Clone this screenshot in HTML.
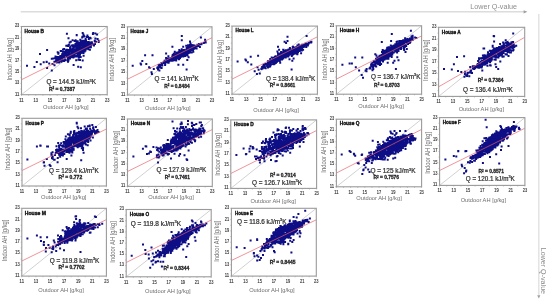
<!DOCTYPE html>
<html><head><meta charset="utf-8"><title>Indoor vs outdoor AH</title>
<style>
html,body{margin:0;padding:0;background:#fff;}
svg{display:block;font-family:"Liberation Sans", Arial, sans-serif;filter:blur(0.3px);}
</style></head><body>
<svg width="550" height="308" viewBox="0 0 550 308">
<rect width="550" height="308" fill="#fff"/>
<text x="0" y="0" font-size="6.3" fill="#6e6e6e" text-anchor="middle" transform="translate(11.87,59.30) rotate(-90)" textLength="42.6" lengthAdjust="spacingAndGlyphs">Indoor AH [g/kg]</text>
<text x="65.80" y="109.00" font-size="5.8" fill="#6e6e6e" text-anchor="middle" textLength="45.50" lengthAdjust="spacingAndGlyphs">Outdoor AH [g/kg]</text>
<text x="19.30" y="95.60" font-size="4.8" fill="#383838" text-anchor="end" textLength="4.40" lengthAdjust="spacingAndGlyphs" stroke="#383838" stroke-width="0.15">11</text>
<text x="21.50" y="101.60" font-size="4.8" fill="#383838" text-anchor="middle" textLength="4.40" lengthAdjust="spacingAndGlyphs" stroke="#383838" stroke-width="0.15">11</text>
<text x="19.30" y="84.23" font-size="4.8" fill="#383838" text-anchor="end" textLength="4.40" lengthAdjust="spacingAndGlyphs" stroke="#383838" stroke-width="0.15">13</text>
<text x="35.78" y="101.60" font-size="4.8" fill="#383838" text-anchor="middle" textLength="4.40" lengthAdjust="spacingAndGlyphs" stroke="#383838" stroke-width="0.15">13</text>
<text x="19.30" y="72.87" font-size="4.8" fill="#383838" text-anchor="end" textLength="4.40" lengthAdjust="spacingAndGlyphs" stroke="#383838" stroke-width="0.15">15</text>
<text x="50.07" y="101.60" font-size="4.8" fill="#383838" text-anchor="middle" textLength="4.40" lengthAdjust="spacingAndGlyphs" stroke="#383838" stroke-width="0.15">15</text>
<text x="19.30" y="61.50" font-size="4.8" fill="#383838" text-anchor="end" textLength="4.40" lengthAdjust="spacingAndGlyphs" stroke="#383838" stroke-width="0.15">17</text>
<text x="64.35" y="101.60" font-size="4.8" fill="#383838" text-anchor="middle" textLength="4.40" lengthAdjust="spacingAndGlyphs" stroke="#383838" stroke-width="0.15">17</text>
<text x="19.30" y="50.13" font-size="4.8" fill="#383838" text-anchor="end" textLength="4.40" lengthAdjust="spacingAndGlyphs" stroke="#383838" stroke-width="0.15">19</text>
<text x="78.63" y="101.60" font-size="4.8" fill="#383838" text-anchor="middle" textLength="4.40" lengthAdjust="spacingAndGlyphs" stroke="#383838" stroke-width="0.15">19</text>
<text x="19.30" y="38.77" font-size="4.8" fill="#383838" text-anchor="end" textLength="4.40" lengthAdjust="spacingAndGlyphs" stroke="#383838" stroke-width="0.15">21</text>
<text x="92.92" y="101.60" font-size="4.8" fill="#383838" text-anchor="middle" textLength="4.40" lengthAdjust="spacingAndGlyphs" stroke="#383838" stroke-width="0.15">21</text>
<text x="19.30" y="27.40" font-size="4.8" fill="#383838" text-anchor="end" textLength="4.40" lengthAdjust="spacingAndGlyphs" stroke="#383838" stroke-width="0.15">23</text>
<text x="107.20" y="101.60" font-size="4.8" fill="#383838" text-anchor="middle" textLength="4.40" lengthAdjust="spacingAndGlyphs" stroke="#383838" stroke-width="0.15">23</text>
<line x1="21.50" y1="94.70" x2="107.20" y2="26.50" stroke="#bdbdbd" stroke-width="0.7"/>
<path fill="#0d0d86" d="M62.3 55.0h2v2h-2zM57.1 58.0h2v2h-2zM84.6 38.0h2v2h-2zM80.8 41.4h2v2h-2zM75.5 47.0h2v2h-2zM64.4 54.5h2v2h-2zM66.7 55.5h2v2h-2zM71.9 45.0h2v2h-2zM75.0 40.4h2v2h-2zM66.6 50.8h2v2h-2zM78.8 52.5h2v2h-2zM77.6 51.2h2v2h-2zM82.4 50.2h2v2h-2zM88.1 41.2h2v2h-2zM68.2 49.7h2v2h-2zM67.8 51.5h2v2h-2zM76.8 48.2h2v2h-2zM84.5 49.4h2v2h-2zM77.3 49.5h2v2h-2zM81.1 46.5h2v2h-2zM83.8 41.7h2v2h-2zM86.0 47.7h2v2h-2zM91.4 42.7h2v2h-2zM61.1 53.4h2v2h-2zM76.5 50.1h2v2h-2zM65.5 54.4h2v2h-2zM75.5 40.3h2v2h-2zM83.3 46.8h2v2h-2zM86.9 44.8h2v2h-2zM72.4 44.7h2v2h-2zM72.0 49.8h2v2h-2zM71.8 47.4h2v2h-2zM82.0 44.6h2v2h-2zM78.9 50.9h2v2h-2zM62.4 53.5h2v2h-2zM83.4 48.2h2v2h-2zM80.7 41.7h2v2h-2zM83.9 41.9h2v2h-2zM57.5 56.5h2v2h-2zM72.1 55.1h2v2h-2zM64.8 49.9h2v2h-2zM91.2 42.7h2v2h-2zM69.0 57.5h2v2h-2zM62.1 50.8h2v2h-2zM78.8 42.9h2v2h-2zM82.8 41.1h2v2h-2zM67.9 54.1h2v2h-2zM71.3 51.0h2v2h-2zM77.0 47.2h2v2h-2zM75.0 50.5h2v2h-2zM81.3 49.2h2v2h-2zM60.3 60.8h2v2h-2zM57.3 58.6h2v2h-2zM89.6 43.8h2v2h-2zM83.4 45.7h2v2h-2zM67.9 53.6h2v2h-2zM66.0 55.4h2v2h-2zM62.2 59.7h2v2h-2zM72.0 54.0h2v2h-2zM57.9 60.0h2v2h-2zM76.7 47.7h2v2h-2zM63.3 60.0h2v2h-2zM82.1 50.1h2v2h-2zM74.0 45.6h2v2h-2zM72.1 53.1h2v2h-2zM62.4 56.2h2v2h-2zM55.3 58.6h2v2h-2zM81.0 49.8h2v2h-2zM85.1 47.2h2v2h-2zM84.1 49.3h2v2h-2zM75.3 47.3h2v2h-2zM89.4 43.4h2v2h-2zM59.7 50.0h2v2h-2zM82.6 54.8h2v2h-2zM69.0 49.7h2v2h-2zM73.0 51.5h2v2h-2zM63.9 51.2h2v2h-2zM74.4 51.1h2v2h-2zM90.0 41.6h2v2h-2zM62.3 56.6h2v2h-2zM75.0 51.6h2v2h-2zM75.1 48.5h2v2h-2zM87.0 46.5h2v2h-2zM68.9 54.3h2v2h-2zM67.0 54.1h2v2h-2zM66.1 53.7h2v2h-2zM51.5 63.1h2v2h-2zM71.5 49.7h2v2h-2zM60.5 58.0h2v2h-2zM85.4 41.8h2v2h-2zM71.4 51.2h2v2h-2zM97.7 41.1h2v2h-2zM79.1 47.1h2v2h-2zM79.9 48.7h2v2h-2zM68.7 49.1h2v2h-2zM81.8 47.8h2v2h-2zM83.3 39.8h2v2h-2zM66.8 51.2h2v2h-2zM56.8 61.1h2v2h-2zM80.5 51.3h2v2h-2zM76.7 40.3h2v2h-2zM73.3 54.1h2v2h-2zM74.9 51.4h2v2h-2zM82.2 48.4h2v2h-2zM83.0 46.0h2v2h-2zM92.2 43.4h2v2h-2zM61.3 57.0h2v2h-2zM74.4 43.9h2v2h-2zM76.0 54.8h2v2h-2zM89.8 45.0h2v2h-2zM79.7 56.0h2v2h-2zM78.0 46.8h2v2h-2zM55.8 61.4h2v2h-2zM71.5 55.8h2v2h-2zM85.8 47.7h2v2h-2zM83.0 46.9h2v2h-2zM75.5 50.8h2v2h-2zM74.8 55.2h2v2h-2zM87.1 44.8h2v2h-2zM81.5 35.8h2v2h-2zM81.6 50.9h2v2h-2zM69.0 46.7h2v2h-2zM82.5 42.8h2v2h-2zM73.2 53.9h2v2h-2zM64.9 51.7h2v2h-2zM79.5 46.1h2v2h-2zM85.6 47.0h2v2h-2zM70.4 50.5h2v2h-2zM71.2 49.1h2v2h-2zM72.8 49.0h2v2h-2zM85.0 44.9h2v2h-2zM77.4 51.6h2v2h-2zM75.5 44.3h2v2h-2zM89.4 44.0h2v2h-2zM71.4 48.4h2v2h-2zM77.5 58.7h2v2h-2zM57.7 60.0h2v2h-2zM85.0 39.4h2v2h-2zM83.2 49.7h2v2h-2zM69.3 55.7h2v2h-2zM56.0 60.1h2v2h-2zM87.3 47.5h2v2h-2zM54.7 60.4h2v2h-2zM63.8 50.9h2v2h-2zM74.2 43.6h2v2h-2zM68.5 49.2h2v2h-2zM73.3 50.0h2v2h-2zM75.4 47.4h2v2h-2zM94.0 43.1h2v2h-2zM83.7 50.6h2v2h-2zM67.1 45.1h2v2h-2zM77.6 45.9h2v2h-2zM75.6 43.4h2v2h-2zM75.4 44.2h2v2h-2zM77.7 56.3h2v2h-2zM77.0 55.2h2v2h-2zM80.5 51.1h2v2h-2zM67.1 56.4h2v2h-2zM54.1 57.3h2v2h-2zM61.9 59.4h2v2h-2zM69.6 53.3h2v2h-2zM58.1 56.1h2v2h-2zM60.0 56.2h2v2h-2zM66.1 48.7h2v2h-2zM55.1 59.4h2v2h-2zM71.6 54.3h2v2h-2zM60.2 56.4h2v2h-2zM85.9 43.3h2v2h-2zM61.5 52.7h2v2h-2zM75.9 47.5h2v2h-2zM87.2 44.2h2v2h-2zM86.8 45.5h2v2h-2zM59.9 57.5h2v2h-2zM79.0 53.0h2v2h-2zM79.6 43.1h2v2h-2zM83.6 40.1h2v2h-2zM79.1 43.4h2v2h-2zM76.4 52.4h2v2h-2zM87.4 44.5h2v2h-2zM84.5 44.2h2v2h-2zM73.6 45.4h2v2h-2zM57.2 59.1h2v2h-2zM75.2 46.6h2v2h-2zM79.5 40.8h2v2h-2zM80.9 50.2h2v2h-2zM74.3 44.0h2v2h-2zM58.7 57.8h2v2h-2zM75.9 45.3h2v2h-2zM68.1 49.5h2v2h-2zM88.5 46.1h2v2h-2zM79.2 48.4h2v2h-2zM84.1 42.4h2v2h-2zM76.6 47.3h2v2h-2zM77.4 49.0h2v2h-2zM73.9 50.5h2v2h-2zM62.8 53.0h2v2h-2zM75.3 51.9h2v2h-2zM85.4 41.2h2v2h-2zM83.1 43.5h2v2h-2zM73.9 55.4h2v2h-2zM59.3 54.9h2v2h-2zM73.8 53.6h2v2h-2zM80.9 44.1h2v2h-2zM83.1 41.0h2v2h-2zM71.2 55.1h2v2h-2zM74.7 42.9h2v2h-2zM60.2 59.5h2v2h-2zM68.0 55.1h2v2h-2zM78.8 50.4h2v2h-2zM75.5 48.8h2v2h-2zM64.1 52.5h2v2h-2zM58.7 59.8h2v2h-2zM72.4 45.5h2v2h-2zM70.7 51.6h2v2h-2zM73.8 48.8h2v2h-2zM64.1 53.2h2v2h-2zM78.1 56.6h2v2h-2zM57.7 59.8h2v2h-2zM71.8 54.2h2v2h-2zM82.3 43.4h2v2h-2zM66.7 49.0h2v2h-2zM69.3 56.8h2v2h-2zM62.8 54.4h2v2h-2zM78.2 51.8h2v2h-2zM75.2 44.8h2v2h-2zM76.4 49.5h2v2h-2zM88.1 43.0h2v2h-2zM76.9 52.0h2v2h-2zM83.9 45.2h2v2h-2zM76.9 50.1h2v2h-2zM75.3 45.6h2v2h-2zM53.4 60.8h2v2h-2zM81.7 47.9h2v2h-2zM78.8 43.1h2v2h-2zM62.7 59.9h2v2h-2zM68.0 56.2h2v2h-2zM60.6 57.7h2v2h-2zM65.0 52.7h2v2h-2zM70.3 56.1h2v2h-2zM75.5 44.5h2v2h-2zM89.3 41.9h2v2h-2zM58.1 61.4h2v2h-2zM58.7 57.4h2v2h-2zM72.0 53.8h2v2h-2zM73.1 52.7h2v2h-2zM70.4 56.0h2v2h-2zM76.7 53.8h2v2h-2zM71.7 49.4h2v2h-2zM75.3 55.4h2v2h-2zM71.6 47.8h2v2h-2zM66.3 59.2h2v2h-2zM79.6 44.1h2v2h-2zM78.1 46.4h2v2h-2zM86.8 47.6h2v2h-2zM72.4 49.6h2v2h-2zM70.3 49.5h2v2h-2zM63.1 56.1h2v2h-2zM65.6 52.3h2v2h-2zM71.7 52.2h2v2h-2zM76.0 50.3h2v2h-2zM56.5 56.1h2v2h-2zM63.5 50.8h2v2h-2zM79.8 48.1h2v2h-2zM69.4 48.7h2v2h-2zM68.3 50.1h2v2h-2zM88.5 44.9h2v2h-2zM78.2 52.5h2v2h-2zM66.3 55.0h2v2h-2zM66.9 55.0h2v2h-2zM70.2 52.7h2v2h-2zM68.9 50.5h2v2h-2zM83.7 46.8h2v2h-2zM84.2 43.3h2v2h-2zM72.4 48.7h2v2h-2zM67.0 54.3h2v2h-2zM90.1 43.4h2v2h-2zM69.2 55.2h2v2h-2zM82.4 43.4h2v2h-2zM81.0 43.6h2v2h-2zM93.0 44.4h2v2h-2zM79.4 44.0h2v2h-2zM76.9 41.8h2v2h-2zM73.6 44.7h2v2h-2zM75.6 48.9h2v2h-2zM93.7 39.8h2v2h-2zM65.3 48.7h2v2h-2zM79.6 47.9h2v2h-2zM67.0 58.3h2v2h-2zM71.2 47.7h2v2h-2zM67.6 57.2h2v2h-2zM78.8 54.3h2v2h-2zM53.5 64.3h2v2h-2zM65.1 52.9h2v2h-2zM76.3 51.5h2v2h-2zM73.5 53.2h2v2h-2zM72.6 46.5h2v2h-2zM66.8 56.6h2v2h-2zM83.2 42.5h2v2h-2zM65.9 49.0h2v2h-2zM78.2 45.8h2v2h-2zM81.1 40.5h2v2h-2zM87.5 42.6h2v2h-2zM86.5 44.9h2v2h-2zM66.6 54.0h2v2h-2zM78.0 45.1h2v2h-2zM89.9 46.3h2v2h-2zM66.8 53.5h2v2h-2zM64.1 51.6h2v2h-2zM70.0 54.6h2v2h-2zM73.7 53.4h2v2h-2zM79.2 41.9h2v2h-2zM76.8 50.4h2v2h-2zM79.0 42.5h2v2h-2zM80.6 44.1h2v2h-2zM89.6 45.7h2v2h-2zM63.5 54.3h2v2h-2zM81.7 47.8h2v2h-2zM73.5 54.7h2v2h-2zM65.2 51.2h2v2h-2zM54.5 55.6h2v2h-2zM75.6 46.7h2v2h-2zM79.3 38.8h2v2h-2zM86.0 45.9h2v2h-2zM75.9 42.0h2v2h-2zM77.0 46.3h2v2h-2zM84.6 44.2h2v2h-2zM80.0 49.6h2v2h-2zM66.2 53.3h2v2h-2zM90.8 41.2h2v2h-2zM87.0 41.3h2v2h-2zM67.0 60.8h2v2h-2zM90.1 41.7h2v2h-2zM68.4 51.1h2v2h-2zM67.3 50.8h2v2h-2zM72.7 53.3h2v2h-2zM74.8 44.5h2v2h-2zM82.0 47.4h2v2h-2zM70.5 44.4h2v2h-2zM57.1 57.9h2v2h-2zM68.3 56.3h2v2h-2zM61.6 58.9h2v2h-2zM55.5 59.2h2v2h-2zM81.4 39.7h2v2h-2zM88.9 48.7h2v2h-2zM56.3 60.9h2v2h-2zM66.7 50.4h2v2h-2zM81.3 51.7h2v2h-2zM85.8 41.7h2v2h-2zM72.0 44.3h2v2h-2zM79.7 52.0h2v2h-2zM87.2 41.0h2v2h-2zM76.9 54.9h2v2h-2zM69.8 53.5h2v2h-2zM55.5 56.9h2v2h-2zM64.8 51.6h2v2h-2zM64.7 50.3h2v2h-2zM73.4 51.7h2v2h-2zM64.1 59.0h2v2h-2zM90.9 41.4h2v2h-2zM78.8 42.1h2v2h-2zM67.5 59.5h2v2h-2zM79.8 51.7h2v2h-2zM72.9 55.7h2v2h-2zM84.7 43.1h2v2h-2zM74.2 44.2h2v2h-2zM63.8 56.7h2v2h-2zM63.1 48.1h2v2h-2zM71.7 49.0h2v2h-2zM63.9 52.3h2v2h-2zM77.8 48.0h2v2h-2zM84.0 46.0h2v2h-2zM82.5 52.0h2v2h-2zM77.9 47.1h2v2h-2zM61.0 55.3h2v2h-2zM63.0 50.7h2v2h-2zM73.0 45.8h2v2h-2zM91.3 43.2h2v2h-2zM62.9 56.3h2v2h-2zM87.6 48.3h2v2h-2zM88.1 45.9h2v2h-2zM56.1 57.4h2v2h-2zM83.6 48.5h2v2h-2zM94.0 40.5h2v2h-2zM76.7 44.1h2v2h-2zM66.7 44.6h2v2h-2zM72.8 47.7h2v2h-2zM76.6 44.7h2v2h-2zM67.1 50.9h2v2h-2zM79.9 45.1h2v2h-2zM69.4 45.8h2v2h-2zM59.4 57.3h2v2h-2zM74.8 49.9h2v2h-2zM78.3 50.7h2v2h-2zM72.3 51.7h2v2h-2zM90.2 41.8h2v2h-2zM80.0 51.1h2v2h-2zM77.5 54.1h2v2h-2zM67.0 56.1h2v2h-2zM67.9 51.4h2v2h-2zM72.3 56.6h2v2h-2zM78.0 43.2h2v2h-2zM82.8 50.6h2v2h-2zM75.6 48.3h2v2h-2zM73.7 40.0h2v2h-2zM68.7 41.4h2v2h-2zM62.0 48.6h2v2h-2zM85.8 35.9h2v2h-2zM83.4 35.4h2v2h-2zM56.7 51.3h2v2h-2zM89.6 37.3h2v2h-2zM74.6 39.3h2v2h-2zM87.0 36.1h2v2h-2zM89.0 36.7h2v2h-2zM81.2 36.6h2v2h-2zM86.4 34.6h2v2h-2zM91.9 32.9h2v2h-2zM69.8 40.7h2v2h-2zM52.4 57.6h2v2h-2zM71.6 39.3h2v2h-2zM82.4 33.5h2v2h-2zM57.3 52.8h2v2h-2zM46.1 48.9h2v2h-2zM57.5 52.0h2v2h-2zM60.1 49.9h2v2h-2zM50.8 57.7h2v2h-2zM45.6 60.8h2v2h-2zM48.2 62.4h2v2h-2zM46.1 67.0h2v2h-2zM50.8 69.6h2v2h-2zM72.6 64.0h2v2h-2zM77.2 65.8h2v2h-2zM79.8 66.2h2v2h-2zM75.2 59.3h2v2h-2zM65.3 44.7h2v2h-2zM67.9 43.7h2v2h-2zM81.7 32.0h2v2h-2zM82.8 34.7h2v2h-2zM75.7 34.2h2v2h-2zM92.2 32.0h2v2h-2zM94.4 32.5h2v2h-2zM96.1 33.6h2v2h-2zM94.4 37.5h2v2h-2zM96.6 38.0h2v2h-2zM97.7 39.7h2v2h-2zM95.0 40.8h2v2h-2zM87.8 38.0h2v2h-2zM79.0 59.0h2v2h-2zM81.7 59.6h2v2h-2zM39.0 53.1h2v2h-2zM35.8 60.9h2v2h-2zM26.0 64.7h2v2h-2zM33.4 66.1h2v2h-2zM39.7 63.3h2v2h-2zM42.7 61.2h2v2h-2zM45.7 61.0h2v2h-2zM65.9 32.8h2v2h-2zM75.7 33.9h2v2h-2zM67.5 37.2h2v2h-2z"/>
<line x1="21.50" y1="79.70" x2="107.20" y2="37.00" stroke="#e8606a" stroke-width="0.8" stroke-opacity="0.85"/>
<rect x="21.50" y="26.50" width="85.70" height="68.20" fill="none" stroke="#9a9a9a" stroke-width="1.1"/>
<path d="M21.50 94.70v1.2M20.30 94.70h1.2M28.64 94.70v1.2M20.30 89.02h1.2M35.78 94.70v1.2M20.30 83.33h1.2M42.92 94.70v1.2M20.30 77.65h1.2M50.07 94.70v1.2M20.30 71.97h1.2M57.21 94.70v1.2M20.30 66.28h1.2M64.35 94.70v1.2M20.30 60.60h1.2M71.49 94.70v1.2M20.30 54.92h1.2M78.63 94.70v1.2M20.30 49.23h1.2M85.78 94.70v1.2M20.30 43.55h1.2M92.92 94.70v1.2M20.30 37.87h1.2M100.06 94.70v1.2M20.30 32.18h1.2M107.20 94.70v1.2M20.30 26.50h1.2" stroke="#999" stroke-width="0.5" fill="none"/>
<text x="24.60" y="32.70" font-size="5.1" fill="#111" font-weight="bold" textLength="19.40" lengthAdjust="spacingAndGlyphs" stroke="#111" stroke-width="0.35">House B</text>
<text x="46.40" y="84.00" font-size="6.3" fill="#303030" stroke="#303030" stroke-width="0.22" textLength="49.60" lengthAdjust="spacingAndGlyphs">Q = 144.5 kJ/m<tspan font-size="3.91" dy="-2.4">3</tspan><tspan dy="2.4">K</tspan></text>
<text x="48.90" y="90.60" font-size="5.3" fill="#1e1e1e" stroke="#1e1e1e" stroke-width="0.28" font-weight="bold" textLength="26.10" lengthAdjust="spacingAndGlyphs">R<tspan font-size="3.18" dy="-1.8">2</tspan><tspan dy="1.8"> = 0.7387</tspan></text>
<text x="0" y="0" font-size="6.3" fill="#6e6e6e" text-anchor="middle" transform="translate(114.27,59.60) rotate(-90)" textLength="43.5" lengthAdjust="spacingAndGlyphs">Indoor AH [g/kg]</text>
<text x="167.80" y="110.00" font-size="5.8" fill="#6e6e6e" text-anchor="middle" textLength="45.50" lengthAdjust="spacingAndGlyphs">Outdoor AH [g/kg]</text>
<text x="125.30" y="95.90" font-size="4.8" fill="#383838" text-anchor="end" textLength="4.40" lengthAdjust="spacingAndGlyphs" stroke="#383838" stroke-width="0.15">11</text>
<text x="127.50" y="101.90" font-size="4.8" fill="#383838" text-anchor="middle" textLength="4.40" lengthAdjust="spacingAndGlyphs" stroke="#383838" stroke-width="0.15">11</text>
<text x="125.30" y="84.53" font-size="4.8" fill="#383838" text-anchor="end" textLength="4.40" lengthAdjust="spacingAndGlyphs" stroke="#383838" stroke-width="0.15">13</text>
<text x="141.58" y="101.90" font-size="4.8" fill="#383838" text-anchor="middle" textLength="4.40" lengthAdjust="spacingAndGlyphs" stroke="#383838" stroke-width="0.15">13</text>
<text x="125.30" y="73.17" font-size="4.8" fill="#383838" text-anchor="end" textLength="4.40" lengthAdjust="spacingAndGlyphs" stroke="#383838" stroke-width="0.15">15</text>
<text x="155.67" y="101.90" font-size="4.8" fill="#383838" text-anchor="middle" textLength="4.40" lengthAdjust="spacingAndGlyphs" stroke="#383838" stroke-width="0.15">15</text>
<text x="125.30" y="61.80" font-size="4.8" fill="#383838" text-anchor="end" textLength="4.40" lengthAdjust="spacingAndGlyphs" stroke="#383838" stroke-width="0.15">17</text>
<text x="169.75" y="101.90" font-size="4.8" fill="#383838" text-anchor="middle" textLength="4.40" lengthAdjust="spacingAndGlyphs" stroke="#383838" stroke-width="0.15">17</text>
<text x="125.30" y="50.43" font-size="4.8" fill="#383838" text-anchor="end" textLength="4.40" lengthAdjust="spacingAndGlyphs" stroke="#383838" stroke-width="0.15">19</text>
<text x="183.83" y="101.90" font-size="4.8" fill="#383838" text-anchor="middle" textLength="4.40" lengthAdjust="spacingAndGlyphs" stroke="#383838" stroke-width="0.15">19</text>
<text x="125.30" y="39.07" font-size="4.8" fill="#383838" text-anchor="end" textLength="4.40" lengthAdjust="spacingAndGlyphs" stroke="#383838" stroke-width="0.15">21</text>
<text x="197.92" y="101.90" font-size="4.8" fill="#383838" text-anchor="middle" textLength="4.40" lengthAdjust="spacingAndGlyphs" stroke="#383838" stroke-width="0.15">21</text>
<text x="125.30" y="27.70" font-size="4.8" fill="#383838" text-anchor="end" textLength="4.40" lengthAdjust="spacingAndGlyphs" stroke="#383838" stroke-width="0.15">23</text>
<text x="212.00" y="101.90" font-size="4.8" fill="#383838" text-anchor="middle" textLength="4.40" lengthAdjust="spacingAndGlyphs" stroke="#383838" stroke-width="0.15">23</text>
<line x1="127.50" y1="95.00" x2="212.00" y2="26.80" stroke="#bdbdbd" stroke-width="0.7"/>
<path fill="#0d0d86" d="M183.5 51.5h2v2h-2zM179.9 55.5h2v2h-2zM192.3 50.8h2v2h-2zM182.4 51.6h2v2h-2zM179.0 57.1h2v2h-2zM179.9 51.8h2v2h-2zM188.6 51.3h2v2h-2zM189.9 44.4h2v2h-2zM160.9 63.1h2v2h-2zM157.3 66.4h2v2h-2zM166.6 61.2h2v2h-2zM168.6 59.0h2v2h-2zM182.8 55.0h2v2h-2zM159.4 63.9h2v2h-2zM182.9 50.4h2v2h-2zM204.7 41.6h2v2h-2zM183.9 50.4h2v2h-2zM189.4 51.5h2v2h-2zM177.3 56.1h2v2h-2zM177.5 52.8h2v2h-2zM182.6 53.2h2v2h-2zM191.5 45.3h2v2h-2zM186.5 54.5h2v2h-2zM177.1 55.3h2v2h-2zM181.9 54.0h2v2h-2zM182.8 54.0h2v2h-2zM185.9 49.9h2v2h-2zM150.5 71.2h2v2h-2zM174.0 53.2h2v2h-2zM186.8 46.1h2v2h-2zM190.7 51.5h2v2h-2zM173.4 56.2h2v2h-2zM188.4 45.5h2v2h-2zM160.9 62.8h2v2h-2zM168.2 60.3h2v2h-2zM182.5 53.1h2v2h-2zM182.8 49.1h2v2h-2zM174.0 56.3h2v2h-2zM185.8 49.1h2v2h-2zM182.2 51.2h2v2h-2zM180.3 51.2h2v2h-2zM174.4 57.6h2v2h-2zM197.5 44.9h2v2h-2zM180.8 54.9h2v2h-2zM182.7 54.2h2v2h-2zM171.9 54.1h2v2h-2zM172.7 55.6h2v2h-2zM180.1 52.8h2v2h-2zM157.7 63.9h2v2h-2zM165.1 57.0h2v2h-2zM183.1 53.8h2v2h-2zM175.8 57.5h2v2h-2zM181.5 53.7h2v2h-2zM167.7 59.5h2v2h-2zM189.2 48.1h2v2h-2zM192.7 45.1h2v2h-2zM172.2 56.3h2v2h-2zM190.9 48.0h2v2h-2zM177.4 53.0h2v2h-2zM176.8 53.5h2v2h-2zM186.8 45.2h2v2h-2zM161.3 63.8h2v2h-2zM184.0 50.9h2v2h-2zM181.3 51.6h2v2h-2zM167.8 57.5h2v2h-2zM171.7 59.4h2v2h-2zM173.8 50.7h2v2h-2zM159.2 66.4h2v2h-2zM172.8 52.7h2v2h-2zM156.3 67.1h2v2h-2zM174.7 55.2h2v2h-2zM187.5 51.0h2v2h-2zM166.5 59.0h2v2h-2zM202.8 42.1h2v2h-2zM185.8 50.4h2v2h-2zM174.8 55.8h2v2h-2zM177.6 55.1h2v2h-2zM178.7 56.4h2v2h-2zM160.6 62.7h2v2h-2zM185.2 44.8h2v2h-2zM175.8 54.3h2v2h-2zM166.9 60.4h2v2h-2zM189.5 42.6h2v2h-2zM191.8 45.1h2v2h-2zM174.3 55.2h2v2h-2zM161.0 64.5h2v2h-2zM171.5 56.3h2v2h-2zM170.9 59.7h2v2h-2zM181.5 55.1h2v2h-2zM157.0 68.5h2v2h-2zM187.5 49.5h2v2h-2zM179.6 54.4h2v2h-2zM179.8 52.4h2v2h-2zM173.0 54.7h2v2h-2zM177.2 53.2h2v2h-2zM195.6 47.4h2v2h-2zM189.8 44.8h2v2h-2zM193.5 44.6h2v2h-2zM167.6 61.6h2v2h-2zM186.2 52.0h2v2h-2zM182.6 49.4h2v2h-2zM182.4 53.1h2v2h-2zM165.9 57.9h2v2h-2zM181.3 53.4h2v2h-2zM179.1 56.1h2v2h-2zM178.5 54.8h2v2h-2zM189.5 50.8h2v2h-2zM176.5 57.2h2v2h-2zM189.0 44.0h2v2h-2zM164.2 63.0h2v2h-2zM186.1 51.2h2v2h-2zM178.3 57.5h2v2h-2zM169.3 58.6h2v2h-2zM191.8 44.8h2v2h-2zM191.3 49.0h2v2h-2zM171.8 57.1h2v2h-2zM186.4 47.2h2v2h-2zM192.7 47.5h2v2h-2zM168.4 59.9h2v2h-2zM175.2 59.4h2v2h-2zM186.4 47.2h2v2h-2zM175.1 59.0h2v2h-2zM180.1 55.7h2v2h-2zM182.2 45.8h2v2h-2zM187.6 47.4h2v2h-2zM185.6 48.9h2v2h-2zM184.2 54.9h2v2h-2zM160.5 62.1h2v2h-2zM169.6 57.2h2v2h-2zM191.8 44.8h2v2h-2zM187.7 47.0h2v2h-2zM180.7 48.3h2v2h-2zM193.3 47.7h2v2h-2zM169.3 59.3h2v2h-2zM192.9 46.4h2v2h-2zM189.4 46.2h2v2h-2zM190.9 44.5h2v2h-2zM184.5 51.7h2v2h-2zM178.4 51.0h2v2h-2zM187.9 48.5h2v2h-2zM198.5 43.4h2v2h-2zM181.8 52.7h2v2h-2zM186.0 53.6h2v2h-2zM190.7 48.6h2v2h-2zM183.2 52.9h2v2h-2zM204.4 40.4h2v2h-2zM165.2 61.0h2v2h-2zM191.6 45.8h2v2h-2zM182.1 52.0h2v2h-2zM193.1 45.6h2v2h-2zM184.5 51.9h2v2h-2zM185.7 47.1h2v2h-2zM186.6 46.7h2v2h-2zM183.1 49.8h2v2h-2zM181.8 54.3h2v2h-2zM164.7 59.5h2v2h-2zM176.8 56.7h2v2h-2zM191.8 47.4h2v2h-2zM179.9 55.8h2v2h-2zM164.1 63.9h2v2h-2zM204.1 38.7h2v2h-2zM162.8 61.1h2v2h-2zM166.1 57.4h2v2h-2zM167.1 60.7h2v2h-2zM177.6 53.0h2v2h-2zM184.8 51.8h2v2h-2zM180.8 52.1h2v2h-2zM187.8 51.0h2v2h-2zM190.6 43.9h2v2h-2zM173.3 57.6h2v2h-2zM175.3 51.9h2v2h-2zM172.8 54.6h2v2h-2zM181.6 54.7h2v2h-2zM191.1 45.3h2v2h-2zM184.2 49.4h2v2h-2zM184.6 49.7h2v2h-2zM185.1 51.7h2v2h-2zM158.4 65.8h2v2h-2zM174.4 57.8h2v2h-2zM168.7 58.9h2v2h-2zM167.1 61.4h2v2h-2zM184.7 49.3h2v2h-2zM168.0 60.0h2v2h-2zM178.9 56.0h2v2h-2zM192.5 46.0h2v2h-2zM189.5 45.6h2v2h-2zM165.0 60.3h2v2h-2zM185.0 54.0h2v2h-2zM184.0 51.0h2v2h-2zM178.0 58.3h2v2h-2zM172.0 57.9h2v2h-2zM187.1 44.3h2v2h-2zM187.6 52.0h2v2h-2zM173.4 57.7h2v2h-2zM189.5 50.6h2v2h-2zM159.1 64.4h2v2h-2zM178.3 50.7h2v2h-2zM169.4 59.5h2v2h-2zM175.1 54.5h2v2h-2zM178.1 54.3h2v2h-2zM181.5 51.9h2v2h-2zM175.3 54.8h2v2h-2zM178.3 49.0h2v2h-2zM192.0 48.7h2v2h-2zM182.4 50.3h2v2h-2zM171.3 58.5h2v2h-2zM179.7 54.7h2v2h-2zM174.0 56.3h2v2h-2zM165.6 58.4h2v2h-2zM193.7 44.9h2v2h-2zM181.5 52.9h2v2h-2zM177.7 51.2h2v2h-2zM179.8 51.0h2v2h-2zM179.8 53.6h2v2h-2zM192.5 47.3h2v2h-2zM183.2 53.0h2v2h-2zM167.9 58.1h2v2h-2zM176.0 57.5h2v2h-2zM189.2 48.9h2v2h-2zM198.9 46.1h2v2h-2zM170.4 59.0h2v2h-2zM175.2 58.6h2v2h-2zM190.3 46.7h2v2h-2zM187.9 50.6h2v2h-2zM167.6 61.8h2v2h-2zM193.2 45.7h2v2h-2zM171.5 54.4h2v2h-2zM170.7 58.4h2v2h-2zM169.0 57.7h2v2h-2zM180.5 51.4h2v2h-2zM178.5 50.2h2v2h-2zM169.9 57.9h2v2h-2zM167.5 59.0h2v2h-2zM173.6 58.5h2v2h-2zM200.5 43.0h2v2h-2zM160.6 67.0h2v2h-2zM171.4 55.9h2v2h-2zM158.4 69.4h2v2h-2zM181.8 54.0h2v2h-2zM172.6 55.2h2v2h-2zM165.8 57.4h2v2h-2zM164.1 61.0h2v2h-2zM175.8 57.0h2v2h-2zM179.9 49.9h2v2h-2zM175.4 52.8h2v2h-2zM186.3 52.7h2v2h-2zM171.7 56.4h2v2h-2zM183.9 49.2h2v2h-2zM177.0 55.3h2v2h-2zM191.9 46.7h2v2h-2zM182.1 54.1h2v2h-2zM196.4 43.7h2v2h-2zM177.8 54.1h2v2h-2zM191.9 48.3h2v2h-2zM179.7 52.5h2v2h-2zM181.2 50.0h2v2h-2zM180.1 52.2h2v2h-2zM176.1 54.6h2v2h-2zM176.7 56.6h2v2h-2zM183.1 48.9h2v2h-2zM182.4 54.1h2v2h-2zM174.0 54.7h2v2h-2zM186.7 50.6h2v2h-2zM163.6 59.7h2v2h-2zM167.4 55.3h2v2h-2zM174.9 56.3h2v2h-2zM167.8 57.7h2v2h-2zM175.1 54.0h2v2h-2zM194.2 47.1h2v2h-2zM156.7 66.2h2v2h-2zM169.9 59.1h2v2h-2zM190.5 49.1h2v2h-2zM179.7 50.3h2v2h-2zM180.7 50.0h2v2h-2zM183.6 51.1h2v2h-2zM189.8 48.3h2v2h-2zM192.2 44.2h2v2h-2zM181.2 50.3h2v2h-2zM185.1 51.4h2v2h-2zM173.9 59.0h2v2h-2zM152.8 68.0h2v2h-2zM177.8 54.6h2v2h-2zM171.2 59.4h2v2h-2zM174.2 55.8h2v2h-2zM182.2 55.0h2v2h-2zM163.0 62.1h2v2h-2zM174.1 55.6h2v2h-2zM158.3 64.7h2v2h-2zM177.7 54.8h2v2h-2zM176.3 51.6h2v2h-2zM198.0 43.0h2v2h-2zM172.7 52.9h2v2h-2zM194.4 45.4h2v2h-2zM177.7 52.6h2v2h-2zM194.1 46.3h2v2h-2zM172.5 59.6h2v2h-2zM195.7 45.2h2v2h-2zM186.5 53.1h2v2h-2zM181.5 51.4h2v2h-2zM193.6 44.9h2v2h-2zM175.1 55.2h2v2h-2zM172.7 57.1h2v2h-2zM186.7 52.1h2v2h-2zM192.3 45.8h2v2h-2zM164.8 61.0h2v2h-2zM179.0 53.6h2v2h-2zM192.6 47.3h2v2h-2zM200.3 42.8h2v2h-2zM165.6 57.9h2v2h-2zM172.7 58.9h2v2h-2zM181.7 53.8h2v2h-2zM178.7 56.0h2v2h-2zM191.2 47.9h2v2h-2zM182.3 55.4h2v2h-2zM181.2 51.2h2v2h-2zM189.6 44.8h2v2h-2zM164.7 59.5h2v2h-2zM160.6 64.0h2v2h-2zM200.3 43.2h2v2h-2zM171.1 56.4h2v2h-2zM144.1 54.3h2v2h-2zM151.5 54.3h2v2h-2zM141.3 60.0h2v2h-2zM145.3 62.9h2v2h-2zM165.1 52.6h2v2h-2zM171.4 45.8h2v2h-2zM148.1 66.3h2v2h-2zM150.9 73.1h2v2h-2zM140.1 63.4h2v2h-2zM180.8 35.1h2v2h-2zM180.8 39.2h2v2h-2zM199.9 36.5h2v2h-2zM189.0 40.6h2v2h-2zM185.6 68.6h2v2h-2zM182.2 63.8h2v2h-2zM177.4 63.8h2v2h-2zM186.3 59.0h2v2h-2zM187.6 56.3h2v2h-2zM131.7 64.8h2v2h-2zM139.6 62.5h2v2h-2zM148.7 67.0h2v2h-2z"/>
<line x1="127.50" y1="79.20" x2="212.00" y2="37.70" stroke="#e8606a" stroke-width="0.8" stroke-opacity="0.85"/>
<rect x="127.50" y="26.80" width="84.50" height="68.20" fill="none" stroke="#9a9a9a" stroke-width="1.1"/>
<path d="M127.50 95.00v1.2M126.30 95.00h1.2M134.54 95.00v1.2M126.30 89.32h1.2M141.58 95.00v1.2M126.30 83.63h1.2M148.62 95.00v1.2M126.30 77.95h1.2M155.67 95.00v1.2M126.30 72.27h1.2M162.71 95.00v1.2M126.30 66.58h1.2M169.75 95.00v1.2M126.30 60.90h1.2M176.79 95.00v1.2M126.30 55.22h1.2M183.83 95.00v1.2M126.30 49.53h1.2M190.88 95.00v1.2M126.30 43.85h1.2M197.92 95.00v1.2M126.30 38.17h1.2M204.96 95.00v1.2M126.30 32.48h1.2M212.00 95.00v1.2M126.30 26.80h1.2" stroke="#999" stroke-width="0.5" fill="none"/>
<text x="130.40" y="33.00" font-size="5.1" fill="#111" font-weight="bold" textLength="17.80" lengthAdjust="spacingAndGlyphs" stroke="#111" stroke-width="0.35">House J</text>
<text x="154.60" y="80.80" font-size="6.3" fill="#303030" stroke="#303030" stroke-width="0.22" textLength="44.20" lengthAdjust="spacingAndGlyphs">Q = 141 kJ/m<tspan font-size="3.91" dy="-2.4">3</tspan><tspan dy="2.4">K</tspan></text>
<text x="164.20" y="87.60" font-size="5.3" fill="#1e1e1e" stroke="#1e1e1e" stroke-width="0.28" font-weight="bold" textLength="25.40" lengthAdjust="spacingAndGlyphs">R<tspan font-size="3.18" dy="-1.8">2</tspan><tspan dy="1.8"> = 0.8484</tspan></text>
<text x="0" y="0" font-size="6.3" fill="#6e6e6e" text-anchor="middle" transform="translate(222.37,61.10) rotate(-90)" textLength="41.8" lengthAdjust="spacingAndGlyphs">Indoor AH [g/kg]</text>
<text x="276.10" y="111.80" font-size="5.8" fill="#6e6e6e" text-anchor="middle" textLength="45.50" lengthAdjust="spacingAndGlyphs">Outdoor AH [g/kg]</text>
<text x="229.80" y="95.10" font-size="4.8" fill="#383838" text-anchor="end" textLength="4.40" lengthAdjust="spacingAndGlyphs" stroke="#383838" stroke-width="0.15">11</text>
<text x="232.00" y="101.10" font-size="4.8" fill="#383838" text-anchor="middle" textLength="4.40" lengthAdjust="spacingAndGlyphs" stroke="#383838" stroke-width="0.15">11</text>
<text x="229.80" y="83.75" font-size="4.8" fill="#383838" text-anchor="end" textLength="4.40" lengthAdjust="spacingAndGlyphs" stroke="#383838" stroke-width="0.15">13</text>
<text x="246.23" y="101.10" font-size="4.8" fill="#383838" text-anchor="middle" textLength="4.40" lengthAdjust="spacingAndGlyphs" stroke="#383838" stroke-width="0.15">13</text>
<text x="229.80" y="72.40" font-size="4.8" fill="#383838" text-anchor="end" textLength="4.40" lengthAdjust="spacingAndGlyphs" stroke="#383838" stroke-width="0.15">15</text>
<text x="260.47" y="101.10" font-size="4.8" fill="#383838" text-anchor="middle" textLength="4.40" lengthAdjust="spacingAndGlyphs" stroke="#383838" stroke-width="0.15">15</text>
<text x="229.80" y="61.05" font-size="4.8" fill="#383838" text-anchor="end" textLength="4.40" lengthAdjust="spacingAndGlyphs" stroke="#383838" stroke-width="0.15">17</text>
<text x="274.70" y="101.10" font-size="4.8" fill="#383838" text-anchor="middle" textLength="4.40" lengthAdjust="spacingAndGlyphs" stroke="#383838" stroke-width="0.15">17</text>
<text x="229.80" y="49.70" font-size="4.8" fill="#383838" text-anchor="end" textLength="4.40" lengthAdjust="spacingAndGlyphs" stroke="#383838" stroke-width="0.15">19</text>
<text x="288.93" y="101.10" font-size="4.8" fill="#383838" text-anchor="middle" textLength="4.40" lengthAdjust="spacingAndGlyphs" stroke="#383838" stroke-width="0.15">19</text>
<text x="229.80" y="38.35" font-size="4.8" fill="#383838" text-anchor="end" textLength="4.40" lengthAdjust="spacingAndGlyphs" stroke="#383838" stroke-width="0.15">21</text>
<text x="303.17" y="101.10" font-size="4.8" fill="#383838" text-anchor="middle" textLength="4.40" lengthAdjust="spacingAndGlyphs" stroke="#383838" stroke-width="0.15">21</text>
<text x="229.80" y="27.00" font-size="4.8" fill="#383838" text-anchor="end" textLength="4.40" lengthAdjust="spacingAndGlyphs" stroke="#383838" stroke-width="0.15">23</text>
<text x="317.40" y="101.10" font-size="4.8" fill="#383838" text-anchor="middle" textLength="4.40" lengthAdjust="spacingAndGlyphs" stroke="#383838" stroke-width="0.15">23</text>
<line x1="232.00" y1="94.20" x2="317.40" y2="26.10" stroke="#bdbdbd" stroke-width="0.7"/>
<path fill="#0d0d86" d="M288.0 53.3h2v2h-2zM268.9 59.7h2v2h-2zM287.0 54.7h2v2h-2zM298.5 50.0h2v2h-2zM300.0 46.5h2v2h-2zM291.4 53.2h2v2h-2zM304.4 42.7h2v2h-2zM305.1 42.7h2v2h-2zM303.7 44.1h2v2h-2zM298.5 47.8h2v2h-2zM295.3 49.2h2v2h-2zM307.9 41.8h2v2h-2zM301.6 44.4h2v2h-2zM274.6 55.2h2v2h-2zM266.1 65.1h2v2h-2zM272.1 57.1h2v2h-2zM264.9 63.6h2v2h-2zM292.7 51.0h2v2h-2zM296.5 51.3h2v2h-2zM273.6 58.0h2v2h-2zM273.6 58.3h2v2h-2zM294.7 51.6h2v2h-2zM276.5 58.3h2v2h-2zM278.3 54.0h2v2h-2zM279.9 54.1h2v2h-2zM309.7 41.2h2v2h-2zM309.4 41.6h2v2h-2zM283.9 51.5h2v2h-2zM304.6 42.8h2v2h-2zM277.3 55.5h2v2h-2zM278.2 53.1h2v2h-2zM292.0 49.7h2v2h-2zM291.1 50.3h2v2h-2zM279.3 52.5h2v2h-2zM274.3 57.9h2v2h-2zM293.6 52.1h2v2h-2zM298.4 45.8h2v2h-2zM271.0 61.1h2v2h-2zM286.6 50.5h2v2h-2zM297.1 48.4h2v2h-2zM298.0 47.9h2v2h-2zM260.3 67.8h2v2h-2zM300.8 44.4h2v2h-2zM275.3 60.5h2v2h-2zM292.1 47.0h2v2h-2zM297.7 48.2h2v2h-2zM266.8 62.2h2v2h-2zM289.9 51.2h2v2h-2zM269.2 61.6h2v2h-2zM295.8 48.5h2v2h-2zM276.4 57.6h2v2h-2zM272.8 61.8h2v2h-2zM270.3 60.6h2v2h-2zM277.5 54.3h2v2h-2zM291.7 51.1h2v2h-2zM294.9 49.4h2v2h-2zM292.6 51.0h2v2h-2zM297.3 49.1h2v2h-2zM273.6 62.8h2v2h-2zM286.7 50.6h2v2h-2zM262.3 66.1h2v2h-2zM280.8 58.6h2v2h-2zM280.6 58.0h2v2h-2zM300.2 49.3h2v2h-2zM289.3 52.6h2v2h-2zM266.9 60.2h2v2h-2zM271.7 59.2h2v2h-2zM293.8 50.8h2v2h-2zM284.1 53.3h2v2h-2zM300.6 45.1h2v2h-2zM262.4 64.2h2v2h-2zM280.3 52.7h2v2h-2zM272.1 57.3h2v2h-2zM282.0 53.5h2v2h-2zM276.9 56.9h2v2h-2zM278.8 54.7h2v2h-2zM295.9 48.9h2v2h-2zM279.9 52.3h2v2h-2zM295.4 51.7h2v2h-2zM274.4 62.0h2v2h-2zM285.6 52.3h2v2h-2zM262.1 66.1h2v2h-2zM286.6 51.0h2v2h-2zM260.6 67.9h2v2h-2zM274.7 55.2h2v2h-2zM288.7 49.6h2v2h-2zM266.9 62.0h2v2h-2zM299.1 47.9h2v2h-2zM297.0 51.1h2v2h-2zM300.0 46.6h2v2h-2zM284.9 49.2h2v2h-2zM279.7 58.6h2v2h-2zM274.2 61.9h2v2h-2zM302.6 45.6h2v2h-2zM300.5 48.3h2v2h-2zM274.9 58.7h2v2h-2zM295.9 49.6h2v2h-2zM295.1 46.2h2v2h-2zM294.9 52.4h2v2h-2zM294.0 48.7h2v2h-2zM282.5 48.8h2v2h-2zM280.1 51.0h2v2h-2zM301.8 44.6h2v2h-2zM299.3 47.0h2v2h-2zM290.8 55.1h2v2h-2zM281.6 57.6h2v2h-2zM285.2 51.6h2v2h-2zM271.9 59.7h2v2h-2zM276.3 60.0h2v2h-2zM295.6 47.1h2v2h-2zM296.5 52.4h2v2h-2zM274.0 58.3h2v2h-2zM289.0 50.9h2v2h-2zM293.9 47.5h2v2h-2zM276.3 59.7h2v2h-2zM298.9 45.5h2v2h-2zM304.7 43.5h2v2h-2zM285.3 50.3h2v2h-2zM278.5 54.1h2v2h-2zM276.9 55.8h2v2h-2zM298.3 47.6h2v2h-2zM303.3 44.2h2v2h-2zM277.5 59.3h2v2h-2zM294.1 47.9h2v2h-2zM273.8 59.4h2v2h-2zM271.3 59.7h2v2h-2zM286.1 52.3h2v2h-2zM279.9 54.9h2v2h-2zM273.6 58.4h2v2h-2zM299.3 47.1h2v2h-2zM282.0 51.3h2v2h-2zM279.0 56.5h2v2h-2zM280.3 56.2h2v2h-2zM290.0 52.7h2v2h-2zM276.7 55.4h2v2h-2zM284.3 54.4h2v2h-2zM269.2 62.5h2v2h-2zM272.5 60.1h2v2h-2zM273.6 56.1h2v2h-2zM280.4 56.7h2v2h-2zM281.7 53.6h2v2h-2zM296.5 49.7h2v2h-2zM288.3 49.1h2v2h-2zM281.4 54.9h2v2h-2zM300.0 48.4h2v2h-2zM285.8 53.5h2v2h-2zM272.1 63.0h2v2h-2zM280.3 58.0h2v2h-2zM280.2 56.7h2v2h-2zM288.9 49.8h2v2h-2zM279.4 58.1h2v2h-2zM284.1 52.7h2v2h-2zM307.5 42.8h2v2h-2zM297.0 48.5h2v2h-2zM274.0 57.0h2v2h-2zM263.9 66.1h2v2h-2zM297.3 48.2h2v2h-2zM281.8 54.3h2v2h-2zM280.4 56.1h2v2h-2zM296.6 51.1h2v2h-2zM300.7 44.8h2v2h-2zM279.4 53.8h2v2h-2zM301.2 43.7h2v2h-2zM275.7 56.8h2v2h-2zM284.0 52.6h2v2h-2zM298.7 47.9h2v2h-2zM277.0 52.5h2v2h-2zM301.6 45.6h2v2h-2zM287.7 51.5h2v2h-2zM288.7 52.7h2v2h-2zM286.2 52.2h2v2h-2zM266.2 63.6h2v2h-2zM274.2 59.9h2v2h-2zM284.4 50.0h2v2h-2zM294.7 50.3h2v2h-2zM282.8 50.0h2v2h-2zM277.4 55.7h2v2h-2zM301.3 45.8h2v2h-2zM302.1 46.1h2v2h-2zM290.6 49.3h2v2h-2zM299.9 46.2h2v2h-2zM283.4 52.6h2v2h-2zM303.0 45.7h2v2h-2zM299.6 46.3h2v2h-2zM294.2 46.4h2v2h-2zM273.3 58.6h2v2h-2zM291.6 48.7h2v2h-2zM277.0 56.4h2v2h-2zM282.2 57.5h2v2h-2zM280.9 52.7h2v2h-2zM276.1 57.3h2v2h-2zM272.6 62.0h2v2h-2zM281.8 55.9h2v2h-2zM297.8 48.6h2v2h-2zM290.5 51.4h2v2h-2zM285.5 52.3h2v2h-2zM280.3 54.0h2v2h-2zM264.7 67.2h2v2h-2zM297.7 43.5h2v2h-2zM286.3 55.4h2v2h-2zM306.9 44.6h2v2h-2zM305.1 43.6h2v2h-2zM279.9 57.0h2v2h-2zM279.0 58.3h2v2h-2zM301.8 43.8h2v2h-2zM293.6 49.6h2v2h-2zM299.0 46.1h2v2h-2zM287.6 52.9h2v2h-2zM280.5 53.0h2v2h-2zM278.4 57.2h2v2h-2zM270.1 63.6h2v2h-2zM261.8 67.3h2v2h-2zM291.9 49.8h2v2h-2zM303.6 44.1h2v2h-2zM304.7 43.0h2v2h-2zM283.2 54.6h2v2h-2zM295.3 50.0h2v2h-2zM275.0 61.5h2v2h-2zM265.5 63.5h2v2h-2zM273.9 60.8h2v2h-2zM274.6 57.9h2v2h-2zM278.8 60.0h2v2h-2zM275.9 58.0h2v2h-2zM298.9 48.2h2v2h-2zM283.7 51.5h2v2h-2zM293.3 50.7h2v2h-2zM310.2 41.5h2v2h-2zM292.1 45.8h2v2h-2zM279.4 57.2h2v2h-2zM283.3 52.3h2v2h-2zM273.6 59.4h2v2h-2zM280.2 52.0h2v2h-2zM286.0 49.3h2v2h-2zM275.9 56.5h2v2h-2zM290.2 49.7h2v2h-2zM297.0 47.3h2v2h-2zM301.3 45.9h2v2h-2zM296.4 44.5h2v2h-2zM281.0 52.8h2v2h-2zM295.6 48.5h2v2h-2zM282.2 48.7h2v2h-2zM306.1 43.8h2v2h-2zM292.1 48.8h2v2h-2zM269.9 62.3h2v2h-2zM269.4 62.1h2v2h-2zM305.7 44.0h2v2h-2zM284.0 51.8h2v2h-2zM268.5 62.0h2v2h-2zM310.4 40.7h2v2h-2zM271.8 60.9h2v2h-2zM280.1 58.1h2v2h-2zM283.1 52.4h2v2h-2zM284.7 56.4h2v2h-2zM269.2 60.5h2v2h-2zM287.5 53.0h2v2h-2zM279.2 61.7h2v2h-2zM277.5 55.3h2v2h-2zM273.8 59.7h2v2h-2zM291.2 50.9h2v2h-2zM287.8 52.6h2v2h-2zM270.0 60.0h2v2h-2zM276.2 55.5h2v2h-2zM303.2 45.8h2v2h-2zM293.0 48.3h2v2h-2zM278.1 52.8h2v2h-2zM279.8 54.3h2v2h-2zM296.3 48.5h2v2h-2zM278.8 55.0h2v2h-2zM283.1 54.7h2v2h-2zM295.7 48.3h2v2h-2zM283.2 52.1h2v2h-2zM291.6 50.2h2v2h-2zM285.2 52.6h2v2h-2zM290.3 52.4h2v2h-2zM274.9 61.8h2v2h-2zM270.9 60.6h2v2h-2zM275.0 60.3h2v2h-2zM263.9 66.8h2v2h-2zM280.9 57.2h2v2h-2zM282.7 56.2h2v2h-2zM273.9 55.9h2v2h-2zM281.7 51.3h2v2h-2zM272.3 62.9h2v2h-2zM285.9 53.2h2v2h-2zM294.7 51.1h2v2h-2zM287.9 53.1h2v2h-2zM289.9 50.7h2v2h-2zM273.6 60.8h2v2h-2zM287.2 51.1h2v2h-2zM277.8 59.7h2v2h-2zM263.9 63.3h2v2h-2zM267.7 63.4h2v2h-2zM289.2 53.5h2v2h-2zM293.1 52.5h2v2h-2zM269.1 65.6h2v2h-2zM287.5 48.4h2v2h-2zM287.3 55.6h2v2h-2zM268.3 64.8h2v2h-2zM285.6 50.0h2v2h-2zM266.0 63.3h2v2h-2zM305.3 45.9h2v2h-2zM277.1 54.0h2v2h-2zM276.0 58.9h2v2h-2zM287.8 54.2h2v2h-2zM277.9 55.1h2v2h-2zM305.3 43.7h2v2h-2zM276.5 58.7h2v2h-2zM270.4 59.3h2v2h-2zM269.3 62.6h2v2h-2zM292.3 52.2h2v2h-2zM266.6 62.3h2v2h-2zM268.5 62.8h2v2h-2zM273.8 61.2h2v2h-2zM288.7 53.0h2v2h-2zM292.5 50.4h2v2h-2zM290.2 50.1h2v2h-2zM285.8 50.4h2v2h-2zM292.3 52.3h2v2h-2zM291.9 46.9h2v2h-2zM268.1 65.8h2v2h-2zM293.0 48.5h2v2h-2zM276.7 56.9h2v2h-2zM278.8 54.3h2v2h-2zM290.8 48.9h2v2h-2zM298.0 46.1h2v2h-2zM271.8 60.9h2v2h-2zM292.4 50.6h2v2h-2zM282.1 57.1h2v2h-2zM292.6 48.4h2v2h-2zM272.8 60.7h2v2h-2zM289.4 47.9h2v2h-2zM297.6 46.3h2v2h-2zM267.0 66.4h2v2h-2zM277.1 54.0h2v2h-2zM284.3 53.7h2v2h-2zM278.6 57.1h2v2h-2zM301.0 46.9h2v2h-2zM272.5 62.4h2v2h-2zM292.4 53.0h2v2h-2zM299.3 44.7h2v2h-2zM298.8 49.8h2v2h-2zM277.4 59.2h2v2h-2zM274.5 56.5h2v2h-2zM273.9 57.5h2v2h-2zM301.8 44.7h2v2h-2zM291.5 54.0h2v2h-2zM279.0 57.6h2v2h-2zM284.3 56.0h2v2h-2zM274.0 60.4h2v2h-2zM297.3 47.2h2v2h-2zM290.6 50.4h2v2h-2zM281.0 58.6h2v2h-2zM284.8 52.6h2v2h-2zM296.0 51.7h2v2h-2zM272.8 63.3h2v2h-2zM285.2 51.4h2v2h-2zM287.4 50.5h2v2h-2zM284.3 52.3h2v2h-2zM261.7 65.7h2v2h-2zM302.1 48.8h2v2h-2zM279.9 54.0h2v2h-2zM302.0 44.8h2v2h-2zM268.7 62.7h2v2h-2zM269.4 64.4h2v2h-2zM281.5 52.5h2v2h-2zM293.1 48.6h2v2h-2zM278.8 56.2h2v2h-2zM275.0 55.9h2v2h-2zM261.1 66.0h2v2h-2zM289.9 50.5h2v2h-2zM288.9 47.1h2v2h-2zM294.7 49.6h2v2h-2zM271.8 59.0h2v2h-2zM273.7 59.1h2v2h-2zM276.0 60.7h2v2h-2zM288.1 52.0h2v2h-2zM263.6 64.2h2v2h-2zM292.2 47.9h2v2h-2zM270.7 60.1h2v2h-2zM280.1 54.3h2v2h-2zM278.2 58.8h2v2h-2zM282.1 53.8h2v2h-2zM296.3 53.3h2v2h-2zM305.5 42.4h2v2h-2zM261.9 65.9h2v2h-2zM263.1 63.7h2v2h-2zM274.5 55.5h2v2h-2zM293.0 51.0h2v2h-2zM272.2 61.9h2v2h-2zM280.7 57.3h2v2h-2zM301.9 44.9h2v2h-2zM280.4 57.9h2v2h-2zM305.6 44.1h2v2h-2zM294.5 51.6h2v2h-2zM292.6 52.7h2v2h-2zM278.0 58.7h2v2h-2zM304.1 43.5h2v2h-2zM294.0 47.2h2v2h-2zM275.4 57.7h2v2h-2zM279.2 56.5h2v2h-2zM264.8 63.0h2v2h-2zM269.3 58.0h2v2h-2zM291.8 46.0h2v2h-2zM289.0 53.4h2v2h-2zM296.0 47.0h2v2h-2zM262.9 64.6h2v2h-2zM299.9 45.2h2v2h-2zM292.1 49.4h2v2h-2zM299.2 45.5h2v2h-2zM298.8 45.0h2v2h-2zM286.4 50.2h2v2h-2zM299.8 48.2h2v2h-2zM249.7 55.8h2v2h-2zM257.1 54.7h2v2h-2zM245.1 59.5h2v2h-2zM246.8 61.2h2v2h-2zM250.3 63.4h2v2h-2zM256.5 66.3h2v2h-2zM257.6 68.8h2v2h-2zM253.7 70.3h2v2h-2zM255.9 72.9h2v2h-2zM258.8 72.5h2v2h-2zM277.0 45.8h2v2h-2zM278.1 48.7h2v2h-2zM276.4 50.4h2v2h-2zM270.7 56.6h2v2h-2zM286.5 35.8h2v2h-2zM286.5 39.9h2v2h-2zM285.1 42.0h2v2h-2zM305.6 35.1h2v2h-2zM300.8 49.5h2v2h-2zM300.1 52.2h2v2h-2zM291.3 59.7h2v2h-2zM288.5 58.3h2v2h-2zM290.6 68.6h2v2h-2zM292.6 57.6h2v2h-2zM236.6 60.4h2v2h-2zM244.4 58.6h2v2h-2zM283.6 40.7h2v2h-2z"/>
<line x1="232.00" y1="79.10" x2="317.40" y2="36.80" stroke="#e8606a" stroke-width="0.8" stroke-opacity="0.85"/>
<rect x="232.00" y="26.10" width="85.40" height="68.10" fill="none" stroke="#9a9a9a" stroke-width="1.1"/>
<path d="M232.00 94.20v1.2M230.80 94.20h1.2M239.12 94.20v1.2M230.80 88.53h1.2M246.23 94.20v1.2M230.80 82.85h1.2M253.35 94.20v1.2M230.80 77.18h1.2M260.47 94.20v1.2M230.80 71.50h1.2M267.58 94.20v1.2M230.80 65.83h1.2M274.70 94.20v1.2M230.80 60.15h1.2M281.82 94.20v1.2M230.80 54.48h1.2M288.93 94.20v1.2M230.80 48.80h1.2M296.05 94.20v1.2M230.80 43.13h1.2M303.17 94.20v1.2M230.80 37.45h1.2M310.28 94.20v1.2M230.80 31.78h1.2M317.40 94.20v1.2M230.80 26.10h1.2" stroke="#999" stroke-width="0.5" fill="none"/>
<text x="235.40" y="32.30" font-size="5.1" fill="#111" font-weight="bold" textLength="18.30" lengthAdjust="spacingAndGlyphs" stroke="#111" stroke-width="0.35">House L</text>
<text x="266.00" y="80.80" font-size="6.3" fill="#303030" stroke="#303030" stroke-width="0.22" textLength="49.10" lengthAdjust="spacingAndGlyphs">Q = 138.4 kJ/m<tspan font-size="3.91" dy="-2.4">3</tspan><tspan dy="2.4">K</tspan></text>
<text x="269.80" y="87.20" font-size="5.3" fill="#1e1e1e" stroke="#1e1e1e" stroke-width="0.28" font-weight="bold" textLength="25.50" lengthAdjust="spacingAndGlyphs">R<tspan font-size="3.18" dy="-1.8">2</tspan><tspan dy="1.8"> = 0.8661</tspan></text>
<text x="0" y="0" font-size="6.3" fill="#6e6e6e" text-anchor="middle" transform="translate(327.17,59.30) rotate(-90)" textLength="41.5" lengthAdjust="spacingAndGlyphs">Indoor AH [g/kg]</text>
<text x="381.00" y="108.00" font-size="5.8" fill="#6e6e6e" text-anchor="middle" textLength="45.50" lengthAdjust="spacingAndGlyphs">Outdoor AH [g/kg]</text>
<text x="334.20" y="95.10" font-size="4.8" fill="#383838" text-anchor="end" textLength="4.40" lengthAdjust="spacingAndGlyphs" stroke="#383838" stroke-width="0.15">11</text>
<text x="336.40" y="101.10" font-size="4.8" fill="#383838" text-anchor="middle" textLength="4.40" lengthAdjust="spacingAndGlyphs" stroke="#383838" stroke-width="0.15">11</text>
<text x="334.20" y="83.70" font-size="4.8" fill="#383838" text-anchor="end" textLength="4.40" lengthAdjust="spacingAndGlyphs" stroke="#383838" stroke-width="0.15">13</text>
<text x="350.60" y="101.10" font-size="4.8" fill="#383838" text-anchor="middle" textLength="4.40" lengthAdjust="spacingAndGlyphs" stroke="#383838" stroke-width="0.15">13</text>
<text x="334.20" y="72.30" font-size="4.8" fill="#383838" text-anchor="end" textLength="4.40" lengthAdjust="spacingAndGlyphs" stroke="#383838" stroke-width="0.15">15</text>
<text x="364.80" y="101.10" font-size="4.8" fill="#383838" text-anchor="middle" textLength="4.40" lengthAdjust="spacingAndGlyphs" stroke="#383838" stroke-width="0.15">15</text>
<text x="334.20" y="60.90" font-size="4.8" fill="#383838" text-anchor="end" textLength="4.40" lengthAdjust="spacingAndGlyphs" stroke="#383838" stroke-width="0.15">17</text>
<text x="379.00" y="101.10" font-size="4.8" fill="#383838" text-anchor="middle" textLength="4.40" lengthAdjust="spacingAndGlyphs" stroke="#383838" stroke-width="0.15">17</text>
<text x="334.20" y="49.50" font-size="4.8" fill="#383838" text-anchor="end" textLength="4.40" lengthAdjust="spacingAndGlyphs" stroke="#383838" stroke-width="0.15">19</text>
<text x="393.20" y="101.10" font-size="4.8" fill="#383838" text-anchor="middle" textLength="4.40" lengthAdjust="spacingAndGlyphs" stroke="#383838" stroke-width="0.15">19</text>
<text x="334.20" y="38.10" font-size="4.8" fill="#383838" text-anchor="end" textLength="4.40" lengthAdjust="spacingAndGlyphs" stroke="#383838" stroke-width="0.15">21</text>
<text x="407.40" y="101.10" font-size="4.8" fill="#383838" text-anchor="middle" textLength="4.40" lengthAdjust="spacingAndGlyphs" stroke="#383838" stroke-width="0.15">21</text>
<text x="334.20" y="26.70" font-size="4.8" fill="#383838" text-anchor="end" textLength="4.40" lengthAdjust="spacingAndGlyphs" stroke="#383838" stroke-width="0.15">23</text>
<text x="421.60" y="101.10" font-size="4.8" fill="#383838" text-anchor="middle" textLength="4.40" lengthAdjust="spacingAndGlyphs" stroke="#383838" stroke-width="0.15">23</text>
<line x1="336.40" y1="94.20" x2="421.60" y2="25.80" stroke="#bdbdbd" stroke-width="0.7"/>
<path fill="#0d0d86" d="M411.2 38.7h2v2h-2zM381.2 57.3h2v2h-2zM410.0 38.7h2v2h-2zM400.7 40.3h2v2h-2zM380.6 56.1h2v2h-2zM389.1 49.7h2v2h-2zM407.8 40.1h2v2h-2zM388.5 50.8h2v2h-2zM386.1 51.3h2v2h-2zM399.6 40.9h2v2h-2zM389.5 50.2h2v2h-2zM387.0 51.7h2v2h-2zM382.7 53.7h2v2h-2zM403.2 45.1h2v2h-2zM393.9 45.5h2v2h-2zM371.0 64.5h2v2h-2zM414.1 36.6h2v2h-2zM399.0 44.0h2v2h-2zM408.4 38.2h2v2h-2zM383.1 57.6h2v2h-2zM375.0 57.8h2v2h-2zM389.7 47.1h2v2h-2zM381.7 53.3h2v2h-2zM392.5 46.5h2v2h-2zM396.4 40.6h2v2h-2zM397.6 43.2h2v2h-2zM387.9 50.0h2v2h-2zM380.6 54.5h2v2h-2zM395.7 43.0h2v2h-2zM398.9 42.9h2v2h-2zM383.8 50.4h2v2h-2zM400.6 44.3h2v2h-2zM377.4 61.6h2v2h-2zM399.4 46.6h2v2h-2zM391.5 46.1h2v2h-2zM401.6 44.6h2v2h-2zM385.2 53.0h2v2h-2zM404.1 37.3h2v2h-2zM392.1 47.1h2v2h-2zM405.0 40.2h2v2h-2zM385.8 48.5h2v2h-2zM398.5 39.9h2v2h-2zM400.1 40.1h2v2h-2zM375.5 62.4h2v2h-2zM380.6 58.1h2v2h-2zM387.7 55.7h2v2h-2zM388.6 54.6h2v2h-2zM387.7 51.6h2v2h-2zM386.6 48.3h2v2h-2zM365.6 68.1h2v2h-2zM381.7 49.0h2v2h-2zM396.1 43.1h2v2h-2zM391.5 50.2h2v2h-2zM395.4 44.0h2v2h-2zM389.1 49.5h2v2h-2zM408.4 41.9h2v2h-2zM391.4 46.3h2v2h-2zM386.3 53.9h2v2h-2zM389.0 49.3h2v2h-2zM392.6 44.8h2v2h-2zM400.0 48.0h2v2h-2zM383.5 56.1h2v2h-2zM375.2 65.4h2v2h-2zM375.5 58.7h2v2h-2zM374.3 63.4h2v2h-2zM386.2 47.1h2v2h-2zM382.3 54.4h2v2h-2zM385.1 57.0h2v2h-2zM378.7 57.4h2v2h-2zM393.8 47.3h2v2h-2zM375.7 62.5h2v2h-2zM388.7 47.2h2v2h-2zM385.5 52.3h2v2h-2zM401.9 43.7h2v2h-2zM376.4 56.6h2v2h-2zM378.4 55.4h2v2h-2zM404.6 40.1h2v2h-2zM405.4 39.5h2v2h-2zM415.3 36.9h2v2h-2zM388.3 50.3h2v2h-2zM387.7 54.1h2v2h-2zM380.3 58.3h2v2h-2zM398.4 44.5h2v2h-2zM396.9 45.3h2v2h-2zM374.3 61.1h2v2h-2zM377.2 62.1h2v2h-2zM394.2 47.0h2v2h-2zM373.1 61.4h2v2h-2zM400.5 46.8h2v2h-2zM395.2 46.6h2v2h-2zM376.3 59.5h2v2h-2zM387.2 46.4h2v2h-2zM391.1 48.7h2v2h-2zM368.5 67.5h2v2h-2zM382.6 51.4h2v2h-2zM378.7 57.2h2v2h-2zM397.0 44.3h2v2h-2zM398.2 42.0h2v2h-2zM383.2 54.4h2v2h-2zM408.9 37.5h2v2h-2zM376.7 57.5h2v2h-2zM380.0 55.1h2v2h-2zM378.0 59.7h2v2h-2zM369.5 67.6h2v2h-2zM374.1 63.8h2v2h-2zM376.6 57.1h2v2h-2zM405.8 40.1h2v2h-2zM408.7 42.1h2v2h-2zM395.5 46.0h2v2h-2zM411.5 36.3h2v2h-2zM375.2 61.6h2v2h-2zM397.0 44.5h2v2h-2zM398.6 45.2h2v2h-2zM402.0 40.5h2v2h-2zM371.5 69.3h2v2h-2zM406.5 40.1h2v2h-2zM391.6 52.1h2v2h-2zM391.0 51.9h2v2h-2zM385.6 51.4h2v2h-2zM393.1 45.0h2v2h-2zM408.7 39.4h2v2h-2zM390.8 45.2h2v2h-2zM399.2 42.5h2v2h-2zM388.7 51.3h2v2h-2zM388.9 47.9h2v2h-2zM405.7 38.9h2v2h-2zM389.5 52.6h2v2h-2zM382.6 52.3h2v2h-2zM394.2 50.6h2v2h-2zM379.1 61.5h2v2h-2zM377.4 61.7h2v2h-2zM406.3 39.9h2v2h-2zM403.0 41.4h2v2h-2zM388.2 50.2h2v2h-2zM411.6 38.8h2v2h-2zM388.7 53.7h2v2h-2zM385.2 51.7h2v2h-2zM369.2 66.6h2v2h-2zM385.6 53.6h2v2h-2zM395.7 46.1h2v2h-2zM407.2 41.1h2v2h-2zM400.8 41.8h2v2h-2zM383.1 53.9h2v2h-2zM392.8 51.4h2v2h-2zM372.7 64.4h2v2h-2zM404.0 39.9h2v2h-2zM390.9 50.2h2v2h-2zM406.1 39.3h2v2h-2zM401.1 44.5h2v2h-2zM382.3 58.9h2v2h-2zM381.6 54.4h2v2h-2zM387.7 54.8h2v2h-2zM408.5 41.0h2v2h-2zM399.7 42.1h2v2h-2zM387.4 57.7h2v2h-2zM389.3 52.1h2v2h-2zM380.8 54.4h2v2h-2zM411.7 36.8h2v2h-2zM410.0 37.6h2v2h-2zM401.9 43.4h2v2h-2zM403.5 40.7h2v2h-2zM386.3 46.8h2v2h-2zM401.2 42.6h2v2h-2zM386.0 55.0h2v2h-2zM387.8 50.8h2v2h-2zM382.0 55.0h2v2h-2zM377.7 63.3h2v2h-2zM408.9 39.4h2v2h-2zM387.7 49.0h2v2h-2zM386.6 47.5h2v2h-2zM390.9 47.3h2v2h-2zM385.2 51.5h2v2h-2zM370.3 64.9h2v2h-2zM375.6 62.4h2v2h-2zM401.1 41.2h2v2h-2zM398.2 47.8h2v2h-2zM388.7 47.6h2v2h-2zM398.0 45.7h2v2h-2zM383.9 53.9h2v2h-2zM386.7 53.6h2v2h-2zM400.2 40.0h2v2h-2zM380.7 59.3h2v2h-2zM404.2 41.1h2v2h-2zM378.3 62.1h2v2h-2zM392.9 46.3h2v2h-2zM388.8 48.1h2v2h-2zM380.2 59.1h2v2h-2zM395.3 46.4h2v2h-2zM397.2 48.0h2v2h-2zM385.8 50.4h2v2h-2zM409.3 40.9h2v2h-2zM375.5 58.2h2v2h-2zM397.5 44.8h2v2h-2zM401.3 41.8h2v2h-2zM376.4 57.2h2v2h-2zM393.2 44.5h2v2h-2zM386.3 50.8h2v2h-2zM402.9 47.8h2v2h-2zM403.3 44.2h2v2h-2zM379.5 56.1h2v2h-2zM384.3 55.7h2v2h-2zM411.2 38.0h2v2h-2zM384.5 51.5h2v2h-2zM381.0 54.2h2v2h-2zM409.1 40.3h2v2h-2zM376.9 62.4h2v2h-2zM375.4 61.8h2v2h-2zM380.0 56.0h2v2h-2zM390.2 53.2h2v2h-2zM395.3 49.0h2v2h-2zM384.8 50.4h2v2h-2zM394.8 48.7h2v2h-2zM391.3 51.4h2v2h-2zM377.1 59.4h2v2h-2zM383.2 58.3h2v2h-2zM389.4 49.5h2v2h-2zM392.3 48.2h2v2h-2zM382.0 60.4h2v2h-2zM382.0 51.5h2v2h-2zM385.4 50.8h2v2h-2zM403.0 46.6h2v2h-2zM404.6 44.0h2v2h-2zM388.9 50.5h2v2h-2zM389.1 46.9h2v2h-2zM390.0 49.1h2v2h-2zM387.7 49.7h2v2h-2zM393.9 48.4h2v2h-2zM378.2 56.2h2v2h-2zM405.0 39.4h2v2h-2zM404.7 40.3h2v2h-2zM388.7 48.3h2v2h-2zM385.0 54.1h2v2h-2zM397.9 43.4h2v2h-2zM388.3 47.4h2v2h-2zM406.3 41.1h2v2h-2zM377.4 56.7h2v2h-2zM388.2 49.4h2v2h-2zM381.8 52.4h2v2h-2zM397.9 45.0h2v2h-2zM378.6 54.8h2v2h-2zM399.0 45.0h2v2h-2zM397.5 50.1h2v2h-2zM389.3 53.7h2v2h-2zM408.8 39.5h2v2h-2zM390.3 46.4h2v2h-2zM406.3 38.0h2v2h-2zM379.1 55.0h2v2h-2zM386.4 56.7h2v2h-2zM379.0 64.0h2v2h-2zM410.5 35.5h2v2h-2zM375.4 62.6h2v2h-2zM402.4 44.3h2v2h-2zM390.1 47.7h2v2h-2zM377.9 56.5h2v2h-2zM403.4 41.2h2v2h-2zM379.6 59.4h2v2h-2zM394.2 48.4h2v2h-2zM385.9 48.9h2v2h-2zM377.8 61.7h2v2h-2zM377.0 61.8h2v2h-2zM410.9 37.9h2v2h-2zM374.2 60.5h2v2h-2zM395.7 44.7h2v2h-2zM385.5 53.9h2v2h-2zM381.4 56.7h2v2h-2zM399.6 45.1h2v2h-2zM394.6 49.1h2v2h-2zM378.6 56.9h2v2h-2zM380.8 54.8h2v2h-2zM391.9 47.4h2v2h-2zM403.8 46.0h2v2h-2zM411.5 38.9h2v2h-2zM389.5 52.4h2v2h-2zM395.9 47.9h2v2h-2zM377.3 56.5h2v2h-2zM404.4 39.1h2v2h-2zM395.5 47.6h2v2h-2zM411.6 34.8h2v2h-2zM388.3 51.9h2v2h-2zM405.6 40.5h2v2h-2zM405.9 42.2h2v2h-2zM390.9 45.9h2v2h-2zM397.5 43.0h2v2h-2zM392.2 48.7h2v2h-2zM378.3 58.7h2v2h-2zM407.0 43.0h2v2h-2zM379.3 56.9h2v2h-2zM396.1 51.4h2v2h-2zM383.5 58.6h2v2h-2zM386.4 47.9h2v2h-2zM395.5 49.3h2v2h-2zM400.4 45.9h2v2h-2zM386.2 48.5h2v2h-2zM407.4 40.1h2v2h-2zM387.5 53.7h2v2h-2zM381.0 51.1h2v2h-2zM382.7 56.9h2v2h-2zM404.3 39.6h2v2h-2zM371.8 61.8h2v2h-2zM386.4 52.7h2v2h-2zM405.2 40.8h2v2h-2zM385.6 50.9h2v2h-2zM394.6 45.7h2v2h-2zM400.3 46.3h2v2h-2zM386.8 50.7h2v2h-2zM381.4 58.4h2v2h-2zM380.5 54.0h2v2h-2zM390.2 50.1h2v2h-2zM391.5 48.8h2v2h-2zM372.9 60.2h2v2h-2zM407.3 41.6h2v2h-2zM388.0 46.2h2v2h-2zM391.3 53.5h2v2h-2zM388.1 47.9h2v2h-2zM377.2 62.9h2v2h-2zM374.4 65.0h2v2h-2zM376.1 60.6h2v2h-2zM403.8 40.3h2v2h-2zM379.1 60.8h2v2h-2zM401.8 43.8h2v2h-2zM396.0 46.1h2v2h-2zM394.0 45.1h2v2h-2zM370.6 62.6h2v2h-2zM396.5 44.4h2v2h-2zM388.4 48.3h2v2h-2zM397.7 42.7h2v2h-2zM389.3 51.5h2v2h-2zM390.4 54.8h2v2h-2zM402.2 39.2h2v2h-2zM384.2 50.3h2v2h-2zM380.1 63.0h2v2h-2zM378.2 63.1h2v2h-2zM401.8 42.6h2v2h-2zM382.1 55.3h2v2h-2zM384.2 49.7h2v2h-2zM391.6 45.7h2v2h-2zM378.2 60.1h2v2h-2zM394.4 50.0h2v2h-2zM382.9 53.7h2v2h-2zM373.8 60.6h2v2h-2zM377.8 56.7h2v2h-2zM398.0 47.0h2v2h-2zM389.8 44.6h2v2h-2zM393.1 46.4h2v2h-2zM383.9 54.1h2v2h-2zM387.8 51.4h2v2h-2zM383.2 53.1h2v2h-2zM376.0 58.3h2v2h-2zM381.3 58.3h2v2h-2zM390.8 52.7h2v2h-2zM399.5 43.0h2v2h-2zM372.4 64.1h2v2h-2zM383.8 50.4h2v2h-2zM389.5 52.2h2v2h-2zM378.0 58.7h2v2h-2zM405.9 41.9h2v2h-2zM399.2 45.5h2v2h-2zM395.3 43.5h2v2h-2zM404.5 40.7h2v2h-2zM395.6 49.8h2v2h-2zM389.4 51.9h2v2h-2zM390.7 55.9h2v2h-2zM408.0 39.0h2v2h-2zM395.4 43.5h2v2h-2zM402.5 44.0h2v2h-2zM380.5 55.4h2v2h-2zM394.4 46.1h2v2h-2zM392.7 47.1h2v2h-2zM383.4 57.6h2v2h-2zM400.1 44.6h2v2h-2zM400.0 47.7h2v2h-2zM390.9 51.7h2v2h-2zM403.3 40.3h2v2h-2zM388.9 49.9h2v2h-2zM381.0 59.1h2v2h-2zM372.3 67.9h2v2h-2zM374.4 65.2h2v2h-2zM382.7 52.6h2v2h-2zM370.1 63.8h2v2h-2zM365.5 70.3h2v2h-2zM404.6 39.6h2v2h-2zM386.5 50.7h2v2h-2zM385.8 51.3h2v2h-2zM395.6 41.1h2v2h-2zM408.8 41.2h2v2h-2zM401.8 44.5h2v2h-2zM397.6 45.2h2v2h-2zM403.2 42.6h2v2h-2zM401.3 42.4h2v2h-2zM398.4 44.0h2v2h-2zM400.4 44.7h2v2h-2zM407.4 38.7h2v2h-2zM393.6 45.1h2v2h-2zM374.9 60.6h2v2h-2zM388.5 55.1h2v2h-2zM383.6 57.0h2v2h-2zM383.0 55.6h2v2h-2zM406.7 40.7h2v2h-2zM396.6 47.1h2v2h-2zM385.1 49.4h2v2h-2zM387.4 54.0h2v2h-2zM382.0 57.1h2v2h-2zM385.7 56.3h2v2h-2zM405.2 45.0h2v2h-2zM389.6 54.0h2v2h-2zM396.8 48.4h2v2h-2zM389.4 52.8h2v2h-2zM404.0 40.8h2v2h-2zM381.8 52.2h2v2h-2zM385.9 55.5h2v2h-2zM401.8 45.1h2v2h-2zM385.4 57.7h2v2h-2zM395.5 47.0h2v2h-2zM382.5 49.7h2v2h-2zM402.5 39.4h2v2h-2zM384.5 50.1h2v2h-2zM396.7 46.3h2v2h-2zM372.0 66.5h2v2h-2zM403.7 43.6h2v2h-2zM374.8 61.8h2v2h-2zM392.1 45.4h2v2h-2zM387.5 56.1h2v2h-2zM390.1 53.0h2v2h-2zM394.3 43.2h2v2h-2zM385.7 52.9h2v2h-2zM381.5 55.7h2v2h-2zM400.9 41.1h2v2h-2zM381.0 55.4h2v2h-2zM371.4 64.1h2v2h-2zM371.6 65.7h2v2h-2zM391.7 48.6h2v2h-2zM396.1 44.8h2v2h-2zM375.4 54.4h2v2h-2zM394.3 50.5h2v2h-2zM380.8 40.9h2v2h-2zM354.2 56.5h2v2h-2zM361.3 56.5h2v2h-2zM350.9 62.4h2v2h-2zM354.8 66.3h2v2h-2zM358.1 69.5h2v2h-2zM360.7 74.1h2v2h-2zM362.0 76.7h2v2h-2zM374.3 53.3h2v2h-2zM364.6 69.5h2v2h-2zM409.9 29.7h2v2h-2zM390.8 33.1h2v2h-2zM390.1 40.0h2v2h-2zM405.8 48.1h2v2h-2zM404.5 50.9h2v2h-2zM396.3 56.3h2v2h-2zM393.5 59.7h2v2h-2zM392.2 61.8h2v2h-2zM386.7 61.8h2v2h-2zM394.9 67.9h2v2h-2zM341.4 63.8h2v2h-2zM348.6 62.6h2v2h-2zM403.2 49.0h2v2h-2zM397.5 59.2h2v2h-2z"/>
<line x1="336.40" y1="79.10" x2="421.60" y2="35.90" stroke="#e8606a" stroke-width="0.8" stroke-opacity="0.85"/>
<rect x="336.40" y="25.80" width="85.20" height="68.40" fill="none" stroke="#9a9a9a" stroke-width="1.1"/>
<path d="M336.40 94.20v1.2M335.20 94.20h1.2M343.50 94.20v1.2M335.20 88.50h1.2M350.60 94.20v1.2M335.20 82.80h1.2M357.70 94.20v1.2M335.20 77.10h1.2M364.80 94.20v1.2M335.20 71.40h1.2M371.90 94.20v1.2M335.20 65.70h1.2M379.00 94.20v1.2M335.20 60.00h1.2M386.10 94.20v1.2M335.20 54.30h1.2M393.20 94.20v1.2M335.20 48.60h1.2M400.30 94.20v1.2M335.20 42.90h1.2M407.40 94.20v1.2M335.20 37.20h1.2M414.50 94.20v1.2M335.20 31.50h1.2M421.60 94.20v1.2M335.20 25.80h1.2" stroke="#999" stroke-width="0.5" fill="none"/>
<text x="339.70" y="32.00" font-size="5.1" fill="#111" font-weight="bold" textLength="19.70" lengthAdjust="spacingAndGlyphs" stroke="#111" stroke-width="0.35">House H</text>
<text x="370.90" y="78.70" font-size="6.3" fill="#303030" stroke="#303030" stroke-width="0.22" textLength="49.60" lengthAdjust="spacingAndGlyphs">Q = 136.7 kJ/m<tspan font-size="3.91" dy="-2.4">3</tspan><tspan dy="2.4">K</tspan></text>
<text x="374.10" y="86.50" font-size="5.3" fill="#1e1e1e" stroke="#1e1e1e" stroke-width="0.28" font-weight="bold" textLength="25.70" lengthAdjust="spacingAndGlyphs">R<tspan font-size="3.18" dy="-1.8">2</tspan><tspan dy="1.8"> = 0.8703</tspan></text>
<text x="0" y="0" font-size="6.3" fill="#6e6e6e" text-anchor="middle" transform="translate(428.17,60.30) rotate(-90)" textLength="41.5" lengthAdjust="spacingAndGlyphs">Indoor AH [g/kg]</text>
<text x="481.40" y="110.50" font-size="5.8" fill="#6e6e6e" text-anchor="middle" textLength="45.50" lengthAdjust="spacingAndGlyphs">Outdoor AH [g/kg]</text>
<text x="436.40" y="97.30" font-size="4.8" fill="#383838" text-anchor="end" textLength="4.40" lengthAdjust="spacingAndGlyphs" stroke="#383838" stroke-width="0.15">11</text>
<text x="438.60" y="103.30" font-size="4.8" fill="#383838" text-anchor="middle" textLength="4.40" lengthAdjust="spacingAndGlyphs" stroke="#383838" stroke-width="0.15">11</text>
<text x="436.40" y="85.78" font-size="4.8" fill="#383838" text-anchor="end" textLength="4.40" lengthAdjust="spacingAndGlyphs" stroke="#383838" stroke-width="0.15">13</text>
<text x="452.95" y="103.30" font-size="4.8" fill="#383838" text-anchor="middle" textLength="4.40" lengthAdjust="spacingAndGlyphs" stroke="#383838" stroke-width="0.15">13</text>
<text x="436.40" y="74.27" font-size="4.8" fill="#383838" text-anchor="end" textLength="4.40" lengthAdjust="spacingAndGlyphs" stroke="#383838" stroke-width="0.15">15</text>
<text x="467.30" y="103.30" font-size="4.8" fill="#383838" text-anchor="middle" textLength="4.40" lengthAdjust="spacingAndGlyphs" stroke="#383838" stroke-width="0.15">15</text>
<text x="436.40" y="62.75" font-size="4.8" fill="#383838" text-anchor="end" textLength="4.40" lengthAdjust="spacingAndGlyphs" stroke="#383838" stroke-width="0.15">17</text>
<text x="481.65" y="103.30" font-size="4.8" fill="#383838" text-anchor="middle" textLength="4.40" lengthAdjust="spacingAndGlyphs" stroke="#383838" stroke-width="0.15">17</text>
<text x="436.40" y="51.23" font-size="4.8" fill="#383838" text-anchor="end" textLength="4.40" lengthAdjust="spacingAndGlyphs" stroke="#383838" stroke-width="0.15">19</text>
<text x="496.00" y="103.30" font-size="4.8" fill="#383838" text-anchor="middle" textLength="4.40" lengthAdjust="spacingAndGlyphs" stroke="#383838" stroke-width="0.15">19</text>
<text x="436.40" y="39.72" font-size="4.8" fill="#383838" text-anchor="end" textLength="4.40" lengthAdjust="spacingAndGlyphs" stroke="#383838" stroke-width="0.15">21</text>
<text x="510.35" y="103.30" font-size="4.8" fill="#383838" text-anchor="middle" textLength="4.40" lengthAdjust="spacingAndGlyphs" stroke="#383838" stroke-width="0.15">21</text>
<text x="436.40" y="28.20" font-size="4.8" fill="#383838" text-anchor="end" textLength="4.40" lengthAdjust="spacingAndGlyphs" stroke="#383838" stroke-width="0.15">23</text>
<text x="524.70" y="103.30" font-size="4.8" fill="#383838" text-anchor="middle" textLength="4.40" lengthAdjust="spacingAndGlyphs" stroke="#383838" stroke-width="0.15">23</text>
<line x1="438.60" y1="96.40" x2="524.70" y2="27.30" stroke="#bdbdbd" stroke-width="0.7"/>
<path fill="#0d0d86" d="M494.2 48.8h2v2h-2zM503.2 50.2h2v2h-2zM487.8 55.3h2v2h-2zM506.9 47.8h2v2h-2zM504.3 48.9h2v2h-2zM507.4 49.2h2v2h-2zM504.5 48.4h2v2h-2zM479.8 66.3h2v2h-2zM486.0 57.0h2v2h-2zM502.4 49.0h2v2h-2zM507.2 46.8h2v2h-2zM513.0 45.9h2v2h-2zM495.9 49.1h2v2h-2zM482.0 62.4h2v2h-2zM512.0 49.6h2v2h-2zM487.1 56.8h2v2h-2zM503.1 44.2h2v2h-2zM501.5 55.8h2v2h-2zM490.8 55.1h2v2h-2zM507.3 48.8h2v2h-2zM484.1 59.7h2v2h-2zM468.3 75.3h2v2h-2zM507.2 43.8h2v2h-2zM486.7 56.0h2v2h-2zM472.5 67.4h2v2h-2zM501.1 53.4h2v2h-2zM474.1 67.2h2v2h-2zM489.6 58.4h2v2h-2zM498.7 47.9h2v2h-2zM504.1 48.3h2v2h-2zM509.7 46.6h2v2h-2zM483.9 54.6h2v2h-2zM505.8 42.0h2v2h-2zM506.0 49.4h2v2h-2zM500.6 49.1h2v2h-2zM500.6 48.8h2v2h-2zM504.7 48.1h2v2h-2zM484.4 63.4h2v2h-2zM506.0 45.1h2v2h-2zM512.1 41.0h2v2h-2zM494.7 49.8h2v2h-2zM512.6 45.0h2v2h-2zM493.1 47.4h2v2h-2zM489.5 57.5h2v2h-2zM484.2 59.3h2v2h-2zM483.1 59.6h2v2h-2zM500.5 50.1h2v2h-2zM483.6 60.3h2v2h-2zM480.6 59.6h2v2h-2zM493.1 53.0h2v2h-2zM502.7 43.0h2v2h-2zM506.7 46.0h2v2h-2zM475.4 66.0h2v2h-2zM488.3 54.5h2v2h-2zM493.8 52.4h2v2h-2zM507.4 42.1h2v2h-2zM508.4 44.3h2v2h-2zM503.8 44.6h2v2h-2zM479.6 65.8h2v2h-2zM509.7 49.3h2v2h-2zM482.8 63.8h2v2h-2zM489.3 53.0h2v2h-2zM496.0 48.9h2v2h-2zM507.5 45.8h2v2h-2zM515.2 44.8h2v2h-2zM488.9 54.7h2v2h-2zM500.3 48.4h2v2h-2zM466.1 75.0h2v2h-2zM471.0 71.9h2v2h-2zM486.2 62.3h2v2h-2zM494.8 50.2h2v2h-2zM502.5 51.3h2v2h-2zM490.9 58.6h2v2h-2zM478.8 65.2h2v2h-2zM510.3 42.2h2v2h-2zM491.9 50.3h2v2h-2zM508.3 49.2h2v2h-2zM484.5 62.4h2v2h-2zM500.7 48.8h2v2h-2zM493.6 54.0h2v2h-2zM508.4 47.0h2v2h-2zM486.5 64.8h2v2h-2zM493.4 50.8h2v2h-2zM501.0 52.8h2v2h-2zM487.5 57.7h2v2h-2zM489.6 55.2h2v2h-2zM492.4 53.8h2v2h-2zM500.8 47.8h2v2h-2zM505.9 53.2h2v2h-2zM501.0 49.6h2v2h-2zM501.5 48.9h2v2h-2zM498.3 52.0h2v2h-2zM507.8 50.7h2v2h-2zM498.1 50.3h2v2h-2zM478.1 58.6h2v2h-2zM498.0 50.3h2v2h-2zM507.5 43.5h2v2h-2zM477.8 62.7h2v2h-2zM477.1 60.1h2v2h-2zM490.3 56.7h2v2h-2zM493.6 53.0h2v2h-2zM502.5 52.0h2v2h-2zM476.6 66.6h2v2h-2zM466.4 72.4h2v2h-2zM485.7 59.1h2v2h-2zM466.9 71.7h2v2h-2zM505.4 46.9h2v2h-2zM500.2 54.4h2v2h-2zM490.3 55.3h2v2h-2zM499.3 50.0h2v2h-2zM483.4 55.5h2v2h-2zM471.9 67.6h2v2h-2zM503.1 46.9h2v2h-2zM510.2 45.4h2v2h-2zM508.7 43.6h2v2h-2zM508.7 45.4h2v2h-2zM466.2 74.1h2v2h-2zM511.5 47.1h2v2h-2zM491.4 54.9h2v2h-2zM509.5 44.3h2v2h-2zM495.7 49.5h2v2h-2zM498.5 49.1h2v2h-2zM510.6 44.2h2v2h-2zM505.6 47.2h2v2h-2zM502.2 44.8h2v2h-2zM496.5 51.5h2v2h-2zM493.7 55.6h2v2h-2zM490.5 51.0h2v2h-2zM507.0 47.9h2v2h-2zM476.0 64.5h2v2h-2zM486.8 60.4h2v2h-2zM480.7 62.9h2v2h-2zM489.2 57.0h2v2h-2zM482.4 61.2h2v2h-2zM502.5 45.2h2v2h-2zM493.4 54.7h2v2h-2zM506.1 48.1h2v2h-2zM500.4 52.5h2v2h-2zM511.7 46.1h2v2h-2zM487.6 60.0h2v2h-2zM494.6 51.0h2v2h-2zM489.8 54.2h2v2h-2zM469.2 66.1h2v2h-2zM506.5 48.9h2v2h-2zM482.9 62.2h2v2h-2zM477.9 66.2h2v2h-2zM504.5 41.8h2v2h-2zM510.8 49.5h2v2h-2zM503.0 46.7h2v2h-2zM478.3 65.0h2v2h-2zM502.4 47.4h2v2h-2zM506.2 46.8h2v2h-2zM500.1 47.7h2v2h-2zM505.0 44.5h2v2h-2zM500.4 45.2h2v2h-2zM510.3 42.4h2v2h-2zM506.8 45.9h2v2h-2zM482.5 55.6h2v2h-2zM469.6 70.0h2v2h-2zM498.1 46.0h2v2h-2zM494.6 47.4h2v2h-2zM504.6 53.2h2v2h-2zM482.7 56.7h2v2h-2zM490.4 54.3h2v2h-2zM473.1 68.1h2v2h-2zM493.4 58.6h2v2h-2zM486.5 59.2h2v2h-2zM492.9 53.9h2v2h-2zM508.4 46.3h2v2h-2zM488.1 60.4h2v2h-2zM498.4 46.4h2v2h-2zM478.3 64.0h2v2h-2zM495.1 56.4h2v2h-2zM483.6 61.8h2v2h-2zM507.9 48.1h2v2h-2zM489.1 61.3h2v2h-2zM487.6 58.9h2v2h-2zM483.1 59.2h2v2h-2zM497.5 48.8h2v2h-2zM511.6 47.1h2v2h-2zM491.1 52.2h2v2h-2zM487.3 53.1h2v2h-2zM489.7 53.5h2v2h-2zM489.3 53.9h2v2h-2zM511.8 45.3h2v2h-2zM479.6 61.2h2v2h-2zM483.5 58.8h2v2h-2zM493.4 49.3h2v2h-2zM490.3 56.0h2v2h-2zM480.6 66.6h2v2h-2zM501.6 45.3h2v2h-2zM476.7 63.0h2v2h-2zM488.1 55.3h2v2h-2zM509.2 46.1h2v2h-2zM470.4 71.8h2v2h-2zM485.3 56.8h2v2h-2zM505.1 48.6h2v2h-2zM510.3 44.6h2v2h-2zM485.2 61.3h2v2h-2zM507.2 47.1h2v2h-2zM484.0 58.3h2v2h-2zM501.0 51.7h2v2h-2zM474.1 65.6h2v2h-2zM479.0 64.2h2v2h-2zM497.8 53.4h2v2h-2zM508.2 45.2h2v2h-2zM486.5 53.8h2v2h-2zM494.1 53.5h2v2h-2zM500.1 51.4h2v2h-2zM484.8 56.2h2v2h-2zM493.7 53.2h2v2h-2zM487.4 57.4h2v2h-2zM489.4 54.6h2v2h-2zM492.9 54.1h2v2h-2zM499.7 54.6h2v2h-2zM502.7 55.4h2v2h-2zM487.6 56.2h2v2h-2zM506.6 51.0h2v2h-2zM505.1 49.7h2v2h-2zM492.5 53.9h2v2h-2zM463.9 72.9h2v2h-2zM490.8 57.1h2v2h-2zM487.1 57.7h2v2h-2zM512.8 43.4h2v2h-2zM502.6 50.2h2v2h-2zM490.2 59.7h2v2h-2zM505.4 48.0h2v2h-2zM480.4 62.0h2v2h-2zM499.4 54.1h2v2h-2zM489.3 54.3h2v2h-2zM500.0 49.3h2v2h-2zM507.2 45.0h2v2h-2zM494.7 58.7h2v2h-2zM486.8 56.7h2v2h-2zM484.3 57.3h2v2h-2zM507.9 45.4h2v2h-2zM464.1 70.8h2v2h-2zM504.2 49.3h2v2h-2zM512.5 48.7h2v2h-2zM491.2 54.9h2v2h-2zM511.7 45.6h2v2h-2zM505.4 49.7h2v2h-2zM494.2 53.6h2v2h-2zM489.7 55.6h2v2h-2zM506.5 41.0h2v2h-2zM511.9 43.6h2v2h-2zM483.3 61.7h2v2h-2zM496.0 47.0h2v2h-2zM494.1 52.3h2v2h-2zM475.1 65.6h2v2h-2zM489.8 51.8h2v2h-2zM494.3 51.1h2v2h-2zM487.9 55.1h2v2h-2zM481.3 63.5h2v2h-2zM495.5 55.2h2v2h-2zM507.2 48.8h2v2h-2zM497.2 49.2h2v2h-2zM484.0 60.1h2v2h-2zM492.5 55.5h2v2h-2zM485.7 58.9h2v2h-2zM477.8 64.5h2v2h-2zM493.2 51.1h2v2h-2zM507.0 44.2h2v2h-2zM480.4 62.6h2v2h-2zM513.7 45.4h2v2h-2zM506.2 43.0h2v2h-2zM512.2 46.4h2v2h-2zM483.1 61.6h2v2h-2zM492.9 51.3h2v2h-2zM478.2 61.9h2v2h-2zM510.5 46.1h2v2h-2zM503.6 47.3h2v2h-2zM492.7 51.4h2v2h-2zM473.5 65.2h2v2h-2zM485.5 59.7h2v2h-2zM487.9 58.7h2v2h-2zM494.7 56.1h2v2h-2zM497.4 56.6h2v2h-2zM506.4 44.0h2v2h-2zM494.5 54.7h2v2h-2zM503.1 45.0h2v2h-2zM508.7 48.1h2v2h-2zM508.7 48.2h2v2h-2zM482.1 59.8h2v2h-2zM496.9 47.3h2v2h-2zM490.0 50.9h2v2h-2zM478.7 64.1h2v2h-2zM509.9 51.4h2v2h-2zM470.1 69.5h2v2h-2zM500.7 45.5h2v2h-2zM479.5 60.9h2v2h-2zM511.3 45.4h2v2h-2zM478.0 66.7h2v2h-2zM485.3 57.2h2v2h-2zM508.0 47.5h2v2h-2zM507.5 50.5h2v2h-2zM481.2 59.4h2v2h-2zM483.0 57.3h2v2h-2zM481.0 65.2h2v2h-2zM503.4 49.2h2v2h-2zM498.4 51.8h2v2h-2zM497.0 50.0h2v2h-2zM502.8 46.5h2v2h-2zM496.9 56.2h2v2h-2zM500.1 46.5h2v2h-2zM503.3 48.6h2v2h-2zM499.3 47.4h2v2h-2zM488.4 59.5h2v2h-2zM501.5 48.4h2v2h-2zM492.7 49.3h2v2h-2zM493.1 48.8h2v2h-2zM505.5 53.5h2v2h-2zM472.4 67.4h2v2h-2zM478.0 62.9h2v2h-2zM510.2 45.4h2v2h-2zM500.7 46.7h2v2h-2zM492.3 48.7h2v2h-2zM501.9 50.1h2v2h-2zM489.4 56.8h2v2h-2zM484.8 57.2h2v2h-2zM489.9 57.5h2v2h-2zM507.9 45.2h2v2h-2zM507.0 46.2h2v2h-2zM499.1 49.8h2v2h-2zM492.9 54.1h2v2h-2zM472.0 65.2h2v2h-2zM496.5 53.4h2v2h-2zM490.6 53.7h2v2h-2zM489.8 51.8h2v2h-2zM485.8 55.2h2v2h-2zM468.8 71.6h2v2h-2zM508.4 42.7h2v2h-2zM499.3 48.9h2v2h-2zM497.9 54.9h2v2h-2zM502.9 49.5h2v2h-2zM504.2 48.6h2v2h-2zM479.0 64.8h2v2h-2zM502.9 49.5h2v2h-2zM481.5 56.9h2v2h-2zM482.4 62.3h2v2h-2zM495.6 51.6h2v2h-2zM497.6 52.0h2v2h-2zM490.7 49.8h2v2h-2zM481.2 59.5h2v2h-2zM498.2 54.5h2v2h-2zM488.4 58.2h2v2h-2zM500.5 46.0h2v2h-2zM505.0 49.9h2v2h-2zM510.5 41.3h2v2h-2zM490.0 59.3h2v2h-2zM509.9 46.1h2v2h-2zM493.2 55.8h2v2h-2zM478.7 66.1h2v2h-2zM493.0 53.3h2v2h-2zM505.6 45.7h2v2h-2zM499.8 52.8h2v2h-2zM487.9 54.2h2v2h-2zM501.7 50.3h2v2h-2zM489.8 54.6h2v2h-2zM487.0 51.3h2v2h-2zM483.4 54.3h2v2h-2zM502.1 41.5h2v2h-2zM481.9 54.4h2v2h-2zM491.7 45.8h2v2h-2zM488.8 49.7h2v2h-2zM479.7 57.3h2v2h-2zM471.7 65.4h2v2h-2zM499.1 42.9h2v2h-2zM456.0 55.9h2v2h-2zM463.1 55.2h2v2h-2zM483.2 47.4h2v2h-2zM481.3 69.5h2v2h-2zM489.1 64.3h2v2h-2zM478.0 57.2h2v2h-2zM491.7 44.8h2v2h-2zM512.2 32.5h2v2h-2zM493.1 35.2h2v2h-2zM493.1 40.6h2v2h-2zM504.7 39.3h2v2h-2zM508.8 51.6h2v2h-2zM507.5 55.0h2v2h-2zM489.7 64.5h2v2h-2zM495.2 65.9h2v2h-2zM499.3 60.4h2v2h-2zM494.5 63.2h2v2h-2zM443.0 67.9h2v2h-2zM452.9 63.3h2v2h-2zM450.8 68.6h2v2h-2zM457.0 69.9h2v2h-2zM460.3 71.1h2v2h-2zM463.4 75.7h2v2h-2zM465.2 74.4h2v2h-2zM492.7 35.1h2v2h-2zM482.5 47.6h2v2h-2zM497.2 68.0h2v2h-2z"/>
<line x1="438.60" y1="86.80" x2="524.70" y2="37.30" stroke="#e8606a" stroke-width="0.8" stroke-opacity="0.85"/>
<rect x="438.60" y="27.30" width="86.10" height="69.10" fill="none" stroke="#9a9a9a" stroke-width="1.1"/>
<path d="M438.60 96.40v1.2M437.40 96.40h1.2M445.78 96.40v1.2M437.40 90.64h1.2M452.95 96.40v1.2M437.40 84.88h1.2M460.12 96.40v1.2M437.40 79.12h1.2M467.30 96.40v1.2M437.40 73.37h1.2M474.48 96.40v1.2M437.40 67.61h1.2M481.65 96.40v1.2M437.40 61.85h1.2M488.83 96.40v1.2M437.40 56.09h1.2M496.00 96.40v1.2M437.40 50.33h1.2M503.18 96.40v1.2M437.40 44.58h1.2M510.35 96.40v1.2M437.40 38.82h1.2M517.53 96.40v1.2M437.40 33.06h1.2M524.70 96.40v1.2M437.40 27.30h1.2" stroke="#999" stroke-width="0.5" fill="none"/>
<text x="441.80" y="33.50" font-size="5.1" fill="#111" font-weight="bold" textLength="19.00" lengthAdjust="spacingAndGlyphs" stroke="#111" stroke-width="0.35">House A</text>
<text x="462.90" y="91.90" font-size="6.3" fill="#303030" stroke="#303030" stroke-width="0.22" textLength="50.00" lengthAdjust="spacingAndGlyphs">Q = 136.4 kJ/m<tspan font-size="3.91" dy="-2.4">3</tspan><tspan dy="2.4">K</tspan></text>
<text x="477.70" y="82.10" font-size="5.3" fill="#1e1e1e" stroke="#1e1e1e" stroke-width="0.28" font-weight="bold" textLength="25.70" lengthAdjust="spacingAndGlyphs">R<tspan font-size="3.18" dy="-1.8">2</tspan><tspan dy="1.8"> = 0.7384</tspan></text>
<text x="0" y="0" font-size="6.3" fill="#6e6e6e" text-anchor="middle" transform="translate(10.37,148.80) rotate(-90)" textLength="42.6" lengthAdjust="spacingAndGlyphs">Indoor AH [g/kg]</text>
<text x="63.70" y="199.10" font-size="5.8" fill="#6e6e6e" text-anchor="middle" textLength="45.50" lengthAdjust="spacingAndGlyphs">Outdoor AH [g/kg]</text>
<text x="19.80" y="186.90" font-size="4.8" fill="#383838" text-anchor="end" textLength="4.40" lengthAdjust="spacingAndGlyphs" stroke="#383838" stroke-width="0.15">11</text>
<text x="22.00" y="192.90" font-size="4.8" fill="#383838" text-anchor="middle" textLength="4.40" lengthAdjust="spacingAndGlyphs" stroke="#383838" stroke-width="0.15">11</text>
<text x="19.80" y="175.62" font-size="4.8" fill="#383838" text-anchor="end" textLength="4.40" lengthAdjust="spacingAndGlyphs" stroke="#383838" stroke-width="0.15">13</text>
<text x="36.07" y="192.90" font-size="4.8" fill="#383838" text-anchor="middle" textLength="4.40" lengthAdjust="spacingAndGlyphs" stroke="#383838" stroke-width="0.15">13</text>
<text x="19.80" y="164.33" font-size="4.8" fill="#383838" text-anchor="end" textLength="4.40" lengthAdjust="spacingAndGlyphs" stroke="#383838" stroke-width="0.15">15</text>
<text x="50.13" y="192.90" font-size="4.8" fill="#383838" text-anchor="middle" textLength="4.40" lengthAdjust="spacingAndGlyphs" stroke="#383838" stroke-width="0.15">15</text>
<text x="19.80" y="153.05" font-size="4.8" fill="#383838" text-anchor="end" textLength="4.40" lengthAdjust="spacingAndGlyphs" stroke="#383838" stroke-width="0.15">17</text>
<text x="64.20" y="192.90" font-size="4.8" fill="#383838" text-anchor="middle" textLength="4.40" lengthAdjust="spacingAndGlyphs" stroke="#383838" stroke-width="0.15">17</text>
<text x="19.80" y="141.77" font-size="4.8" fill="#383838" text-anchor="end" textLength="4.40" lengthAdjust="spacingAndGlyphs" stroke="#383838" stroke-width="0.15">19</text>
<text x="78.27" y="192.90" font-size="4.8" fill="#383838" text-anchor="middle" textLength="4.40" lengthAdjust="spacingAndGlyphs" stroke="#383838" stroke-width="0.15">19</text>
<text x="19.80" y="130.48" font-size="4.8" fill="#383838" text-anchor="end" textLength="4.40" lengthAdjust="spacingAndGlyphs" stroke="#383838" stroke-width="0.15">21</text>
<text x="92.33" y="192.90" font-size="4.8" fill="#383838" text-anchor="middle" textLength="4.40" lengthAdjust="spacingAndGlyphs" stroke="#383838" stroke-width="0.15">21</text>
<text x="19.80" y="119.20" font-size="4.8" fill="#383838" text-anchor="end" textLength="4.40" lengthAdjust="spacingAndGlyphs" stroke="#383838" stroke-width="0.15">23</text>
<text x="106.40" y="192.90" font-size="4.8" fill="#383838" text-anchor="middle" textLength="4.40" lengthAdjust="spacingAndGlyphs" stroke="#383838" stroke-width="0.15">23</text>
<line x1="22.00" y1="186.00" x2="106.40" y2="118.30" stroke="#bdbdbd" stroke-width="0.7"/>
<path fill="#0d0d86" d="M87.3 134.3h2v2h-2zM80.6 131.9h2v2h-2zM80.8 147.2h2v2h-2zM95.7 130.1h2v2h-2zM64.8 146.3h2v2h-2zM72.1 140.8h2v2h-2zM86.9 131.5h2v2h-2zM80.9 139.0h2v2h-2zM83.7 139.0h2v2h-2zM58.1 146.6h2v2h-2zM58.1 153.8h2v2h-2zM86.5 129.7h2v2h-2zM53.2 158.8h2v2h-2zM71.0 140.7h2v2h-2zM67.9 140.6h2v2h-2zM66.6 142.9h2v2h-2zM77.6 140.0h2v2h-2zM77.9 136.2h2v2h-2zM68.3 137.4h2v2h-2zM63.8 141.1h2v2h-2zM82.1 131.1h2v2h-2zM71.5 137.7h2v2h-2zM84.8 127.8h2v2h-2zM64.4 138.3h2v2h-2zM58.2 151.9h2v2h-2zM68.6 138.8h2v2h-2zM77.4 145.4h2v2h-2zM69.8 141.3h2v2h-2zM76.7 143.0h2v2h-2zM90.8 132.7h2v2h-2zM85.9 128.1h2v2h-2zM75.4 141.0h2v2h-2zM76.1 136.9h2v2h-2zM72.8 136.3h2v2h-2zM65.4 149.1h2v2h-2zM89.5 139.4h2v2h-2zM62.1 150.7h2v2h-2zM76.3 139.8h2v2h-2zM81.6 143.3h2v2h-2zM68.4 147.5h2v2h-2zM76.5 139.2h2v2h-2zM56.7 150.4h2v2h-2zM66.7 147.2h2v2h-2zM78.4 140.7h2v2h-2zM76.7 146.3h2v2h-2zM63.2 145.7h2v2h-2zM82.1 131.2h2v2h-2zM84.4 131.9h2v2h-2zM71.2 138.1h2v2h-2zM80.6 130.6h2v2h-2zM71.0 145.4h2v2h-2zM82.8 130.6h2v2h-2zM78.0 130.9h2v2h-2zM82.6 142.4h2v2h-2zM55.1 149.0h2v2h-2zM55.4 149.9h2v2h-2zM63.3 142.5h2v2h-2zM72.0 136.1h2v2h-2zM75.1 134.7h2v2h-2zM68.5 137.2h2v2h-2zM57.2 148.8h2v2h-2zM81.4 138.1h2v2h-2zM67.0 150.5h2v2h-2zM79.6 133.3h2v2h-2zM80.2 133.1h2v2h-2zM73.9 137.6h2v2h-2zM80.3 130.0h2v2h-2zM73.4 138.8h2v2h-2zM58.0 144.5h2v2h-2zM81.0 131.5h2v2h-2zM59.6 152.2h2v2h-2zM80.1 137.7h2v2h-2zM59.2 155.7h2v2h-2zM71.3 151.6h2v2h-2zM75.1 142.4h2v2h-2zM62.7 150.0h2v2h-2zM78.0 136.7h2v2h-2zM84.3 142.0h2v2h-2zM71.2 149.4h2v2h-2zM64.8 140.9h2v2h-2zM85.1 128.2h2v2h-2zM68.0 139.4h2v2h-2zM67.4 151.1h2v2h-2zM87.5 132.3h2v2h-2zM94.7 130.2h2v2h-2zM75.6 145.3h2v2h-2zM72.7 148.7h2v2h-2zM79.9 139.3h2v2h-2zM61.6 152.4h2v2h-2zM90.6 133.6h2v2h-2zM91.0 131.8h2v2h-2zM84.4 138.5h2v2h-2zM84.5 133.9h2v2h-2zM85.7 131.8h2v2h-2zM80.7 143.1h2v2h-2zM84.8 136.5h2v2h-2zM76.0 143.9h2v2h-2zM89.1 127.8h2v2h-2zM73.7 141.9h2v2h-2zM97.5 131.1h2v2h-2zM77.7 140.8h2v2h-2zM84.1 132.3h2v2h-2zM80.2 135.8h2v2h-2zM61.5 153.8h2v2h-2zM71.7 137.6h2v2h-2zM68.4 144.1h2v2h-2zM50.4 153.8h2v2h-2zM81.8 135.1h2v2h-2zM88.5 132.0h2v2h-2zM86.2 134.4h2v2h-2zM79.8 136.6h2v2h-2zM76.4 141.1h2v2h-2zM66.3 142.2h2v2h-2zM82.5 135.7h2v2h-2zM84.4 135.7h2v2h-2zM75.2 139.8h2v2h-2zM79.5 138.5h2v2h-2zM58.9 148.6h2v2h-2zM87.9 133.0h2v2h-2zM68.1 150.1h2v2h-2zM68.6 141.0h2v2h-2zM69.4 145.0h2v2h-2zM75.1 132.2h2v2h-2zM60.1 150.5h2v2h-2zM76.4 143.3h2v2h-2zM76.0 134.8h2v2h-2zM81.8 136.6h2v2h-2zM73.1 142.4h2v2h-2zM68.6 145.0h2v2h-2zM67.4 143.2h2v2h-2zM73.2 141.3h2v2h-2zM81.8 135.4h2v2h-2zM86.5 138.5h2v2h-2zM89.4 133.1h2v2h-2zM68.9 136.3h2v2h-2zM83.6 132.4h2v2h-2zM89.2 135.8h2v2h-2zM68.6 144.8h2v2h-2zM80.5 135.6h2v2h-2zM76.1 138.3h2v2h-2zM82.2 134.2h2v2h-2zM78.9 137.9h2v2h-2zM70.4 149.2h2v2h-2zM69.5 141.0h2v2h-2zM62.1 144.5h2v2h-2zM60.7 151.0h2v2h-2zM62.4 149.7h2v2h-2zM72.7 141.6h2v2h-2zM80.7 140.8h2v2h-2zM72.5 137.9h2v2h-2zM90.3 129.4h2v2h-2zM66.1 143.4h2v2h-2zM67.1 150.7h2v2h-2zM75.1 135.1h2v2h-2zM72.7 141.9h2v2h-2zM67.8 138.1h2v2h-2zM69.1 140.1h2v2h-2zM65.2 147.1h2v2h-2zM64.5 148.6h2v2h-2zM78.9 138.2h2v2h-2zM82.5 132.4h2v2h-2zM53.6 158.8h2v2h-2zM87.2 141.0h2v2h-2zM76.3 139.2h2v2h-2zM77.3 138.7h2v2h-2zM67.2 140.9h2v2h-2zM68.5 142.3h2v2h-2zM72.3 133.9h2v2h-2zM67.5 137.2h2v2h-2zM74.3 139.9h2v2h-2zM86.0 135.5h2v2h-2zM80.9 130.2h2v2h-2zM75.0 135.0h2v2h-2zM67.7 144.7h2v2h-2zM73.9 136.2h2v2h-2zM79.4 133.8h2v2h-2zM79.7 140.5h2v2h-2zM64.8 142.9h2v2h-2zM67.1 147.9h2v2h-2zM86.2 134.7h2v2h-2zM72.9 141.7h2v2h-2zM79.4 137.0h2v2h-2zM67.0 138.8h2v2h-2zM75.5 137.8h2v2h-2zM91.4 129.7h2v2h-2zM77.3 144.3h2v2h-2zM76.4 143.6h2v2h-2zM65.7 147.9h2v2h-2zM80.5 141.4h2v2h-2zM75.0 138.3h2v2h-2zM82.3 133.8h2v2h-2zM65.5 144.2h2v2h-2zM56.8 157.1h2v2h-2zM89.9 130.7h2v2h-2zM86.8 136.6h2v2h-2zM88.6 137.1h2v2h-2zM83.4 137.2h2v2h-2zM83.4 129.6h2v2h-2zM69.3 144.1h2v2h-2zM62.8 148.5h2v2h-2zM79.1 133.1h2v2h-2zM92.6 130.8h2v2h-2zM82.6 138.7h2v2h-2zM69.9 148.5h2v2h-2zM76.3 132.2h2v2h-2zM68.7 134.0h2v2h-2zM73.0 133.3h2v2h-2zM64.3 143.9h2v2h-2zM68.2 142.5h2v2h-2zM81.0 132.7h2v2h-2zM87.2 131.8h2v2h-2zM71.5 137.6h2v2h-2zM80.4 144.9h2v2h-2zM68.3 144.9h2v2h-2zM95.4 132.0h2v2h-2zM72.7 134.1h2v2h-2zM76.2 132.6h2v2h-2zM51.0 156.9h2v2h-2zM70.2 136.4h2v2h-2zM94.3 130.2h2v2h-2zM67.0 148.8h2v2h-2zM76.4 139.9h2v2h-2zM70.5 145.0h2v2h-2zM61.9 154.5h2v2h-2zM79.8 137.2h2v2h-2zM89.3 130.4h2v2h-2zM88.8 135.8h2v2h-2zM56.0 148.6h2v2h-2zM54.0 154.1h2v2h-2zM64.8 135.4h2v2h-2zM73.5 144.9h2v2h-2zM83.8 131.8h2v2h-2zM70.1 139.7h2v2h-2zM75.1 141.6h2v2h-2zM64.6 145.3h2v2h-2zM77.2 135.8h2v2h-2zM83.3 140.8h2v2h-2zM92.9 128.8h2v2h-2zM73.7 132.5h2v2h-2zM73.9 140.4h2v2h-2zM67.1 147.3h2v2h-2zM75.7 136.9h2v2h-2zM72.5 145.3h2v2h-2zM79.1 142.1h2v2h-2zM85.7 136.4h2v2h-2zM85.3 140.2h2v2h-2zM69.8 130.7h2v2h-2zM72.1 136.4h2v2h-2zM58.5 151.1h2v2h-2zM69.5 149.5h2v2h-2zM80.4 140.9h2v2h-2zM76.4 138.5h2v2h-2zM78.4 137.5h2v2h-2zM74.5 137.6h2v2h-2zM65.8 146.3h2v2h-2zM81.1 140.0h2v2h-2zM90.5 131.1h2v2h-2zM79.8 141.0h2v2h-2zM94.1 131.8h2v2h-2zM68.3 139.1h2v2h-2zM74.2 139.4h2v2h-2zM71.3 136.3h2v2h-2zM81.0 143.2h2v2h-2zM75.9 140.9h2v2h-2zM85.9 133.7h2v2h-2zM90.7 132.2h2v2h-2zM88.1 130.7h2v2h-2zM69.8 146.2h2v2h-2zM78.9 141.8h2v2h-2zM70.9 139.9h2v2h-2zM78.2 130.7h2v2h-2zM64.7 144.3h2v2h-2zM76.5 132.1h2v2h-2zM68.9 136.6h2v2h-2zM61.3 148.5h2v2h-2zM84.5 133.5h2v2h-2zM68.0 148.8h2v2h-2zM80.4 138.7h2v2h-2zM74.0 144.1h2v2h-2zM65.1 139.6h2v2h-2zM67.1 147.6h2v2h-2zM66.1 148.4h2v2h-2zM82.6 133.4h2v2h-2zM83.9 132.6h2v2h-2zM94.5 131.2h2v2h-2zM81.7 141.7h2v2h-2zM75.4 143.1h2v2h-2zM58.7 150.4h2v2h-2zM74.4 143.7h2v2h-2zM51.7 155.8h2v2h-2zM65.1 144.5h2v2h-2zM91.9 130.1h2v2h-2zM80.1 139.7h2v2h-2zM59.8 153.9h2v2h-2zM72.2 137.7h2v2h-2zM81.8 137.7h2v2h-2zM81.4 145.2h2v2h-2zM67.2 147.8h2v2h-2zM76.5 131.8h2v2h-2zM70.3 141.8h2v2h-2zM78.3 142.4h2v2h-2zM85.6 131.6h2v2h-2zM81.0 139.1h2v2h-2zM72.9 130.8h2v2h-2zM76.6 141.4h2v2h-2zM86.5 137.0h2v2h-2zM71.2 146.4h2v2h-2zM51.6 151.3h2v2h-2zM84.6 136.6h2v2h-2zM70.4 146.3h2v2h-2zM75.5 139.1h2v2h-2zM66.3 142.8h2v2h-2zM79.2 138.2h2v2h-2zM78.6 145.2h2v2h-2zM87.0 139.8h2v2h-2zM78.5 140.1h2v2h-2zM69.1 138.2h2v2h-2zM72.6 135.9h2v2h-2zM87.1 129.8h2v2h-2zM68.0 146.5h2v2h-2zM86.9 135.0h2v2h-2zM66.6 147.4h2v2h-2zM79.9 141.7h2v2h-2zM84.4 138.3h2v2h-2zM81.8 138.5h2v2h-2zM76.9 144.8h2v2h-2zM64.4 149.3h2v2h-2zM84.8 143.5h2v2h-2zM66.2 141.5h2v2h-2zM71.5 149.2h2v2h-2zM75.1 134.3h2v2h-2zM60.1 147.7h2v2h-2zM72.5 142.4h2v2h-2zM73.1 132.3h2v2h-2zM71.1 148.4h2v2h-2zM84.7 138.1h2v2h-2zM82.1 146.9h2v2h-2zM70.4 150.6h2v2h-2zM77.3 142.6h2v2h-2zM87.6 136.5h2v2h-2zM69.2 137.6h2v2h-2zM51.7 157.8h2v2h-2zM67.5 144.3h2v2h-2zM59.7 148.2h2v2h-2zM86.2 135.2h2v2h-2zM78.2 134.5h2v2h-2zM84.8 132.9h2v2h-2zM77.1 144.3h2v2h-2zM82.1 136.9h2v2h-2zM87.7 136.4h2v2h-2zM80.7 137.6h2v2h-2zM81.5 137.9h2v2h-2zM72.6 147.6h2v2h-2zM86.0 130.1h2v2h-2zM65.3 145.5h2v2h-2zM88.4 134.3h2v2h-2zM73.3 136.2h2v2h-2zM78.8 134.6h2v2h-2zM85.5 135.9h2v2h-2zM94.0 132.4h2v2h-2zM72.8 142.0h2v2h-2zM61.9 145.7h2v2h-2zM72.1 134.4h2v2h-2zM91.0 131.1h2v2h-2zM69.8 142.7h2v2h-2zM83.6 139.4h2v2h-2zM90.1 132.0h2v2h-2zM76.2 138.4h2v2h-2zM65.3 150.6h2v2h-2zM84.6 130.7h2v2h-2zM60.8 149.8h2v2h-2zM84.0 136.5h2v2h-2zM74.9 139.7h2v2h-2zM84.2 136.0h2v2h-2zM60.0 150.9h2v2h-2zM58.9 148.5h2v2h-2zM90.6 133.5h2v2h-2zM66.4 150.6h2v2h-2zM87.8 135.0h2v2h-2zM76.5 136.5h2v2h-2zM82.1 137.4h2v2h-2zM69.4 145.6h2v2h-2zM72.3 141.0h2v2h-2zM72.1 137.2h2v2h-2zM80.2 142.1h2v2h-2zM71.4 138.7h2v2h-2zM71.9 148.0h2v2h-2zM83.3 137.8h2v2h-2zM73.0 144.5h2v2h-2zM94.7 130.4h2v2h-2zM54.7 152.0h2v2h-2zM86.1 138.2h2v2h-2zM89.6 135.4h2v2h-2zM67.8 148.1h2v2h-2zM65.9 140.3h2v2h-2zM79.4 135.2h2v2h-2zM80.2 131.8h2v2h-2zM58.1 152.8h2v2h-2zM66.6 145.8h2v2h-2zM78.6 144.0h2v2h-2zM70.5 138.3h2v2h-2zM91.9 136.5h2v2h-2zM60.2 142.2h2v2h-2zM65.0 146.6h2v2h-2zM96.5 129.0h2v2h-2zM88.2 137.6h2v2h-2zM63.0 150.5h2v2h-2zM63.1 141.9h2v2h-2zM64.7 141.8h2v2h-2zM64.6 145.1h2v2h-2zM71.9 140.2h2v2h-2zM74.7 142.2h2v2h-2zM88.9 131.4h2v2h-2zM56.4 152.1h2v2h-2zM66.4 151.1h2v2h-2zM85.8 127.5h2v2h-2zM68.3 148.8h2v2h-2zM87.6 132.9h2v2h-2zM68.5 145.5h2v2h-2zM79.8 132.2h2v2h-2zM59.3 150.2h2v2h-2zM66.1 145.6h2v2h-2zM76.3 135.0h2v2h-2zM68.6 143.0h2v2h-2zM77.7 132.4h2v2h-2zM60.9 144.8h2v2h-2zM62.6 141.1h2v2h-2zM80.9 139.5h2v2h-2zM78.9 144.3h2v2h-2zM80.6 134.7h2v2h-2zM69.6 149.9h2v2h-2zM65.7 148.6h2v2h-2zM66.9 133.2h2v2h-2zM76.1 136.6h2v2h-2zM80.8 138.5h2v2h-2zM63.3 152.9h2v2h-2zM64.6 144.7h2v2h-2zM78.1 141.6h2v2h-2zM59.0 150.6h2v2h-2zM88.6 132.4h2v2h-2zM70.2 142.9h2v2h-2zM87.8 135.6h2v2h-2zM79.1 136.6h2v2h-2zM81.9 133.2h2v2h-2zM87.0 137.0h2v2h-2zM68.0 138.7h2v2h-2zM88.3 136.2h2v2h-2zM68.5 151.8h2v2h-2zM67.1 142.7h2v2h-2zM67.4 141.3h2v2h-2zM83.2 134.6h2v2h-2zM65.3 151.0h2v2h-2zM51.1 154.5h2v2h-2zM68.1 133.6h2v2h-2zM92.3 126.3h2v2h-2zM69.6 132.0h2v2h-2zM91.3 124.1h2v2h-2zM55.5 145.2h2v2h-2zM80.0 127.3h2v2h-2zM77.3 127.2h2v2h-2zM73.4 129.9h2v2h-2zM76.5 125.7h2v2h-2zM86.9 125.3h2v2h-2zM92.1 126.9h2v2h-2zM88.7 125.3h2v2h-2zM88.7 124.6h2v2h-2zM83.7 125.4h2v2h-2zM39.6 144.8h2v2h-2zM47.0 145.4h2v2h-2zM57.2 142.0h2v2h-2zM50.4 152.2h2v2h-2zM45.8 157.9h2v2h-2zM43.0 161.3h2v2h-2zM43.5 164.7h2v2h-2zM48.7 164.1h2v2h-2zM56.6 161.3h2v2h-2zM65.7 157.9h2v2h-2zM58.9 144.2h2v2h-2zM75.8 122.5h2v2h-2zM94.9 125.9h2v2h-2zM82.0 149.1h2v2h-2zM82.6 151.8h2v2h-2zM86.7 144.3h2v2h-2zM70.4 154.5h2v2h-2zM26.4 158.5h2v2h-2zM35.9 145.5h2v2h-2zM39.3 144.4h2v2h-2zM46.1 145.5h2v2h-2zM42.7 161.5h2v2h-2zM49.5 164.9h2v2h-2zM75.7 121.7h2v2h-2zM80.2 159.2h2v2h-2z"/>
<line x1="22.00" y1="170.50" x2="106.40" y2="129.00" stroke="#e8606a" stroke-width="0.8" stroke-opacity="0.85"/>
<rect x="22.00" y="118.30" width="84.40" height="67.70" fill="none" stroke="#9a9a9a" stroke-width="1.1"/>
<path d="M22.00 186.00v1.2M20.80 186.00h1.2M29.03 186.00v1.2M20.80 180.36h1.2M36.07 186.00v1.2M20.80 174.72h1.2M43.10 186.00v1.2M20.80 169.07h1.2M50.13 186.00v1.2M20.80 163.43h1.2M57.17 186.00v1.2M20.80 157.79h1.2M64.20 186.00v1.2M20.80 152.15h1.2M71.23 186.00v1.2M20.80 146.51h1.2M78.27 186.00v1.2M20.80 140.87h1.2M85.30 186.00v1.2M20.80 135.22h1.2M92.33 186.00v1.2M20.80 129.58h1.2M99.37 186.00v1.2M20.80 123.94h1.2M106.40 186.00v1.2M20.80 118.30h1.2" stroke="#999" stroke-width="0.5" fill="none"/>
<text x="25.50" y="124.50" font-size="5.1" fill="#111" font-weight="bold" textLength="18.30" lengthAdjust="spacingAndGlyphs" stroke="#111" stroke-width="0.35">House P</text>
<text x="49.10" y="172.70" font-size="6.3" fill="#303030" stroke="#303030" stroke-width="0.22" textLength="49.60" lengthAdjust="spacingAndGlyphs">Q = 129.4 kJ/m<tspan font-size="3.91" dy="-2.4">3</tspan><tspan dy="2.4">K</tspan></text>
<text x="58.60" y="178.80" font-size="5.3" fill="#1e1e1e" stroke="#1e1e1e" stroke-width="0.28" font-weight="bold" textLength="23.60" lengthAdjust="spacingAndGlyphs">R<tspan font-size="3.18" dy="-1.8">2</tspan><tspan dy="1.8"> = 0.772</tspan></text>
<text x="0" y="0" font-size="6.3" fill="#6e6e6e" text-anchor="middle" transform="translate(117.97,152.20) rotate(-90)" textLength="42.6" lengthAdjust="spacingAndGlyphs">Indoor AH [g/kg]</text>
<text x="171.00" y="198.50" font-size="5.8" fill="#6e6e6e" text-anchor="middle" textLength="45.50" lengthAdjust="spacingAndGlyphs">Outdoor AH [g/kg]</text>
<text x="125.30" y="187.30" font-size="4.8" fill="#383838" text-anchor="end" textLength="4.40" lengthAdjust="spacingAndGlyphs" stroke="#383838" stroke-width="0.15">11</text>
<text x="127.50" y="193.30" font-size="4.8" fill="#383838" text-anchor="middle" textLength="4.40" lengthAdjust="spacingAndGlyphs" stroke="#383838" stroke-width="0.15">11</text>
<text x="125.30" y="176.07" font-size="4.8" fill="#383838" text-anchor="end" textLength="4.40" lengthAdjust="spacingAndGlyphs" stroke="#383838" stroke-width="0.15">13</text>
<text x="141.63" y="193.30" font-size="4.8" fill="#383838" text-anchor="middle" textLength="4.40" lengthAdjust="spacingAndGlyphs" stroke="#383838" stroke-width="0.15">13</text>
<text x="125.30" y="164.83" font-size="4.8" fill="#383838" text-anchor="end" textLength="4.40" lengthAdjust="spacingAndGlyphs" stroke="#383838" stroke-width="0.15">15</text>
<text x="155.77" y="193.30" font-size="4.8" fill="#383838" text-anchor="middle" textLength="4.40" lengthAdjust="spacingAndGlyphs" stroke="#383838" stroke-width="0.15">15</text>
<text x="125.30" y="153.60" font-size="4.8" fill="#383838" text-anchor="end" textLength="4.40" lengthAdjust="spacingAndGlyphs" stroke="#383838" stroke-width="0.15">17</text>
<text x="169.90" y="193.30" font-size="4.8" fill="#383838" text-anchor="middle" textLength="4.40" lengthAdjust="spacingAndGlyphs" stroke="#383838" stroke-width="0.15">17</text>
<text x="125.30" y="142.37" font-size="4.8" fill="#383838" text-anchor="end" textLength="4.40" lengthAdjust="spacingAndGlyphs" stroke="#383838" stroke-width="0.15">19</text>
<text x="184.03" y="193.30" font-size="4.8" fill="#383838" text-anchor="middle" textLength="4.40" lengthAdjust="spacingAndGlyphs" stroke="#383838" stroke-width="0.15">19</text>
<text x="125.30" y="131.13" font-size="4.8" fill="#383838" text-anchor="end" textLength="4.40" lengthAdjust="spacingAndGlyphs" stroke="#383838" stroke-width="0.15">21</text>
<text x="198.17" y="193.30" font-size="4.8" fill="#383838" text-anchor="middle" textLength="4.40" lengthAdjust="spacingAndGlyphs" stroke="#383838" stroke-width="0.15">21</text>
<text x="125.30" y="119.90" font-size="4.8" fill="#383838" text-anchor="end" textLength="4.40" lengthAdjust="spacingAndGlyphs" stroke="#383838" stroke-width="0.15">23</text>
<text x="212.30" y="193.30" font-size="4.8" fill="#383838" text-anchor="middle" textLength="4.40" lengthAdjust="spacingAndGlyphs" stroke="#383838" stroke-width="0.15">23</text>
<line x1="127.50" y1="186.40" x2="212.30" y2="119.00" stroke="#bdbdbd" stroke-width="0.7"/>
<path fill="#0d0d86" d="M190.9 136.8h2v2h-2zM182.0 140.9h2v2h-2zM187.6 136.5h2v2h-2zM186.5 141.1h2v2h-2zM187.6 131.6h2v2h-2zM162.2 151.1h2v2h-2zM189.2 131.7h2v2h-2zM175.6 147.4h2v2h-2zM167.0 143.0h2v2h-2zM187.0 139.4h2v2h-2zM169.9 140.3h2v2h-2zM196.6 135.0h2v2h-2zM182.7 137.4h2v2h-2zM169.7 143.4h2v2h-2zM187.7 139.5h2v2h-2zM187.3 130.1h2v2h-2zM167.6 145.7h2v2h-2zM170.7 151.0h2v2h-2zM183.6 137.8h2v2h-2zM191.0 137.7h2v2h-2zM192.7 136.3h2v2h-2zM175.8 144.7h2v2h-2zM176.8 133.1h2v2h-2zM182.2 136.4h2v2h-2zM184.6 145.6h2v2h-2zM175.5 135.6h2v2h-2zM194.5 130.3h2v2h-2zM180.9 133.5h2v2h-2zM200.1 135.7h2v2h-2zM181.5 141.9h2v2h-2zM192.7 138.5h2v2h-2zM194.7 135.8h2v2h-2zM173.5 152.7h2v2h-2zM156.9 149.4h2v2h-2zM178.4 133.1h2v2h-2zM158.3 150.7h2v2h-2zM179.2 144.2h2v2h-2zM194.0 140.2h2v2h-2zM172.8 138.8h2v2h-2zM164.3 152.3h2v2h-2zM188.4 135.8h2v2h-2zM180.3 137.1h2v2h-2zM200.2 130.9h2v2h-2zM171.0 138.9h2v2h-2zM198.2 128.6h2v2h-2zM188.4 127.9h2v2h-2zM181.0 137.9h2v2h-2zM160.8 153.4h2v2h-2zM163.8 144.8h2v2h-2zM160.5 152.5h2v2h-2zM177.7 145.5h2v2h-2zM176.6 144.7h2v2h-2zM188.4 132.4h2v2h-2zM164.9 144.8h2v2h-2zM187.7 138.2h2v2h-2zM171.2 146.2h2v2h-2zM193.5 129.3h2v2h-2zM180.9 136.6h2v2h-2zM182.1 135.6h2v2h-2zM193.4 134.9h2v2h-2zM174.5 138.7h2v2h-2zM195.4 134.9h2v2h-2zM187.5 137.2h2v2h-2zM198.4 132.5h2v2h-2zM176.2 140.0h2v2h-2zM189.5 135.1h2v2h-2zM183.5 128.3h2v2h-2zM178.2 132.9h2v2h-2zM198.7 133.2h2v2h-2zM183.6 140.7h2v2h-2zM184.4 139.3h2v2h-2zM173.5 136.6h2v2h-2zM193.0 133.2h2v2h-2zM163.6 145.7h2v2h-2zM194.5 132.1h2v2h-2zM178.6 137.2h2v2h-2zM192.8 137.7h2v2h-2zM165.2 148.7h2v2h-2zM179.6 143.0h2v2h-2zM166.1 148.4h2v2h-2zM175.9 142.7h2v2h-2zM197.2 132.4h2v2h-2zM170.3 149.5h2v2h-2zM165.7 147.0h2v2h-2zM176.8 148.4h2v2h-2zM181.0 143.6h2v2h-2zM199.5 129.5h2v2h-2zM188.4 133.8h2v2h-2zM202.8 132.3h2v2h-2zM183.4 128.6h2v2h-2zM175.7 130.7h2v2h-2zM181.1 140.5h2v2h-2zM175.5 149.5h2v2h-2zM180.1 135.3h2v2h-2zM187.4 138.5h2v2h-2zM178.3 138.6h2v2h-2zM177.1 140.8h2v2h-2zM189.2 138.0h2v2h-2zM177.4 134.2h2v2h-2zM155.9 154.3h2v2h-2zM169.2 142.9h2v2h-2zM185.9 138.0h2v2h-2zM178.8 130.6h2v2h-2zM193.5 132.2h2v2h-2zM179.1 138.4h2v2h-2zM185.6 131.5h2v2h-2zM190.5 133.0h2v2h-2zM178.9 130.3h2v2h-2zM175.1 146.4h2v2h-2zM172.3 141.8h2v2h-2zM195.6 133.1h2v2h-2zM184.0 138.6h2v2h-2zM179.4 143.8h2v2h-2zM188.3 129.2h2v2h-2zM180.3 141.7h2v2h-2zM184.4 135.4h2v2h-2zM184.5 131.5h2v2h-2zM175.0 147.4h2v2h-2zM183.6 141.5h2v2h-2zM190.3 131.5h2v2h-2zM164.4 149.7h2v2h-2zM182.3 139.4h2v2h-2zM183.5 137.4h2v2h-2zM193.5 130.1h2v2h-2zM179.0 141.3h2v2h-2zM178.5 145.4h2v2h-2zM184.3 138.5h2v2h-2zM162.6 148.1h2v2h-2zM180.4 145.3h2v2h-2zM177.9 132.9h2v2h-2zM166.6 143.8h2v2h-2zM179.1 141.5h2v2h-2zM171.5 145.8h2v2h-2zM174.2 140.9h2v2h-2zM194.2 128.5h2v2h-2zM198.8 130.7h2v2h-2zM182.0 129.9h2v2h-2zM185.4 135.6h2v2h-2zM178.2 135.8h2v2h-2zM167.6 146.1h2v2h-2zM163.2 151.8h2v2h-2zM179.1 138.1h2v2h-2zM183.7 136.2h2v2h-2zM176.1 140.5h2v2h-2zM167.7 144.2h2v2h-2zM181.4 138.9h2v2h-2zM177.9 146.1h2v2h-2zM190.9 141.7h2v2h-2zM169.3 143.8h2v2h-2zM191.6 128.6h2v2h-2zM176.5 145.5h2v2h-2zM195.3 132.2h2v2h-2zM179.9 131.9h2v2h-2zM176.6 146.9h2v2h-2zM198.3 129.8h2v2h-2zM185.9 139.3h2v2h-2zM191.4 138.1h2v2h-2zM189.5 141.0h2v2h-2zM163.1 147.2h2v2h-2zM187.9 131.9h2v2h-2zM179.7 138.4h2v2h-2zM196.0 129.9h2v2h-2zM180.8 142.1h2v2h-2zM196.6 132.8h2v2h-2zM198.8 128.4h2v2h-2zM190.8 132.0h2v2h-2zM155.9 156.2h2v2h-2zM195.8 133.6h2v2h-2zM202.2 127.5h2v2h-2zM172.4 146.7h2v2h-2zM184.8 135.4h2v2h-2zM185.1 130.0h2v2h-2zM162.3 152.8h2v2h-2zM182.2 127.6h2v2h-2zM192.6 128.8h2v2h-2zM180.4 146.0h2v2h-2zM175.5 144.7h2v2h-2zM194.2 130.9h2v2h-2zM190.1 129.1h2v2h-2zM203.6 129.8h2v2h-2zM197.8 136.3h2v2h-2zM176.8 144.4h2v2h-2zM174.5 148.6h2v2h-2zM171.4 145.2h2v2h-2zM164.9 146.6h2v2h-2zM174.7 137.1h2v2h-2zM174.3 149.4h2v2h-2zM172.2 137.8h2v2h-2zM193.7 133.9h2v2h-2zM163.7 151.7h2v2h-2zM170.8 140.4h2v2h-2zM169.0 144.4h2v2h-2zM200.1 132.2h2v2h-2zM178.1 141.0h2v2h-2zM181.6 134.4h2v2h-2zM186.4 132.8h2v2h-2zM188.9 139.7h2v2h-2zM185.3 136.4h2v2h-2zM194.1 128.9h2v2h-2zM174.8 142.1h2v2h-2zM189.0 132.7h2v2h-2zM175.6 149.4h2v2h-2zM185.2 130.2h2v2h-2zM201.9 130.1h2v2h-2zM166.6 146.6h2v2h-2zM184.7 143.2h2v2h-2zM162.9 146.7h2v2h-2zM176.3 136.5h2v2h-2zM178.0 147.2h2v2h-2zM182.6 135.6h2v2h-2zM180.7 140.7h2v2h-2zM162.7 149.6h2v2h-2zM167.8 152.9h2v2h-2zM181.5 140.9h2v2h-2zM179.7 145.4h2v2h-2zM195.7 133.9h2v2h-2zM176.7 147.5h2v2h-2zM174.0 149.0h2v2h-2zM196.3 135.1h2v2h-2zM179.4 147.4h2v2h-2zM179.5 138.0h2v2h-2zM187.8 136.3h2v2h-2zM197.8 132.4h2v2h-2zM177.1 133.5h2v2h-2zM174.1 137.4h2v2h-2zM173.7 141.9h2v2h-2zM167.3 148.7h2v2h-2zM159.8 146.4h2v2h-2zM199.6 131.5h2v2h-2zM172.5 145.1h2v2h-2zM170.3 139.8h2v2h-2zM178.6 138.0h2v2h-2zM179.7 132.2h2v2h-2zM171.5 145.7h2v2h-2zM167.0 153.4h2v2h-2zM191.9 137.9h2v2h-2zM181.7 136.7h2v2h-2zM183.7 137.6h2v2h-2zM187.3 133.3h2v2h-2zM184.2 137.8h2v2h-2zM167.8 149.8h2v2h-2zM179.1 144.3h2v2h-2zM181.1 140.9h2v2h-2zM179.4 135.4h2v2h-2zM186.4 129.8h2v2h-2zM174.9 141.5h2v2h-2zM172.2 146.7h2v2h-2zM169.9 141.7h2v2h-2zM189.7 136.6h2v2h-2zM184.8 132.8h2v2h-2zM165.0 147.9h2v2h-2zM184.3 137.3h2v2h-2zM160.6 150.5h2v2h-2zM186.8 129.9h2v2h-2zM182.4 140.7h2v2h-2zM192.1 135.4h2v2h-2zM194.2 139.3h2v2h-2zM160.8 150.9h2v2h-2zM167.9 144.2h2v2h-2zM179.8 133.8h2v2h-2zM171.0 146.4h2v2h-2zM169.8 146.0h2v2h-2zM163.2 148.9h2v2h-2zM164.1 147.0h2v2h-2zM172.3 149.5h2v2h-2zM172.3 146.4h2v2h-2zM179.7 140.5h2v2h-2zM194.9 129.2h2v2h-2zM183.2 133.0h2v2h-2zM199.5 127.8h2v2h-2zM164.5 150.7h2v2h-2zM180.3 135.7h2v2h-2zM184.6 137.3h2v2h-2zM181.6 145.1h2v2h-2zM162.6 154.2h2v2h-2zM203.1 130.3h2v2h-2zM177.4 135.8h2v2h-2zM177.8 137.4h2v2h-2zM168.9 146.0h2v2h-2zM185.6 137.9h2v2h-2zM181.0 134.5h2v2h-2zM180.1 131.5h2v2h-2zM172.2 140.3h2v2h-2zM185.7 143.8h2v2h-2zM198.0 132.2h2v2h-2zM184.6 131.6h2v2h-2zM183.4 134.7h2v2h-2zM198.4 127.6h2v2h-2zM183.0 138.1h2v2h-2zM178.4 133.2h2v2h-2zM168.9 149.3h2v2h-2zM202.7 129.1h2v2h-2zM195.2 129.9h2v2h-2zM194.7 132.7h2v2h-2zM191.8 133.6h2v2h-2zM181.8 144.0h2v2h-2zM178.2 142.8h2v2h-2zM157.7 156.6h2v2h-2zM167.8 148.5h2v2h-2zM168.8 149.4h2v2h-2zM164.3 150.2h2v2h-2zM163.2 144.1h2v2h-2zM182.5 144.6h2v2h-2zM186.8 136.3h2v2h-2zM189.7 139.0h2v2h-2zM194.6 130.4h2v2h-2zM169.9 142.2h2v2h-2zM172.2 149.9h2v2h-2zM161.8 154.6h2v2h-2zM182.1 130.6h2v2h-2zM176.9 143.6h2v2h-2zM165.5 142.9h2v2h-2zM161.5 148.6h2v2h-2zM197.2 129.5h2v2h-2zM183.2 131.5h2v2h-2zM181.9 134.2h2v2h-2zM181.9 137.4h2v2h-2zM176.9 133.6h2v2h-2zM172.8 142.2h2v2h-2zM180.6 136.2h2v2h-2zM197.7 129.0h2v2h-2zM170.1 146.9h2v2h-2zM189.3 135.9h2v2h-2zM189.4 134.8h2v2h-2zM187.8 130.2h2v2h-2zM183.0 130.8h2v2h-2zM164.9 151.7h2v2h-2zM190.3 131.3h2v2h-2zM177.7 139.2h2v2h-2zM172.9 139.8h2v2h-2zM176.0 143.4h2v2h-2zM183.2 135.3h2v2h-2zM187.4 143.0h2v2h-2zM176.3 145.4h2v2h-2zM189.9 133.4h2v2h-2zM184.2 141.3h2v2h-2zM169.8 146.1h2v2h-2zM170.5 138.6h2v2h-2zM177.6 134.6h2v2h-2zM168.8 145.3h2v2h-2zM170.6 138.5h2v2h-2zM199.8 129.9h2v2h-2zM184.6 135.3h2v2h-2zM167.9 149.9h2v2h-2zM156.1 149.1h2v2h-2zM161.1 148.8h2v2h-2zM174.1 148.3h2v2h-2zM175.0 138.6h2v2h-2zM180.9 143.4h2v2h-2zM182.1 132.7h2v2h-2zM196.9 131.1h2v2h-2zM163.7 148.9h2v2h-2zM189.2 138.6h2v2h-2zM172.9 147.7h2v2h-2zM172.4 136.6h2v2h-2zM168.8 150.1h2v2h-2zM184.7 137.8h2v2h-2zM174.1 140.3h2v2h-2zM187.0 130.0h2v2h-2zM160.2 152.2h2v2h-2zM192.7 134.1h2v2h-2zM180.3 140.4h2v2h-2zM177.9 140.9h2v2h-2zM171.9 137.1h2v2h-2zM167.4 150.1h2v2h-2zM191.0 125.0h2v2h-2zM166.5 152.5h2v2h-2zM183.8 134.0h2v2h-2zM175.6 148.3h2v2h-2zM183.1 140.7h2v2h-2zM178.7 134.3h2v2h-2zM169.2 147.4h2v2h-2zM189.2 139.0h2v2h-2zM171.9 145.6h2v2h-2zM167.6 147.8h2v2h-2zM181.6 144.0h2v2h-2zM157.5 153.6h2v2h-2zM201.2 129.9h2v2h-2zM197.0 134.0h2v2h-2zM199.5 131.1h2v2h-2zM185.6 132.3h2v2h-2zM162.9 146.4h2v2h-2zM181.7 138.2h2v2h-2zM174.3 137.6h2v2h-2zM168.9 147.8h2v2h-2zM192.3 137.3h2v2h-2zM186.8 134.1h2v2h-2zM186.1 137.5h2v2h-2zM177.7 132.3h2v2h-2zM173.4 133.1h2v2h-2zM175.3 133.9h2v2h-2zM181.6 140.0h2v2h-2zM177.1 136.5h2v2h-2zM177.8 138.8h2v2h-2zM175.3 142.6h2v2h-2zM158.3 155.6h2v2h-2zM192.8 132.2h2v2h-2zM167.6 149.3h2v2h-2zM170.9 146.4h2v2h-2zM172.4 140.5h2v2h-2zM158.8 147.4h2v2h-2zM192.0 127.2h2v2h-2zM183.1 130.0h2v2h-2zM186.6 130.0h2v2h-2zM174.1 143.4h2v2h-2zM180.1 133.2h2v2h-2zM201.0 129.9h2v2h-2zM186.9 141.7h2v2h-2zM177.5 138.1h2v2h-2zM201.8 127.3h2v2h-2zM200.1 132.8h2v2h-2zM174.4 135.2h2v2h-2zM185.1 137.1h2v2h-2zM165.8 144.8h2v2h-2zM168.1 145.5h2v2h-2zM171.1 142.3h2v2h-2zM159.9 149.0h2v2h-2zM174.4 136.7h2v2h-2zM161.7 151.9h2v2h-2zM178.5 134.1h2v2h-2zM183.4 133.1h2v2h-2zM195.4 128.7h2v2h-2zM190.7 132.2h2v2h-2zM184.7 131.0h2v2h-2zM188.2 142.7h2v2h-2zM186.1 128.6h2v2h-2zM177.8 140.7h2v2h-2zM198.3 132.6h2v2h-2zM177.4 144.3h2v2h-2zM176.9 143.1h2v2h-2zM178.9 138.7h2v2h-2zM181.9 135.5h2v2h-2zM166.8 138.9h2v2h-2zM176.2 127.5h2v2h-2zM184.9 126.1h2v2h-2zM186.9 123.2h2v2h-2zM182.1 126.1h2v2h-2zM179.6 123.2h2v2h-2zM174.4 132.3h2v2h-2zM190.8 121.7h2v2h-2zM192.8 124.1h2v2h-2zM195.3 123.1h2v2h-2zM178.9 127.7h2v2h-2zM193.3 124.0h2v2h-2zM179.9 126.0h2v2h-2zM200.9 123.9h2v2h-2zM181.1 127.0h2v2h-2zM191.2 122.5h2v2h-2zM200.3 125.1h2v2h-2zM174.0 130.0h2v2h-2zM144.6 145.2h2v2h-2zM152.4 145.9h2v2h-2zM149.2 150.4h2v2h-2zM147.9 152.4h2v2h-2zM146.0 153.0h2v2h-2zM157.0 147.2h2v2h-2zM162.2 144.6h2v2h-2zM170.0 157.6h2v2h-2zM157.0 161.5h2v2h-2zM179.1 153.0h2v2h-2zM180.8 122.8h2v2h-2zM187.0 120.0h2v2h-2zM199.9 121.4h2v2h-2zM187.6 149.4h2v2h-2zM183.5 154.2h2v2h-2zM185.6 158.2h2v2h-2zM178.1 154.8h2v2h-2zM132.4 155.6h2v2h-2zM141.9 147.7h2v2h-2zM145.3 145.4h2v2h-2zM149.9 151.1h2v2h-2zM155.5 146.5h2v2h-2zM171.5 120.4h2v2h-2zM172.6 127.2h2v2h-2zM180.5 121.5h2v2h-2zM198.7 121.5h2v2h-2zM186.2 159.0h2v2h-2z"/>
<line x1="127.50" y1="171.50" x2="212.30" y2="129.50" stroke="#e8606a" stroke-width="0.8" stroke-opacity="0.85"/>
<rect x="127.50" y="119.00" width="84.80" height="67.40" fill="none" stroke="#9a9a9a" stroke-width="1.1"/>
<path d="M127.50 186.40v1.2M126.30 186.40h1.2M134.57 186.40v1.2M126.30 180.78h1.2M141.63 186.40v1.2M126.30 175.17h1.2M148.70 186.40v1.2M126.30 169.55h1.2M155.77 186.40v1.2M126.30 163.93h1.2M162.83 186.40v1.2M126.30 158.32h1.2M169.90 186.40v1.2M126.30 152.70h1.2M176.97 186.40v1.2M126.30 147.08h1.2M184.03 186.40v1.2M126.30 141.47h1.2M191.10 186.40v1.2M126.30 135.85h1.2M198.17 186.40v1.2M126.30 130.23h1.2M205.23 186.40v1.2M126.30 124.62h1.2M212.30 186.40v1.2M126.30 119.00h1.2" stroke="#999" stroke-width="0.5" fill="none"/>
<text x="130.70" y="125.20" font-size="5.1" fill="#111" font-weight="bold" textLength="19.40" lengthAdjust="spacingAndGlyphs" stroke="#111" stroke-width="0.35">House N</text>
<text x="156.50" y="172.10" font-size="6.3" fill="#303030" stroke="#303030" stroke-width="0.22" textLength="49.70" lengthAdjust="spacingAndGlyphs">Q = 127.9 kJ/m<tspan font-size="3.91" dy="-2.4">3</tspan><tspan dy="2.4">K</tspan></text>
<text x="164.80" y="179.10" font-size="5.3" fill="#1e1e1e" stroke="#1e1e1e" stroke-width="0.28" font-weight="bold" textLength="25.10" lengthAdjust="spacingAndGlyphs">R<tspan font-size="3.18" dy="-1.8">2</tspan><tspan dy="1.8"> = 0.7461</tspan></text>
<text x="0" y="0" font-size="6.3" fill="#6e6e6e" text-anchor="middle" transform="translate(220.37,154.50) rotate(-90)" textLength="42.6" lengthAdjust="spacingAndGlyphs">Indoor AH [g/kg]</text>
<text x="273.20" y="203.10" font-size="5.8" fill="#6e6e6e" text-anchor="middle" textLength="45.50" lengthAdjust="spacingAndGlyphs">Outdoor AH [g/kg]</text>
<text x="228.60" y="189.30" font-size="4.8" fill="#383838" text-anchor="end" textLength="4.40" lengthAdjust="spacingAndGlyphs" stroke="#383838" stroke-width="0.15">11</text>
<text x="230.80" y="195.30" font-size="4.8" fill="#383838" text-anchor="middle" textLength="4.40" lengthAdjust="spacingAndGlyphs" stroke="#383838" stroke-width="0.15">11</text>
<text x="228.60" y="177.88" font-size="4.8" fill="#383838" text-anchor="end" textLength="4.40" lengthAdjust="spacingAndGlyphs" stroke="#383838" stroke-width="0.15">13</text>
<text x="245.10" y="195.30" font-size="4.8" fill="#383838" text-anchor="middle" textLength="4.40" lengthAdjust="spacingAndGlyphs" stroke="#383838" stroke-width="0.15">13</text>
<text x="228.60" y="166.47" font-size="4.8" fill="#383838" text-anchor="end" textLength="4.40" lengthAdjust="spacingAndGlyphs" stroke="#383838" stroke-width="0.15">15</text>
<text x="259.40" y="195.30" font-size="4.8" fill="#383838" text-anchor="middle" textLength="4.40" lengthAdjust="spacingAndGlyphs" stroke="#383838" stroke-width="0.15">15</text>
<text x="228.60" y="155.05" font-size="4.8" fill="#383838" text-anchor="end" textLength="4.40" lengthAdjust="spacingAndGlyphs" stroke="#383838" stroke-width="0.15">17</text>
<text x="273.70" y="195.30" font-size="4.8" fill="#383838" text-anchor="middle" textLength="4.40" lengthAdjust="spacingAndGlyphs" stroke="#383838" stroke-width="0.15">17</text>
<text x="228.60" y="143.63" font-size="4.8" fill="#383838" text-anchor="end" textLength="4.40" lengthAdjust="spacingAndGlyphs" stroke="#383838" stroke-width="0.15">19</text>
<text x="288.00" y="195.30" font-size="4.8" fill="#383838" text-anchor="middle" textLength="4.40" lengthAdjust="spacingAndGlyphs" stroke="#383838" stroke-width="0.15">19</text>
<text x="228.60" y="132.22" font-size="4.8" fill="#383838" text-anchor="end" textLength="4.40" lengthAdjust="spacingAndGlyphs" stroke="#383838" stroke-width="0.15">21</text>
<text x="302.30" y="195.30" font-size="4.8" fill="#383838" text-anchor="middle" textLength="4.40" lengthAdjust="spacingAndGlyphs" stroke="#383838" stroke-width="0.15">21</text>
<text x="228.60" y="120.80" font-size="4.8" fill="#383838" text-anchor="end" textLength="4.40" lengthAdjust="spacingAndGlyphs" stroke="#383838" stroke-width="0.15">23</text>
<text x="316.60" y="195.30" font-size="4.8" fill="#383838" text-anchor="middle" textLength="4.40" lengthAdjust="spacingAndGlyphs" stroke="#383838" stroke-width="0.15">23</text>
<line x1="230.80" y1="188.40" x2="316.60" y2="119.90" stroke="#bdbdbd" stroke-width="0.7"/>
<path fill="#0d0d86" d="M266.2 148.3h2v2h-2zM285.6 139.3h2v2h-2zM288.1 139.6h2v2h-2zM295.0 134.1h2v2h-2zM290.4 133.6h2v2h-2zM279.5 152.7h2v2h-2zM283.8 144.5h2v2h-2zM287.4 142.3h2v2h-2zM284.5 147.5h2v2h-2zM278.0 139.2h2v2h-2zM276.5 143.6h2v2h-2zM280.8 142.9h2v2h-2zM275.7 145.0h2v2h-2zM269.2 145.0h2v2h-2zM265.8 148.7h2v2h-2zM290.7 133.0h2v2h-2zM293.9 140.2h2v2h-2zM285.1 147.8h2v2h-2zM282.0 142.0h2v2h-2zM300.5 132.9h2v2h-2zM283.2 134.8h2v2h-2zM300.1 139.1h2v2h-2zM296.1 139.6h2v2h-2zM299.1 135.9h2v2h-2zM288.7 137.1h2v2h-2zM279.2 140.4h2v2h-2zM290.8 140.6h2v2h-2zM295.6 137.3h2v2h-2zM293.8 135.5h2v2h-2zM284.5 147.4h2v2h-2zM300.9 137.4h2v2h-2zM269.7 141.0h2v2h-2zM289.1 147.6h2v2h-2zM297.6 133.8h2v2h-2zM278.9 147.6h2v2h-2zM295.3 140.3h2v2h-2zM261.3 148.2h2v2h-2zM277.9 138.1h2v2h-2zM261.9 157.0h2v2h-2zM291.7 143.5h2v2h-2zM285.7 140.6h2v2h-2zM277.8 140.5h2v2h-2zM281.2 140.9h2v2h-2zM273.1 146.2h2v2h-2zM286.2 136.9h2v2h-2zM296.0 140.6h2v2h-2zM282.2 145.1h2v2h-2zM277.9 141.6h2v2h-2zM292.3 133.6h2v2h-2zM275.9 144.9h2v2h-2zM270.5 153.0h2v2h-2zM297.7 133.1h2v2h-2zM294.1 136.9h2v2h-2zM295.6 135.4h2v2h-2zM264.3 152.3h2v2h-2zM281.0 146.9h2v2h-2zM282.8 134.4h2v2h-2zM263.1 156.0h2v2h-2zM299.1 137.5h2v2h-2zM283.3 136.7h2v2h-2zM282.9 143.5h2v2h-2zM287.1 139.9h2v2h-2zM299.4 136.9h2v2h-2zM282.1 138.0h2v2h-2zM267.7 144.3h2v2h-2zM277.0 144.0h2v2h-2zM282.6 139.0h2v2h-2zM283.1 136.1h2v2h-2zM297.5 137.6h2v2h-2zM279.4 137.3h2v2h-2zM288.2 145.0h2v2h-2zM290.0 144.9h2v2h-2zM293.8 137.2h2v2h-2zM290.8 139.5h2v2h-2zM279.4 138.2h2v2h-2zM272.1 149.1h2v2h-2zM286.1 138.2h2v2h-2zM282.7 148.1h2v2h-2zM275.1 145.1h2v2h-2zM260.0 156.3h2v2h-2zM286.1 142.4h2v2h-2zM296.6 139.1h2v2h-2zM264.7 146.3h2v2h-2zM274.7 137.5h2v2h-2zM289.6 138.3h2v2h-2zM295.5 140.4h2v2h-2zM265.4 145.5h2v2h-2zM280.3 144.6h2v2h-2zM290.7 142.0h2v2h-2zM297.2 135.4h2v2h-2zM276.8 143.8h2v2h-2zM284.7 147.3h2v2h-2zM275.3 144.4h2v2h-2zM301.0 134.9h2v2h-2zM278.7 141.3h2v2h-2zM281.3 146.9h2v2h-2zM295.6 137.0h2v2h-2zM281.2 141.5h2v2h-2zM281.7 147.2h2v2h-2zM273.1 151.9h2v2h-2zM262.8 152.8h2v2h-2zM287.5 144.6h2v2h-2zM282.8 134.0h2v2h-2zM274.1 142.6h2v2h-2zM281.7 146.9h2v2h-2zM285.1 140.2h2v2h-2zM289.4 137.4h2v2h-2zM280.2 145.1h2v2h-2zM280.0 134.8h2v2h-2zM278.8 146.7h2v2h-2zM268.5 147.0h2v2h-2zM280.6 147.4h2v2h-2zM264.5 151.8h2v2h-2zM281.7 149.6h2v2h-2zM276.3 140.7h2v2h-2zM276.6 143.6h2v2h-2zM288.9 135.8h2v2h-2zM268.3 146.4h2v2h-2zM285.1 144.6h2v2h-2zM299.9 132.7h2v2h-2zM275.7 141.6h2v2h-2zM296.4 132.1h2v2h-2zM263.4 147.5h2v2h-2zM293.0 141.1h2v2h-2zM292.0 143.8h2v2h-2zM289.0 140.1h2v2h-2zM278.5 150.2h2v2h-2zM274.5 151.8h2v2h-2zM297.0 139.7h2v2h-2zM282.2 143.8h2v2h-2zM300.7 135.0h2v2h-2zM298.5 134.8h2v2h-2zM281.9 146.6h2v2h-2zM286.6 138.8h2v2h-2zM274.1 144.1h2v2h-2zM283.3 138.5h2v2h-2zM262.5 153.0h2v2h-2zM274.5 140.0h2v2h-2zM268.7 147.4h2v2h-2zM279.2 145.3h2v2h-2zM276.3 143.2h2v2h-2zM288.8 136.6h2v2h-2zM292.6 134.9h2v2h-2zM265.8 148.2h2v2h-2zM279.9 136.8h2v2h-2zM285.8 141.3h2v2h-2zM260.9 147.7h2v2h-2zM284.8 140.0h2v2h-2zM298.5 136.9h2v2h-2zM291.8 145.1h2v2h-2zM297.2 131.6h2v2h-2zM293.0 141.5h2v2h-2zM279.9 140.1h2v2h-2zM293.4 140.0h2v2h-2zM284.9 142.2h2v2h-2zM286.3 137.3h2v2h-2zM280.3 134.5h2v2h-2zM270.5 152.4h2v2h-2zM296.3 132.7h2v2h-2zM284.9 131.0h2v2h-2zM267.0 152.3h2v2h-2zM277.0 145.4h2v2h-2zM283.8 134.9h2v2h-2zM278.7 146.2h2v2h-2zM292.8 138.3h2v2h-2zM267.3 143.0h2v2h-2zM286.5 134.5h2v2h-2zM271.9 147.3h2v2h-2zM279.2 145.5h2v2h-2zM299.4 137.0h2v2h-2zM276.2 149.8h2v2h-2zM273.6 151.9h2v2h-2zM266.8 153.4h2v2h-2zM305.5 134.6h2v2h-2zM281.1 150.1h2v2h-2zM299.1 139.1h2v2h-2zM291.7 145.9h2v2h-2zM263.5 149.6h2v2h-2zM277.9 143.1h2v2h-2zM272.2 143.3h2v2h-2zM289.4 135.8h2v2h-2zM274.6 149.7h2v2h-2zM287.6 135.2h2v2h-2zM295.3 141.9h2v2h-2zM279.2 149.6h2v2h-2zM278.6 144.5h2v2h-2zM287.1 139.1h2v2h-2zM297.3 136.1h2v2h-2zM291.4 137.2h2v2h-2zM290.5 139.8h2v2h-2zM294.8 138.2h2v2h-2zM288.4 137.7h2v2h-2zM294.3 139.3h2v2h-2zM285.2 137.2h2v2h-2zM263.5 151.2h2v2h-2zM277.5 149.7h2v2h-2zM281.5 135.2h2v2h-2zM260.2 155.2h2v2h-2zM276.6 140.5h2v2h-2zM290.9 129.5h2v2h-2zM298.4 133.3h2v2h-2zM290.0 138.0h2v2h-2zM277.8 145.9h2v2h-2zM271.2 140.2h2v2h-2zM278.1 147.5h2v2h-2zM273.9 149.9h2v2h-2zM276.5 147.3h2v2h-2zM278.4 150.3h2v2h-2zM279.1 136.3h2v2h-2zM276.0 147.0h2v2h-2zM289.5 142.7h2v2h-2zM268.6 141.4h2v2h-2zM303.3 134.2h2v2h-2zM288.4 139.0h2v2h-2zM260.0 156.4h2v2h-2zM275.0 141.1h2v2h-2zM288.4 141.2h2v2h-2zM263.4 148.6h2v2h-2zM263.0 151.7h2v2h-2zM296.1 139.3h2v2h-2zM265.4 155.5h2v2h-2zM263.6 150.8h2v2h-2zM294.5 135.7h2v2h-2zM299.1 139.0h2v2h-2zM298.7 137.9h2v2h-2zM293.5 134.6h2v2h-2zM271.9 152.4h2v2h-2zM286.8 149.5h2v2h-2zM268.0 144.6h2v2h-2zM282.7 141.1h2v2h-2zM299.9 139.2h2v2h-2zM302.5 141.0h2v2h-2zM283.7 136.8h2v2h-2zM277.9 136.0h2v2h-2zM273.6 144.7h2v2h-2zM274.6 142.4h2v2h-2zM297.4 131.7h2v2h-2zM283.1 146.2h2v2h-2zM271.6 148.3h2v2h-2zM276.5 145.1h2v2h-2zM272.4 151.3h2v2h-2zM278.4 146.8h2v2h-2zM283.5 137.6h2v2h-2zM282.8 147.6h2v2h-2zM287.0 147.0h2v2h-2zM292.0 147.1h2v2h-2zM281.0 134.9h2v2h-2zM302.7 133.3h2v2h-2zM276.9 142.5h2v2h-2zM291.9 135.1h2v2h-2zM292.5 134.9h2v2h-2zM269.9 141.4h2v2h-2zM269.9 152.7h2v2h-2zM263.1 149.1h2v2h-2zM275.8 155.4h2v2h-2zM270.6 147.0h2v2h-2zM277.0 140.7h2v2h-2zM284.7 138.3h2v2h-2zM293.7 132.2h2v2h-2zM279.5 138.1h2v2h-2zM269.2 139.5h2v2h-2zM281.6 143.3h2v2h-2zM290.9 142.1h2v2h-2zM293.3 135.4h2v2h-2zM259.2 150.0h2v2h-2zM303.3 133.2h2v2h-2zM273.7 143.7h2v2h-2zM287.8 144.6h2v2h-2zM300.8 134.0h2v2h-2zM282.7 138.5h2v2h-2zM282.3 144.6h2v2h-2zM290.6 141.7h2v2h-2zM283.7 135.6h2v2h-2zM283.8 138.2h2v2h-2zM275.4 141.4h2v2h-2zM299.4 139.5h2v2h-2zM270.8 143.8h2v2h-2zM275.4 144.5h2v2h-2zM286.9 136.3h2v2h-2zM282.2 134.2h2v2h-2zM270.9 152.4h2v2h-2zM289.0 130.7h2v2h-2zM275.4 139.6h2v2h-2zM283.5 141.7h2v2h-2zM287.2 142.1h2v2h-2zM280.0 133.1h2v2h-2zM301.1 136.4h2v2h-2zM292.2 135.1h2v2h-2zM258.2 156.6h2v2h-2zM299.8 134.1h2v2h-2zM293.9 136.5h2v2h-2zM303.8 133.2h2v2h-2zM259.0 158.7h2v2h-2zM286.4 144.3h2v2h-2zM283.9 131.8h2v2h-2zM287.4 133.0h2v2h-2zM278.5 145.6h2v2h-2zM302.9 131.9h2v2h-2zM292.9 133.1h2v2h-2zM300.0 133.5h2v2h-2zM279.2 140.2h2v2h-2zM268.7 142.2h2v2h-2zM298.6 133.1h2v2h-2zM287.1 136.7h2v2h-2zM268.0 144.1h2v2h-2zM292.2 134.7h2v2h-2zM284.3 140.8h2v2h-2zM287.4 141.5h2v2h-2zM269.6 153.0h2v2h-2zM298.9 141.0h2v2h-2zM293.2 138.7h2v2h-2zM293.8 138.4h2v2h-2zM265.3 149.4h2v2h-2zM293.1 141.4h2v2h-2zM286.4 136.8h2v2h-2zM280.6 146.1h2v2h-2zM277.9 142.2h2v2h-2zM287.8 138.8h2v2h-2zM273.6 143.2h2v2h-2zM264.5 149.9h2v2h-2zM279.3 134.8h2v2h-2zM295.0 136.8h2v2h-2zM279.8 142.4h2v2h-2zM290.1 137.7h2v2h-2zM273.6 141.5h2v2h-2zM302.8 135.3h2v2h-2zM279.3 148.3h2v2h-2zM281.6 145.3h2v2h-2zM272.8 151.7h2v2h-2zM291.9 143.7h2v2h-2zM271.3 143.3h2v2h-2zM293.7 137.5h2v2h-2zM268.0 147.2h2v2h-2zM283.5 146.0h2v2h-2zM285.4 146.4h2v2h-2zM281.4 137.6h2v2h-2zM298.8 138.6h2v2h-2zM291.4 136.7h2v2h-2zM277.9 136.5h2v2h-2zM281.6 145.1h2v2h-2zM269.4 150.9h2v2h-2zM270.5 153.1h2v2h-2zM273.0 139.1h2v2h-2zM273.1 147.1h2v2h-2zM261.5 147.7h2v2h-2zM270.5 152.2h2v2h-2zM303.1 135.4h2v2h-2zM281.9 136.9h2v2h-2zM290.2 143.5h2v2h-2zM287.0 137.5h2v2h-2zM283.2 138.5h2v2h-2zM277.8 152.1h2v2h-2zM272.3 140.0h2v2h-2zM269.0 153.3h2v2h-2zM291.7 138.6h2v2h-2zM296.5 139.3h2v2h-2zM261.6 153.1h2v2h-2zM277.3 149.5h2v2h-2zM275.7 143.7h2v2h-2zM274.0 146.1h2v2h-2zM286.1 136.9h2v2h-2zM301.5 137.2h2v2h-2zM283.9 140.9h2v2h-2zM286.7 149.4h2v2h-2zM283.1 134.4h2v2h-2zM290.1 133.4h2v2h-2zM290.8 141.8h2v2h-2zM290.9 135.1h2v2h-2zM276.7 139.7h2v2h-2zM280.5 145.2h2v2h-2zM290.6 147.6h2v2h-2zM289.7 133.9h2v2h-2zM282.2 138.0h2v2h-2zM298.8 132.6h2v2h-2zM274.1 140.1h2v2h-2zM263.0 152.4h2v2h-2zM276.5 155.0h2v2h-2zM271.3 152.3h2v2h-2zM270.4 150.5h2v2h-2zM295.2 135.1h2v2h-2zM289.0 139.2h2v2h-2zM295.7 140.1h2v2h-2zM263.2 157.8h2v2h-2zM288.7 139.1h2v2h-2zM302.4 138.0h2v2h-2zM295.5 133.2h2v2h-2zM275.9 146.8h2v2h-2zM261.0 150.8h2v2h-2zM294.9 134.2h2v2h-2zM294.8 133.6h2v2h-2zM280.1 140.1h2v2h-2zM267.5 148.6h2v2h-2zM293.2 135.1h2v2h-2zM261.7 151.0h2v2h-2zM263.0 155.0h2v2h-2zM283.3 142.0h2v2h-2zM299.0 133.5h2v2h-2zM293.4 138.1h2v2h-2zM301.4 137.9h2v2h-2zM267.6 149.7h2v2h-2zM280.4 140.3h2v2h-2zM284.9 142.7h2v2h-2zM263.4 145.9h2v2h-2zM274.9 139.7h2v2h-2zM278.5 140.0h2v2h-2zM269.7 148.3h2v2h-2zM285.2 137.5h2v2h-2zM283.2 142.0h2v2h-2zM275.6 145.3h2v2h-2zM268.7 147.9h2v2h-2zM278.5 139.5h2v2h-2zM279.9 140.5h2v2h-2zM295.2 137.9h2v2h-2zM298.4 135.8h2v2h-2zM298.1 135.1h2v2h-2zM300.8 138.4h2v2h-2zM276.4 139.4h2v2h-2zM292.1 134.4h2v2h-2zM290.2 144.4h2v2h-2zM291.0 140.8h2v2h-2zM285.3 146.1h2v2h-2zM265.6 148.0h2v2h-2zM298.0 132.0h2v2h-2zM267.7 145.4h2v2h-2zM294.8 138.6h2v2h-2zM275.6 143.7h2v2h-2zM286.2 143.0h2v2h-2zM268.1 141.0h2v2h-2zM277.8 137.9h2v2h-2zM292.0 137.4h2v2h-2zM285.2 132.0h2v2h-2zM285.9 147.7h2v2h-2zM274.4 144.9h2v2h-2zM269.4 146.9h2v2h-2zM271.1 147.9h2v2h-2zM260.9 157.0h2v2h-2zM292.3 140.5h2v2h-2zM271.7 145.6h2v2h-2zM292.6 138.1h2v2h-2zM274.5 140.1h2v2h-2zM283.1 147.8h2v2h-2zM283.7 141.7h2v2h-2zM276.9 140.3h2v2h-2zM303.8 136.0h2v2h-2zM283.7 150.2h2v2h-2zM287.5 139.5h2v2h-2zM273.7 146.2h2v2h-2zM273.8 143.9h2v2h-2zM277.7 136.8h2v2h-2zM288.2 144.5h2v2h-2zM279.8 133.9h2v2h-2zM293.3 140.1h2v2h-2zM275.3 147.8h2v2h-2zM287.3 141.7h2v2h-2zM283.8 145.0h2v2h-2zM285.0 150.6h2v2h-2zM281.9 143.7h2v2h-2zM279.7 149.4h2v2h-2zM295.5 138.0h2v2h-2zM282.8 134.7h2v2h-2zM268.6 152.8h2v2h-2zM272.7 142.7h2v2h-2zM291.4 133.6h2v2h-2zM282.1 146.8h2v2h-2zM274.3 136.0h2v2h-2zM288.7 132.6h2v2h-2zM285.9 138.5h2v2h-2zM281.6 144.0h2v2h-2zM270.4 151.1h2v2h-2zM292.2 137.0h2v2h-2zM300.7 137.4h2v2h-2zM276.6 143.5h2v2h-2zM255.0 158.0h2v2h-2zM265.3 150.6h2v2h-2zM292.4 137.1h2v2h-2zM280.2 148.4h2v2h-2zM288.0 145.0h2v2h-2zM287.3 140.7h2v2h-2zM280.3 149.1h2v2h-2zM286.9 144.6h2v2h-2zM297.0 132.5h2v2h-2zM293.5 139.6h2v2h-2zM296.4 134.0h2v2h-2zM269.5 153.9h2v2h-2zM295.8 134.2h2v2h-2zM291.6 142.2h2v2h-2zM294.7 133.0h2v2h-2zM282.4 138.6h2v2h-2zM280.2 143.7h2v2h-2zM266.3 149.5h2v2h-2zM285.6 139.5h2v2h-2zM288.2 142.0h2v2h-2zM272.5 147.0h2v2h-2zM281.4 142.8h2v2h-2zM280.9 143.2h2v2h-2zM275.4 141.4h2v2h-2zM269.6 154.2h2v2h-2zM273.2 151.2h2v2h-2zM296.9 139.6h2v2h-2zM276.6 150.4h2v2h-2zM275.8 139.6h2v2h-2zM296.5 140.9h2v2h-2zM271.5 149.8h2v2h-2zM295.1 134.7h2v2h-2zM277.8 133.1h2v2h-2zM295.5 129.4h2v2h-2zM264.8 139.5h2v2h-2zM265.0 140.7h2v2h-2zM258.7 150.0h2v2h-2zM304.6 128.1h2v2h-2zM275.0 134.2h2v2h-2zM302.6 127.7h2v2h-2zM292.3 128.0h2v2h-2zM265.6 140.4h2v2h-2zM275.4 133.2h2v2h-2zM288.9 129.6h2v2h-2zM301.7 128.2h2v2h-2zM301.8 125.1h2v2h-2zM281.5 131.1h2v2h-2zM295.6 129.7h2v2h-2zM269.2 137.5h2v2h-2zM301.6 125.8h2v2h-2zM268.4 138.6h2v2h-2zM277.3 133.5h2v2h-2zM264.3 142.2h2v2h-2zM299.5 129.9h2v2h-2zM296.8 128.0h2v2h-2zM284.1 130.7h2v2h-2zM301.4 128.3h2v2h-2zM280.8 130.2h2v2h-2zM288.0 126.7h2v2h-2zM272.5 131.6h2v2h-2zM301.8 128.0h2v2h-2zM277.6 128.9h2v2h-2zM306.9 132.1h2v2h-2zM274.4 134.3h2v2h-2zM260.9 142.0h2v2h-2zM263.5 142.0h2v2h-2zM260.9 145.9h2v2h-2zM265.4 145.9h2v2h-2zM266.7 149.8h2v2h-2zM262.2 150.4h2v2h-2zM251.8 145.9h2v2h-2zM252.4 147.2h2v2h-2zM248.5 147.8h2v2h-2zM255.7 148.5h2v2h-2zM245.3 153.0h2v2h-2zM248.5 150.4h2v2h-2zM255.7 155.6h2v2h-2zM257.0 156.9h2v2h-2zM258.3 158.9h2v2h-2zM258.9 161.5h2v2h-2zM263.5 160.2h2v2h-2zM270.0 158.9h2v2h-2zM274.5 160.2h2v2h-2zM276.5 129.6h2v2h-2zM285.1 126.5h2v2h-2zM289.2 129.2h2v2h-2zM304.2 127.2h2v2h-2zM302.2 129.2h2v2h-2zM306.3 132.0h2v2h-2zM307.6 133.3h2v2h-2zM289.2 151.7h2v2h-2zM281.7 154.5h2v2h-2zM298.8 145.6h2v2h-2zM235.4 153.9h2v2h-2zM242.6 147.5h2v2h-2zM244.9 153.2h2v2h-2zM249.5 145.3h2v2h-2zM251.7 147.5h2v2h-2zM254.0 155.5h2v2h-2zM276.7 128.2h2v2h-2zM284.7 127.1h2v2h-2zM304.0 127.1h2v2h-2zM275.6 160.0h2v2h-2zM269.0 139.0h2v2h-2zM271.0 136.0h2v2h-2zM267.0 141.0h2v2h-2zM274.0 134.0h2v2h-2zM265.0 138.0h2v2h-2zM262.0 140.5h2v2h-2z"/>
<line x1="230.80" y1="173.50" x2="316.60" y2="130.50" stroke="#e8606a" stroke-width="0.8" stroke-opacity="0.85"/>
<rect x="230.80" y="119.90" width="85.80" height="68.50" fill="none" stroke="#9a9a9a" stroke-width="1.1"/>
<path d="M230.80 188.40v1.2M229.60 188.40h1.2M237.95 188.40v1.2M229.60 182.69h1.2M245.10 188.40v1.2M229.60 176.98h1.2M252.25 188.40v1.2M229.60 171.28h1.2M259.40 188.40v1.2M229.60 165.57h1.2M266.55 188.40v1.2M229.60 159.86h1.2M273.70 188.40v1.2M229.60 154.15h1.2M280.85 188.40v1.2M229.60 148.44h1.2M288.00 188.40v1.2M229.60 142.73h1.2M295.15 188.40v1.2M229.60 137.03h1.2M302.30 188.40v1.2M229.60 131.32h1.2M309.45 188.40v1.2M229.60 125.61h1.2M316.60 188.40v1.2M229.60 119.90h1.2" stroke="#999" stroke-width="0.5" fill="none"/>
<text x="234.00" y="126.10" font-size="5.1" fill="#111" font-weight="bold" textLength="19.70" lengthAdjust="spacingAndGlyphs" stroke="#111" stroke-width="0.35">House D</text>
<text x="252.10" y="184.80" font-size="6.3" fill="#303030" stroke="#303030" stroke-width="0.22" textLength="50.00" lengthAdjust="spacingAndGlyphs">Q = 126.7 kJ/m<tspan font-size="3.91" dy="-2.4">3</tspan><tspan dy="2.4">K</tspan></text>
<text x="269.90" y="176.50" font-size="5.3" fill="#1e1e1e" stroke="#1e1e1e" stroke-width="0.28" font-weight="bold" textLength="25.80" lengthAdjust="spacingAndGlyphs">R<tspan font-size="3.18" dy="-1.8">2</tspan><tspan dy="1.8"> = 0.7014</tspan></text>
<text x="0" y="0" font-size="6.3" fill="#6e6e6e" text-anchor="middle" transform="translate(325.97,151.70) rotate(-90)" textLength="42.1" lengthAdjust="spacingAndGlyphs">Indoor AH [g/kg]</text>
<text x="379.00" y="200.10" font-size="5.8" fill="#6e6e6e" text-anchor="middle" textLength="45.50" lengthAdjust="spacingAndGlyphs">Outdoor AH [g/kg]</text>
<text x="334.20" y="187.70" font-size="4.8" fill="#383838" text-anchor="end" textLength="4.40" lengthAdjust="spacingAndGlyphs" stroke="#383838" stroke-width="0.15">11</text>
<text x="336.40" y="193.70" font-size="4.8" fill="#383838" text-anchor="middle" textLength="4.40" lengthAdjust="spacingAndGlyphs" stroke="#383838" stroke-width="0.15">11</text>
<text x="334.20" y="176.43" font-size="4.8" fill="#383838" text-anchor="end" textLength="4.40" lengthAdjust="spacingAndGlyphs" stroke="#383838" stroke-width="0.15">13</text>
<text x="350.60" y="193.70" font-size="4.8" fill="#383838" text-anchor="middle" textLength="4.40" lengthAdjust="spacingAndGlyphs" stroke="#383838" stroke-width="0.15">13</text>
<text x="334.20" y="165.17" font-size="4.8" fill="#383838" text-anchor="end" textLength="4.40" lengthAdjust="spacingAndGlyphs" stroke="#383838" stroke-width="0.15">15</text>
<text x="364.80" y="193.70" font-size="4.8" fill="#383838" text-anchor="middle" textLength="4.40" lengthAdjust="spacingAndGlyphs" stroke="#383838" stroke-width="0.15">15</text>
<text x="334.20" y="153.90" font-size="4.8" fill="#383838" text-anchor="end" textLength="4.40" lengthAdjust="spacingAndGlyphs" stroke="#383838" stroke-width="0.15">17</text>
<text x="379.00" y="193.70" font-size="4.8" fill="#383838" text-anchor="middle" textLength="4.40" lengthAdjust="spacingAndGlyphs" stroke="#383838" stroke-width="0.15">17</text>
<text x="334.20" y="142.63" font-size="4.8" fill="#383838" text-anchor="end" textLength="4.40" lengthAdjust="spacingAndGlyphs" stroke="#383838" stroke-width="0.15">19</text>
<text x="393.20" y="193.70" font-size="4.8" fill="#383838" text-anchor="middle" textLength="4.40" lengthAdjust="spacingAndGlyphs" stroke="#383838" stroke-width="0.15">19</text>
<text x="334.20" y="131.37" font-size="4.8" fill="#383838" text-anchor="end" textLength="4.40" lengthAdjust="spacingAndGlyphs" stroke="#383838" stroke-width="0.15">21</text>
<text x="407.40" y="193.70" font-size="4.8" fill="#383838" text-anchor="middle" textLength="4.40" lengthAdjust="spacingAndGlyphs" stroke="#383838" stroke-width="0.15">21</text>
<text x="334.20" y="120.10" font-size="4.8" fill="#383838" text-anchor="end" textLength="4.40" lengthAdjust="spacingAndGlyphs" stroke="#383838" stroke-width="0.15">23</text>
<text x="421.60" y="193.70" font-size="4.8" fill="#383838" text-anchor="middle" textLength="4.40" lengthAdjust="spacingAndGlyphs" stroke="#383838" stroke-width="0.15">23</text>
<line x1="336.40" y1="186.80" x2="421.60" y2="119.20" stroke="#bdbdbd" stroke-width="0.7"/>
<path fill="#0d0d86" d="M393.7 138.6h2v2h-2zM375.8 149.5h2v2h-2zM386.0 153.2h2v2h-2zM395.0 149.5h2v2h-2zM390.4 145.2h2v2h-2zM409.2 138.2h2v2h-2zM366.8 155.6h2v2h-2zM395.8 144.8h2v2h-2zM389.2 142.0h2v2h-2zM384.4 145.6h2v2h-2zM397.8 137.9h2v2h-2zM383.6 147.7h2v2h-2zM375.4 155.4h2v2h-2zM373.2 150.9h2v2h-2zM375.2 153.4h2v2h-2zM403.7 134.5h2v2h-2zM378.1 153.4h2v2h-2zM386.1 150.2h2v2h-2zM397.5 144.1h2v2h-2zM379.2 153.8h2v2h-2zM391.1 141.8h2v2h-2zM403.8 139.2h2v2h-2zM403.8 143.2h2v2h-2zM382.2 158.5h2v2h-2zM374.4 153.6h2v2h-2zM383.0 143.8h2v2h-2zM403.2 136.9h2v2h-2zM396.1 140.1h2v2h-2zM394.4 152.4h2v2h-2zM403.1 137.6h2v2h-2zM395.5 142.9h2v2h-2zM384.6 144.6h2v2h-2zM398.5 141.0h2v2h-2zM390.1 141.7h2v2h-2zM410.6 138.2h2v2h-2zM410.3 137.2h2v2h-2zM404.2 135.1h2v2h-2zM379.1 154.8h2v2h-2zM372.3 155.3h2v2h-2zM398.9 137.2h2v2h-2zM395.0 138.1h2v2h-2zM403.5 144.5h2v2h-2zM380.7 148.6h2v2h-2zM405.1 138.1h2v2h-2zM375.0 154.1h2v2h-2zM376.9 147.3h2v2h-2zM396.1 139.0h2v2h-2zM377.2 152.8h2v2h-2zM397.2 141.8h2v2h-2zM400.4 142.9h2v2h-2zM382.3 152.0h2v2h-2zM389.8 150.0h2v2h-2zM412.1 138.9h2v2h-2zM391.2 143.3h2v2h-2zM382.7 147.8h2v2h-2zM395.5 147.8h2v2h-2zM414.0 138.7h2v2h-2zM395.1 138.1h2v2h-2zM384.0 152.5h2v2h-2zM368.2 160.2h2v2h-2zM414.5 137.6h2v2h-2zM388.9 148.8h2v2h-2zM395.8 147.8h2v2h-2zM394.3 150.0h2v2h-2zM387.0 139.4h2v2h-2zM398.3 146.0h2v2h-2zM368.0 155.9h2v2h-2zM400.8 136.5h2v2h-2zM401.0 137.5h2v2h-2zM386.7 144.7h2v2h-2zM373.0 151.4h2v2h-2zM396.1 140.2h2v2h-2zM406.1 136.1h2v2h-2zM408.5 138.2h2v2h-2zM375.2 157.6h2v2h-2zM390.2 137.3h2v2h-2zM386.5 151.5h2v2h-2zM403.1 142.1h2v2h-2zM392.0 144.4h2v2h-2zM401.4 143.0h2v2h-2zM397.0 139.0h2v2h-2zM384.2 148.1h2v2h-2zM380.5 152.9h2v2h-2zM403.3 142.7h2v2h-2zM384.6 146.7h2v2h-2zM410.2 135.5h2v2h-2zM391.3 147.5h2v2h-2zM368.2 151.8h2v2h-2zM366.5 159.3h2v2h-2zM395.3 139.7h2v2h-2zM393.3 152.7h2v2h-2zM381.1 147.5h2v2h-2zM399.9 145.0h2v2h-2zM398.0 147.0h2v2h-2zM387.4 150.2h2v2h-2zM388.0 144.6h2v2h-2zM397.5 147.4h2v2h-2zM410.4 135.9h2v2h-2zM391.4 147.0h2v2h-2zM400.6 139.8h2v2h-2zM399.2 140.5h2v2h-2zM389.1 153.0h2v2h-2zM380.9 145.9h2v2h-2zM393.1 138.0h2v2h-2zM370.0 153.5h2v2h-2zM383.5 149.8h2v2h-2zM402.1 145.1h2v2h-2zM399.2 142.5h2v2h-2zM398.4 150.0h2v2h-2zM392.6 148.9h2v2h-2zM378.6 149.5h2v2h-2zM382.7 145.7h2v2h-2zM401.7 141.2h2v2h-2zM376.9 153.5h2v2h-2zM371.9 156.7h2v2h-2zM373.9 153.5h2v2h-2zM404.5 134.6h2v2h-2zM384.5 153.1h2v2h-2zM397.1 142.2h2v2h-2zM378.5 152.7h2v2h-2zM377.9 154.1h2v2h-2zM398.1 143.8h2v2h-2zM391.5 138.2h2v2h-2zM403.7 136.6h2v2h-2zM400.1 139.1h2v2h-2zM393.5 146.8h2v2h-2zM375.8 151.8h2v2h-2zM374.6 158.2h2v2h-2zM400.9 140.3h2v2h-2zM374.1 153.5h2v2h-2zM410.7 133.1h2v2h-2zM390.8 142.7h2v2h-2zM404.4 140.9h2v2h-2zM410.0 136.5h2v2h-2zM391.6 140.6h2v2h-2zM383.3 147.1h2v2h-2zM378.4 148.9h2v2h-2zM393.2 149.1h2v2h-2zM410.7 137.1h2v2h-2zM395.1 143.2h2v2h-2zM394.8 147.8h2v2h-2zM406.4 135.0h2v2h-2zM390.1 145.3h2v2h-2zM389.3 152.9h2v2h-2zM388.9 143.7h2v2h-2zM409.7 138.5h2v2h-2zM379.5 155.1h2v2h-2zM390.0 144.5h2v2h-2zM411.8 139.6h2v2h-2zM381.6 150.9h2v2h-2zM393.8 144.2h2v2h-2zM378.8 153.5h2v2h-2zM404.4 138.7h2v2h-2zM397.1 145.4h2v2h-2zM387.5 149.0h2v2h-2zM394.3 149.3h2v2h-2zM402.1 136.3h2v2h-2zM370.8 161.9h2v2h-2zM389.8 140.2h2v2h-2zM380.8 151.8h2v2h-2zM409.3 135.8h2v2h-2zM380.9 151.4h2v2h-2zM370.3 155.1h2v2h-2zM383.8 144.0h2v2h-2zM406.6 138.2h2v2h-2zM386.5 153.8h2v2h-2zM378.1 149.7h2v2h-2zM375.2 156.0h2v2h-2zM398.5 139.6h2v2h-2zM401.7 143.5h2v2h-2zM402.5 141.5h2v2h-2zM366.6 157.5h2v2h-2zM368.6 157.4h2v2h-2zM385.9 147.6h2v2h-2zM376.8 152.3h2v2h-2zM390.1 139.7h2v2h-2zM397.2 151.2h2v2h-2zM378.9 158.1h2v2h-2zM389.2 142.7h2v2h-2zM400.0 136.0h2v2h-2zM380.8 145.3h2v2h-2zM393.4 148.9h2v2h-2zM388.7 153.1h2v2h-2zM386.8 147.1h2v2h-2zM384.8 147.1h2v2h-2zM410.3 138.0h2v2h-2zM395.3 138.6h2v2h-2zM401.7 144.6h2v2h-2zM388.7 152.5h2v2h-2zM380.1 154.8h2v2h-2zM385.0 144.9h2v2h-2zM382.0 144.0h2v2h-2zM397.2 148.3h2v2h-2zM370.4 154.0h2v2h-2zM398.8 137.7h2v2h-2zM390.7 147.3h2v2h-2zM393.1 144.6h2v2h-2zM406.0 141.8h2v2h-2zM400.2 149.2h2v2h-2zM389.0 136.6h2v2h-2zM384.9 144.1h2v2h-2zM367.1 158.7h2v2h-2zM408.3 139.8h2v2h-2zM393.5 139.4h2v2h-2zM410.3 139.6h2v2h-2zM379.9 150.2h2v2h-2zM394.3 149.6h2v2h-2zM397.2 141.7h2v2h-2zM409.5 139.3h2v2h-2zM381.0 153.3h2v2h-2zM409.7 142.6h2v2h-2zM409.3 137.5h2v2h-2zM374.7 157.9h2v2h-2zM394.7 145.3h2v2h-2zM410.0 138.8h2v2h-2zM374.3 151.1h2v2h-2zM384.2 148.5h2v2h-2zM388.7 146.6h2v2h-2zM383.6 147.6h2v2h-2zM368.5 154.7h2v2h-2zM381.5 154.5h2v2h-2zM396.9 140.5h2v2h-2zM398.5 138.5h2v2h-2zM401.9 146.9h2v2h-2zM404.2 137.1h2v2h-2zM411.2 136.7h2v2h-2zM375.3 155.5h2v2h-2zM380.5 154.7h2v2h-2zM404.1 138.8h2v2h-2zM387.7 144.1h2v2h-2zM405.5 140.8h2v2h-2zM394.8 151.6h2v2h-2zM392.0 142.7h2v2h-2zM385.5 152.4h2v2h-2zM374.9 153.6h2v2h-2zM375.4 156.4h2v2h-2zM399.9 147.5h2v2h-2zM405.8 137.3h2v2h-2zM397.4 147.5h2v2h-2zM400.4 141.3h2v2h-2zM398.1 143.6h2v2h-2zM390.9 145.0h2v2h-2zM391.7 138.7h2v2h-2zM373.3 153.0h2v2h-2zM399.1 139.3h2v2h-2zM393.7 147.7h2v2h-2zM371.2 159.4h2v2h-2zM392.5 148.9h2v2h-2zM376.0 156.0h2v2h-2zM370.3 151.3h2v2h-2zM395.0 143.4h2v2h-2zM393.0 140.0h2v2h-2zM374.9 152.2h2v2h-2zM405.6 138.9h2v2h-2zM397.4 147.6h2v2h-2zM396.1 150.3h2v2h-2zM394.6 141.4h2v2h-2zM406.0 137.8h2v2h-2zM395.1 141.6h2v2h-2zM392.8 148.7h2v2h-2zM388.1 152.5h2v2h-2zM394.9 144.6h2v2h-2zM387.6 147.6h2v2h-2zM394.3 138.3h2v2h-2zM402.1 134.2h2v2h-2zM409.0 134.3h2v2h-2zM388.8 147.9h2v2h-2zM380.8 149.5h2v2h-2zM378.3 147.4h2v2h-2zM387.0 147.6h2v2h-2zM392.0 142.9h2v2h-2zM376.6 148.7h2v2h-2zM396.3 149.1h2v2h-2zM405.4 135.9h2v2h-2zM406.5 138.3h2v2h-2zM379.0 152.8h2v2h-2zM395.5 149.7h2v2h-2zM383.8 142.8h2v2h-2zM404.7 143.7h2v2h-2zM392.5 145.4h2v2h-2zM383.5 146.3h2v2h-2zM408.5 141.4h2v2h-2zM382.0 150.4h2v2h-2zM383.5 149.0h2v2h-2zM379.1 147.1h2v2h-2zM391.3 136.4h2v2h-2zM409.0 140.7h2v2h-2zM389.1 147.1h2v2h-2zM382.8 151.2h2v2h-2zM381.7 154.0h2v2h-2zM406.0 140.6h2v2h-2zM383.2 142.3h2v2h-2zM383.4 155.2h2v2h-2zM396.8 143.6h2v2h-2zM383.6 146.3h2v2h-2zM378.8 150.9h2v2h-2zM378.3 154.1h2v2h-2zM379.6 155.1h2v2h-2zM398.0 137.4h2v2h-2zM399.5 143.6h2v2h-2zM409.8 138.8h2v2h-2zM399.6 146.7h2v2h-2zM394.3 140.1h2v2h-2zM384.5 143.0h2v2h-2zM380.7 151.4h2v2h-2zM389.6 149.2h2v2h-2zM399.2 144.4h2v2h-2zM384.0 150.2h2v2h-2zM388.6 143.6h2v2h-2zM390.0 144.4h2v2h-2zM374.9 149.5h2v2h-2zM393.2 141.7h2v2h-2zM390.2 150.5h2v2h-2zM401.4 136.3h2v2h-2zM380.6 150.6h2v2h-2zM403.7 143.6h2v2h-2zM383.7 143.1h2v2h-2zM409.6 142.7h2v2h-2zM402.7 144.2h2v2h-2zM368.0 157.2h2v2h-2zM400.3 140.9h2v2h-2zM407.2 138.3h2v2h-2zM401.5 144.7h2v2h-2zM383.7 152.7h2v2h-2zM381.4 149.4h2v2h-2zM404.3 136.0h2v2h-2zM405.9 139.1h2v2h-2zM381.9 146.9h2v2h-2zM398.8 147.2h2v2h-2zM366.7 158.5h2v2h-2zM391.1 145.6h2v2h-2zM401.0 143.7h2v2h-2zM401.9 145.6h2v2h-2zM404.9 144.6h2v2h-2zM376.2 154.9h2v2h-2zM380.1 144.9h2v2h-2zM378.8 155.3h2v2h-2zM385.5 145.8h2v2h-2zM385.1 145.9h2v2h-2zM399.2 139.2h2v2h-2zM391.1 139.7h2v2h-2zM383.2 151.9h2v2h-2zM378.0 158.1h2v2h-2zM404.5 135.3h2v2h-2zM403.0 142.9h2v2h-2zM387.7 154.9h2v2h-2zM389.8 152.4h2v2h-2zM403.7 136.8h2v2h-2zM388.8 136.1h2v2h-2zM398.9 141.9h2v2h-2zM384.7 147.9h2v2h-2zM390.4 149.6h2v2h-2zM399.3 138.6h2v2h-2zM402.1 140.5h2v2h-2zM376.4 151.6h2v2h-2zM388.3 147.6h2v2h-2zM387.6 150.9h2v2h-2zM382.5 152.3h2v2h-2zM378.3 149.5h2v2h-2zM371.1 154.8h2v2h-2zM390.7 152.2h2v2h-2zM371.9 155.1h2v2h-2zM408.7 138.9h2v2h-2zM391.5 146.5h2v2h-2zM395.2 140.0h2v2h-2zM380.9 146.9h2v2h-2zM370.0 154.3h2v2h-2zM379.5 157.2h2v2h-2zM383.0 148.4h2v2h-2zM375.7 152.5h2v2h-2zM396.7 138.2h2v2h-2zM391.9 150.7h2v2h-2zM381.9 156.0h2v2h-2zM372.3 157.7h2v2h-2zM398.3 143.8h2v2h-2zM381.3 156.4h2v2h-2zM370.9 156.7h2v2h-2zM394.8 142.6h2v2h-2zM387.0 150.8h2v2h-2zM384.3 142.9h2v2h-2zM399.6 141.9h2v2h-2zM399.5 135.7h2v2h-2zM385.0 144.8h2v2h-2zM385.8 147.7h2v2h-2zM375.5 150.3h2v2h-2zM411.3 135.9h2v2h-2zM396.9 143.7h2v2h-2zM405.6 142.6h2v2h-2zM412.1 138.7h2v2h-2zM402.8 142.0h2v2h-2zM381.6 156.2h2v2h-2zM392.8 144.7h2v2h-2zM375.4 151.3h2v2h-2zM397.5 146.8h2v2h-2zM395.0 141.0h2v2h-2zM373.9 156.7h2v2h-2zM396.1 148.1h2v2h-2zM387.2 149.5h2v2h-2zM409.4 135.2h2v2h-2zM393.5 138.0h2v2h-2zM408.8 140.3h2v2h-2zM384.1 142.3h2v2h-2zM381.3 145.8h2v2h-2zM398.7 138.2h2v2h-2zM380.8 154.5h2v2h-2zM394.2 140.9h2v2h-2zM401.1 139.4h2v2h-2zM399.9 147.4h2v2h-2zM376.1 152.1h2v2h-2zM404.7 143.0h2v2h-2zM381.5 152.3h2v2h-2zM394.2 144.4h2v2h-2zM389.7 140.2h2v2h-2zM396.7 140.1h2v2h-2zM394.3 140.0h2v2h-2zM399.8 143.0h2v2h-2zM398.4 139.3h2v2h-2zM398.0 137.7h2v2h-2zM396.2 142.3h2v2h-2zM397.1 143.5h2v2h-2zM393.9 140.3h2v2h-2zM369.1 155.2h2v2h-2zM387.1 148.1h2v2h-2zM393.6 145.5h2v2h-2zM399.4 135.8h2v2h-2zM392.2 143.1h2v2h-2zM376.9 151.1h2v2h-2zM388.7 143.8h2v2h-2zM365.2 161.9h2v2h-2zM373.6 151.6h2v2h-2zM411.8 134.9h2v2h-2zM379.5 147.4h2v2h-2zM391.5 149.8h2v2h-2zM386.3 152.5h2v2h-2zM397.3 145.1h2v2h-2zM366.2 159.7h2v2h-2zM393.7 148.7h2v2h-2zM379.6 148.3h2v2h-2zM382.8 154.4h2v2h-2zM381.2 148.2h2v2h-2zM368.8 157.3h2v2h-2zM391.0 142.2h2v2h-2zM385.8 139.2h2v2h-2zM372.8 152.0h2v2h-2zM391.6 139.2h2v2h-2zM380.7 155.1h2v2h-2zM390.2 142.6h2v2h-2zM378.0 146.1h2v2h-2zM380.5 158.3h2v2h-2zM393.8 134.3h2v2h-2zM395.1 136.4h2v2h-2zM369.3 154.3h2v2h-2zM373.1 152.5h2v2h-2zM388.9 153.4h2v2h-2zM385.3 151.4h2v2h-2zM380.4 149.9h2v2h-2zM385.0 151.6h2v2h-2zM385.2 150.8h2v2h-2zM400.1 147.9h2v2h-2zM390.5 142.0h2v2h-2zM379.8 147.2h2v2h-2zM389.1 145.5h2v2h-2zM373.0 156.6h2v2h-2zM392.8 145.1h2v2h-2zM371.8 159.2h2v2h-2zM373.8 152.8h2v2h-2zM380.9 148.8h2v2h-2zM393.1 147.0h2v2h-2zM374.0 157.7h2v2h-2zM386.2 154.4h2v2h-2zM400.7 146.0h2v2h-2zM377.2 152.1h2v2h-2zM396.9 146.5h2v2h-2zM389.4 144.1h2v2h-2zM395.4 147.6h2v2h-2zM395.3 143.7h2v2h-2zM391.2 144.2h2v2h-2zM391.8 151.0h2v2h-2zM379.6 149.3h2v2h-2zM408.4 138.1h2v2h-2zM382.7 148.8h2v2h-2zM364.8 159.2h2v2h-2zM399.9 135.9h2v2h-2zM378.8 150.9h2v2h-2zM379.2 156.4h2v2h-2zM387.3 142.3h2v2h-2zM392.5 145.8h2v2h-2zM389.9 146.7h2v2h-2zM383.7 158.5h2v2h-2zM386.4 147.3h2v2h-2zM384.2 156.8h2v2h-2zM404.2 145.0h2v2h-2zM404.6 138.7h2v2h-2zM392.8 145.7h2v2h-2zM391.6 152.6h2v2h-2zM401.4 135.6h2v2h-2zM407.2 137.9h2v2h-2zM388.3 142.2h2v2h-2zM405.8 138.5h2v2h-2zM390.3 151.3h2v2h-2zM390.1 141.7h2v2h-2zM408.1 141.6h2v2h-2zM393.9 138.2h2v2h-2zM395.8 148.7h2v2h-2zM403.5 144.5h2v2h-2zM380.2 149.8h2v2h-2zM385.9 142.6h2v2h-2zM405.7 138.7h2v2h-2zM383.2 148.8h2v2h-2zM402.6 139.0h2v2h-2zM384.5 147.2h2v2h-2zM398.5 143.3h2v2h-2zM390.4 149.1h2v2h-2zM401.2 137.1h2v2h-2zM392.6 142.9h2v2h-2zM384.9 145.1h2v2h-2zM393.6 144.7h2v2h-2zM381.1 155.9h2v2h-2zM386.1 143.4h2v2h-2zM388.4 140.1h2v2h-2zM399.2 143.2h2v2h-2zM388.5 149.5h2v2h-2zM382.2 151.2h2v2h-2zM397.9 148.5h2v2h-2zM402.4 144.1h2v2h-2zM373.2 153.6h2v2h-2zM388.6 151.5h2v2h-2zM383.5 145.0h2v2h-2zM389.4 146.0h2v2h-2zM385.4 151.0h2v2h-2zM395.3 146.0h2v2h-2zM387.8 151.1h2v2h-2zM403.7 145.3h2v2h-2zM387.7 153.2h2v2h-2zM377.8 149.8h2v2h-2zM387.1 151.4h2v2h-2zM408.8 141.0h2v2h-2zM377.2 158.1h2v2h-2zM391.7 149.3h2v2h-2zM397.5 137.6h2v2h-2zM397.1 135.9h2v2h-2zM390.6 147.6h2v2h-2zM395.6 149.5h2v2h-2zM377.5 147.4h2v2h-2zM386.9 142.1h2v2h-2zM405.7 142.4h2v2h-2zM386.9 153.4h2v2h-2zM404.9 138.3h2v2h-2zM390.2 148.5h2v2h-2zM387.2 142.6h2v2h-2zM387.0 137.3h2v2h-2zM386.8 137.8h2v2h-2zM395.2 132.8h2v2h-2zM365.3 158.0h2v2h-2zM382.3 140.7h2v2h-2zM391.6 132.7h2v2h-2zM377.2 143.8h2v2h-2zM370.1 151.2h2v2h-2zM378.6 143.4h2v2h-2zM395.5 132.1h2v2h-2zM349.6 150.9h2v2h-2zM352.9 152.8h2v2h-2zM354.2 154.8h2v2h-2zM360.7 154.1h2v2h-2zM364.6 157.4h2v2h-2zM365.9 160.0h2v2h-2zM356.8 161.9h2v2h-2zM363.3 163.9h2v2h-2zM364.6 166.5h2v2h-2zM362.6 168.4h2v2h-2zM367.2 168.4h2v2h-2zM368.5 171.0h2v2h-2zM361.3 173.0h2v2h-2zM371.7 139.8h2v2h-2zM376.9 141.1h2v2h-2zM376.3 146.3h2v2h-2zM390.1 132.2h2v2h-2zM393.5 130.1h2v2h-2zM399.0 130.1h2v2h-2zM404.5 130.1h2v2h-2zM409.2 133.5h2v2h-2zM411.3 134.9h2v2h-2zM412.6 137.0h2v2h-2zM408.6 139.0h2v2h-2zM409.9 142.4h2v2h-2zM404.5 147.9h2v2h-2zM394.2 156.7h2v2h-2zM386.7 158.8h2v2h-2zM392.2 157.4h2v2h-2zM340.7 153.4h2v2h-2zM348.6 150.0h2v2h-2zM353.2 153.4h2v2h-2zM361.1 153.4h2v2h-2zM357.7 162.5h2v2h-2zM362.3 169.3h2v2h-2zM389.5 130.6h2v2h-2zM394.1 137.5h2v2h-2zM407.7 134.0h2v2h-2z"/>
<line x1="336.40" y1="173.00" x2="421.60" y2="129.40" stroke="#e8606a" stroke-width="0.8" stroke-opacity="0.85"/>
<rect x="336.40" y="119.20" width="85.20" height="67.60" fill="none" stroke="#9a9a9a" stroke-width="1.1"/>
<path d="M336.40 186.80v1.2M335.20 186.80h1.2M343.50 186.80v1.2M335.20 181.17h1.2M350.60 186.80v1.2M335.20 175.53h1.2M357.70 186.80v1.2M335.20 169.90h1.2M364.80 186.80v1.2M335.20 164.27h1.2M371.90 186.80v1.2M335.20 158.63h1.2M379.00 186.80v1.2M335.20 153.00h1.2M386.10 186.80v1.2M335.20 147.37h1.2M393.20 186.80v1.2M335.20 141.73h1.2M400.30 186.80v1.2M335.20 136.10h1.2M407.40 186.80v1.2M335.20 130.47h1.2M414.50 186.80v1.2M335.20 124.83h1.2M421.60 186.80v1.2M335.20 119.20h1.2" stroke="#999" stroke-width="0.5" fill="none"/>
<text x="339.70" y="125.40" font-size="5.1" fill="#111" font-weight="bold" textLength="19.70" lengthAdjust="spacingAndGlyphs" stroke="#111" stroke-width="0.35">House Q</text>
<text x="370.40" y="173.40" font-size="6.3" fill="#303030" stroke="#303030" stroke-width="0.22" textLength="45.10" lengthAdjust="spacingAndGlyphs">Q = 125 kJ/m<tspan font-size="3.91" dy="-2.4">3</tspan><tspan dy="2.4">K</tspan></text>
<text x="373.50" y="179.30" font-size="5.3" fill="#1e1e1e" stroke="#1e1e1e" stroke-width="0.28" font-weight="bold" textLength="25.50" lengthAdjust="spacingAndGlyphs">R<tspan font-size="3.18" dy="-1.8">2</tspan><tspan dy="1.8"> = 0.7576</tspan></text>
<text x="0" y="0" font-size="6.3" fill="#6e6e6e" text-anchor="middle" transform="translate(429.97,152.80) rotate(-90)" textLength="42" lengthAdjust="spacingAndGlyphs">Indoor AH [g/kg]</text>
<text x="483.40" y="201.50" font-size="5.8" fill="#6e6e6e" text-anchor="middle" textLength="45.50" lengthAdjust="spacingAndGlyphs">Outdoor AH [g/kg]</text>
<text x="437.40" y="186.30" font-size="4.8" fill="#383838" text-anchor="end" textLength="4.40" lengthAdjust="spacingAndGlyphs" stroke="#383838" stroke-width="0.15">11</text>
<text x="439.60" y="192.30" font-size="4.8" fill="#383838" text-anchor="middle" textLength="4.40" lengthAdjust="spacingAndGlyphs" stroke="#383838" stroke-width="0.15">11</text>
<text x="437.40" y="175.00" font-size="4.8" fill="#383838" text-anchor="end" textLength="4.40" lengthAdjust="spacingAndGlyphs" stroke="#383838" stroke-width="0.15">13</text>
<text x="453.82" y="192.30" font-size="4.8" fill="#383838" text-anchor="middle" textLength="4.40" lengthAdjust="spacingAndGlyphs" stroke="#383838" stroke-width="0.15">13</text>
<text x="437.40" y="163.70" font-size="4.8" fill="#383838" text-anchor="end" textLength="4.40" lengthAdjust="spacingAndGlyphs" stroke="#383838" stroke-width="0.15">15</text>
<text x="468.03" y="192.30" font-size="4.8" fill="#383838" text-anchor="middle" textLength="4.40" lengthAdjust="spacingAndGlyphs" stroke="#383838" stroke-width="0.15">15</text>
<text x="437.40" y="152.40" font-size="4.8" fill="#383838" text-anchor="end" textLength="4.40" lengthAdjust="spacingAndGlyphs" stroke="#383838" stroke-width="0.15">17</text>
<text x="482.25" y="192.30" font-size="4.8" fill="#383838" text-anchor="middle" textLength="4.40" lengthAdjust="spacingAndGlyphs" stroke="#383838" stroke-width="0.15">17</text>
<text x="437.40" y="141.10" font-size="4.8" fill="#383838" text-anchor="end" textLength="4.40" lengthAdjust="spacingAndGlyphs" stroke="#383838" stroke-width="0.15">19</text>
<text x="496.47" y="192.30" font-size="4.8" fill="#383838" text-anchor="middle" textLength="4.40" lengthAdjust="spacingAndGlyphs" stroke="#383838" stroke-width="0.15">19</text>
<text x="437.40" y="129.80" font-size="4.8" fill="#383838" text-anchor="end" textLength="4.40" lengthAdjust="spacingAndGlyphs" stroke="#383838" stroke-width="0.15">21</text>
<text x="510.68" y="192.30" font-size="4.8" fill="#383838" text-anchor="middle" textLength="4.40" lengthAdjust="spacingAndGlyphs" stroke="#383838" stroke-width="0.15">21</text>
<text x="437.40" y="118.50" font-size="4.8" fill="#383838" text-anchor="end" textLength="4.40" lengthAdjust="spacingAndGlyphs" stroke="#383838" stroke-width="0.15">23</text>
<text x="524.90" y="192.30" font-size="4.8" fill="#383838" text-anchor="middle" textLength="4.40" lengthAdjust="spacingAndGlyphs" stroke="#383838" stroke-width="0.15">23</text>
<line x1="439.60" y1="185.40" x2="524.90" y2="117.60" stroke="#bdbdbd" stroke-width="0.7"/>
<path fill="#0d0d86" d="M490.9 134.3h2v2h-2zM486.0 148.3h2v2h-2zM490.9 141.5h2v2h-2zM495.9 142.7h2v2h-2zM489.9 144.9h2v2h-2zM490.4 148.6h2v2h-2zM480.8 149.7h2v2h-2zM500.8 127.7h2v2h-2zM497.0 136.7h2v2h-2zM488.7 148.0h2v2h-2zM499.0 141.5h2v2h-2zM493.0 138.9h2v2h-2zM485.0 145.9h2v2h-2zM478.9 152.9h2v2h-2zM495.4 135.8h2v2h-2zM503.5 133.3h2v2h-2zM508.7 128.9h2v2h-2zM480.8 152.3h2v2h-2zM494.3 134.4h2v2h-2zM509.7 131.9h2v2h-2zM490.3 136.0h2v2h-2zM490.2 140.5h2v2h-2zM494.6 140.0h2v2h-2zM485.2 149.9h2v2h-2zM504.8 132.8h2v2h-2zM488.3 151.2h2v2h-2zM511.4 128.0h2v2h-2zM493.6 135.9h2v2h-2zM502.7 134.5h2v2h-2zM480.4 149.2h2v2h-2zM495.3 140.9h2v2h-2zM488.5 136.5h2v2h-2zM485.3 142.1h2v2h-2zM486.9 147.2h2v2h-2zM501.3 139.8h2v2h-2zM492.1 136.2h2v2h-2zM478.7 154.2h2v2h-2zM510.0 128.5h2v2h-2zM479.2 156.1h2v2h-2zM504.8 134.6h2v2h-2zM502.4 135.1h2v2h-2zM491.4 137.5h2v2h-2zM476.1 154.4h2v2h-2zM489.3 139.2h2v2h-2zM493.8 134.7h2v2h-2zM491.3 143.1h2v2h-2zM500.0 133.6h2v2h-2zM505.7 128.9h2v2h-2zM494.5 142.1h2v2h-2zM485.3 136.9h2v2h-2zM487.4 139.2h2v2h-2zM507.9 129.0h2v2h-2zM512.8 126.2h2v2h-2zM486.3 141.9h2v2h-2zM469.7 156.2h2v2h-2zM476.4 152.5h2v2h-2zM494.2 144.5h2v2h-2zM481.0 150.0h2v2h-2zM498.9 134.8h2v2h-2zM481.3 148.3h2v2h-2zM483.8 142.1h2v2h-2zM490.8 137.1h2v2h-2zM492.4 143.5h2v2h-2zM476.2 151.1h2v2h-2zM482.2 144.8h2v2h-2zM490.3 147.3h2v2h-2zM489.8 145.3h2v2h-2zM502.2 131.4h2v2h-2zM495.2 136.0h2v2h-2zM482.9 146.4h2v2h-2zM490.3 136.3h2v2h-2zM497.1 133.0h2v2h-2zM495.2 138.7h2v2h-2zM506.5 130.7h2v2h-2zM491.8 147.7h2v2h-2zM502.2 139.4h2v2h-2zM495.7 139.4h2v2h-2zM493.6 138.9h2v2h-2zM484.4 142.3h2v2h-2zM481.4 153.7h2v2h-2zM499.0 139.2h2v2h-2zM487.1 144.7h2v2h-2zM493.4 144.3h2v2h-2zM484.1 148.5h2v2h-2zM476.6 156.7h2v2h-2zM477.0 154.5h2v2h-2zM493.1 144.7h2v2h-2zM498.8 141.5h2v2h-2zM499.1 131.2h2v2h-2zM483.8 146.2h2v2h-2zM491.2 143.4h2v2h-2zM489.5 146.8h2v2h-2zM484.1 145.8h2v2h-2zM497.9 135.2h2v2h-2zM474.7 156.1h2v2h-2zM489.3 140.9h2v2h-2zM492.8 137.6h2v2h-2zM508.5 127.6h2v2h-2zM490.9 137.4h2v2h-2zM504.1 128.7h2v2h-2zM471.9 156.9h2v2h-2zM478.6 155.9h2v2h-2zM485.3 143.9h2v2h-2zM509.3 128.0h2v2h-2zM486.6 148.3h2v2h-2zM479.3 155.1h2v2h-2zM504.4 134.1h2v2h-2zM493.8 141.2h2v2h-2zM472.5 156.1h2v2h-2zM476.8 153.4h2v2h-2zM477.5 149.2h2v2h-2zM501.0 131.7h2v2h-2zM479.7 149.0h2v2h-2zM490.3 139.9h2v2h-2zM483.1 150.7h2v2h-2zM478.5 154.2h2v2h-2zM499.3 136.6h2v2h-2zM496.8 142.8h2v2h-2zM492.7 134.7h2v2h-2zM504.4 132.7h2v2h-2zM485.0 139.6h2v2h-2zM496.6 132.5h2v2h-2zM497.8 139.6h2v2h-2zM472.1 155.0h2v2h-2zM479.5 150.6h2v2h-2zM503.6 135.6h2v2h-2zM501.9 137.1h2v2h-2zM492.7 144.1h2v2h-2zM503.4 133.5h2v2h-2zM514.5 125.4h2v2h-2zM500.5 131.6h2v2h-2zM502.3 137.4h2v2h-2zM502.8 129.8h2v2h-2zM502.9 131.5h2v2h-2zM488.0 144.3h2v2h-2zM481.1 152.4h2v2h-2zM491.7 147.0h2v2h-2zM469.4 160.0h2v2h-2zM497.4 141.1h2v2h-2zM507.4 126.3h2v2h-2zM498.4 136.6h2v2h-2zM499.6 133.7h2v2h-2zM504.9 133.6h2v2h-2zM484.4 145.9h2v2h-2zM501.8 135.9h2v2h-2zM494.5 137.7h2v2h-2zM493.8 144.9h2v2h-2zM471.5 155.4h2v2h-2zM496.3 141.6h2v2h-2zM495.6 135.9h2v2h-2zM491.8 138.7h2v2h-2zM485.3 148.1h2v2h-2zM501.7 130.8h2v2h-2zM495.3 137.6h2v2h-2zM510.5 127.9h2v2h-2zM480.9 152.5h2v2h-2zM477.0 154.9h2v2h-2zM483.7 143.5h2v2h-2zM496.5 137.7h2v2h-2zM495.6 139.5h2v2h-2zM496.6 139.6h2v2h-2zM483.8 144.2h2v2h-2zM482.3 144.0h2v2h-2zM473.9 159.7h2v2h-2zM485.7 150.9h2v2h-2zM475.1 158.0h2v2h-2zM485.0 141.7h2v2h-2zM499.8 131.6h2v2h-2zM491.0 135.2h2v2h-2zM496.0 133.2h2v2h-2zM493.3 137.0h2v2h-2zM498.0 140.6h2v2h-2zM501.5 139.3h2v2h-2zM483.1 148.5h2v2h-2zM500.4 134.4h2v2h-2zM479.6 151.8h2v2h-2zM511.0 126.1h2v2h-2zM488.7 145.9h2v2h-2zM489.0 143.1h2v2h-2zM502.8 138.2h2v2h-2zM503.4 134.4h2v2h-2zM476.7 151.9h2v2h-2zM489.0 138.2h2v2h-2zM495.3 130.2h2v2h-2zM489.9 143.6h2v2h-2zM504.2 135.7h2v2h-2zM486.9 140.0h2v2h-2zM512.3 125.3h2v2h-2zM514.7 126.1h2v2h-2zM483.1 142.7h2v2h-2zM486.8 148.1h2v2h-2zM486.8 142.2h2v2h-2zM495.9 131.8h2v2h-2zM496.2 134.3h2v2h-2zM482.0 146.6h2v2h-2zM501.3 132.2h2v2h-2zM491.6 138.1h2v2h-2zM496.6 137.6h2v2h-2zM493.9 144.7h2v2h-2zM501.7 132.5h2v2h-2zM482.6 144.6h2v2h-2zM483.4 137.3h2v2h-2zM497.4 132.8h2v2h-2zM503.5 132.0h2v2h-2zM492.8 140.6h2v2h-2zM491.8 147.6h2v2h-2zM484.8 148.7h2v2h-2zM494.1 142.7h2v2h-2zM494.5 142.8h2v2h-2zM497.2 142.3h2v2h-2zM487.0 141.9h2v2h-2zM481.2 143.7h2v2h-2zM495.8 136.4h2v2h-2zM507.3 130.1h2v2h-2zM485.5 143.1h2v2h-2zM492.1 140.4h2v2h-2zM487.1 138.6h2v2h-2zM481.3 143.8h2v2h-2zM497.3 143.4h2v2h-2zM477.6 153.5h2v2h-2zM476.0 153.8h2v2h-2zM486.5 143.5h2v2h-2zM505.8 133.7h2v2h-2zM487.4 147.5h2v2h-2zM482.8 144.1h2v2h-2zM506.0 137.5h2v2h-2zM514.1 127.3h2v2h-2zM502.9 134.9h2v2h-2zM489.4 141.0h2v2h-2zM477.7 152.8h2v2h-2zM500.6 134.6h2v2h-2zM509.1 128.7h2v2h-2zM506.8 136.4h2v2h-2zM484.9 141.9h2v2h-2zM487.4 150.9h2v2h-2zM486.3 138.5h2v2h-2zM493.3 145.5h2v2h-2zM475.1 156.6h2v2h-2zM493.5 135.2h2v2h-2zM483.2 148.5h2v2h-2zM501.1 132.1h2v2h-2zM494.2 137.8h2v2h-2zM511.1 126.9h2v2h-2zM491.0 141.5h2v2h-2zM488.3 147.2h2v2h-2zM486.9 138.2h2v2h-2zM492.7 141.0h2v2h-2zM517.9 127.7h2v2h-2zM488.1 144.9h2v2h-2zM493.0 143.2h2v2h-2zM504.7 130.9h2v2h-2zM495.4 144.5h2v2h-2zM500.0 133.5h2v2h-2zM491.3 142.3h2v2h-2zM494.6 141.5h2v2h-2zM489.6 137.8h2v2h-2zM480.3 152.7h2v2h-2zM488.6 136.9h2v2h-2zM511.6 128.4h2v2h-2zM497.0 139.1h2v2h-2zM483.9 153.1h2v2h-2zM495.7 142.1h2v2h-2zM500.1 132.3h2v2h-2zM480.9 151.0h2v2h-2zM489.8 137.9h2v2h-2zM488.9 147.5h2v2h-2zM491.6 136.8h2v2h-2zM497.9 140.1h2v2h-2zM512.9 126.3h2v2h-2zM484.8 143.6h2v2h-2zM478.6 150.8h2v2h-2zM504.2 131.5h2v2h-2zM493.9 142.3h2v2h-2zM494.2 132.5h2v2h-2zM481.7 140.3h2v2h-2zM480.2 154.7h2v2h-2zM496.7 134.7h2v2h-2zM478.3 155.3h2v2h-2zM512.7 126.8h2v2h-2zM491.1 145.7h2v2h-2zM499.5 137.8h2v2h-2zM478.4 154.2h2v2h-2zM509.0 127.8h2v2h-2zM489.6 149.8h2v2h-2zM470.5 156.5h2v2h-2zM486.4 146.6h2v2h-2zM503.9 128.4h2v2h-2zM488.1 137.2h2v2h-2zM479.1 152.7h2v2h-2zM480.4 153.3h2v2h-2zM492.6 142.4h2v2h-2zM508.1 130.7h2v2h-2zM492.3 142.4h2v2h-2zM495.0 142.1h2v2h-2zM490.8 145.2h2v2h-2zM497.9 141.3h2v2h-2zM491.6 140.8h2v2h-2zM491.5 137.2h2v2h-2zM488.9 141.3h2v2h-2zM496.5 142.9h2v2h-2zM487.2 147.8h2v2h-2zM494.3 140.1h2v2h-2zM490.2 142.7h2v2h-2zM484.7 142.2h2v2h-2zM473.1 159.5h2v2h-2zM482.1 146.5h2v2h-2zM497.6 140.3h2v2h-2zM492.1 144.7h2v2h-2zM496.9 140.4h2v2h-2zM485.2 151.0h2v2h-2zM495.7 143.8h2v2h-2zM475.4 155.9h2v2h-2zM484.9 149.9h2v2h-2zM496.5 137.8h2v2h-2zM484.8 149.6h2v2h-2zM496.3 144.4h2v2h-2zM490.3 137.9h2v2h-2zM493.2 144.6h2v2h-2zM497.3 131.5h2v2h-2zM484.8 149.4h2v2h-2zM493.5 144.6h2v2h-2zM490.3 141.7h2v2h-2zM495.8 136.0h2v2h-2zM490.5 144.1h2v2h-2zM488.2 149.8h2v2h-2zM508.4 128.8h2v2h-2zM495.8 131.2h2v2h-2zM491.5 145.5h2v2h-2zM503.1 138.1h2v2h-2zM502.9 135.5h2v2h-2zM485.1 146.8h2v2h-2zM474.7 153.8h2v2h-2zM490.5 149.1h2v2h-2zM478.4 153.1h2v2h-2zM494.0 132.7h2v2h-2zM509.0 133.0h2v2h-2zM482.3 145.1h2v2h-2zM505.3 128.6h2v2h-2zM488.9 143.6h2v2h-2zM490.2 142.1h2v2h-2zM499.0 140.9h2v2h-2zM480.5 151.4h2v2h-2zM491.7 144.4h2v2h-2zM500.7 137.7h2v2h-2zM502.7 130.9h2v2h-2zM491.3 139.9h2v2h-2zM491.3 148.2h2v2h-2zM496.3 143.5h2v2h-2zM495.2 132.7h2v2h-2zM501.9 138.0h2v2h-2zM481.2 149.7h2v2h-2zM492.4 137.5h2v2h-2zM491.9 137.2h2v2h-2zM478.5 149.6h2v2h-2zM485.5 149.9h2v2h-2zM473.5 156.7h2v2h-2zM494.8 134.0h2v2h-2zM501.9 138.3h2v2h-2zM505.4 126.9h2v2h-2zM489.7 137.8h2v2h-2zM490.2 145.9h2v2h-2zM514.0 126.3h2v2h-2zM502.4 132.7h2v2h-2zM509.2 133.1h2v2h-2zM489.3 149.2h2v2h-2zM498.4 136.4h2v2h-2zM502.6 130.1h2v2h-2zM483.6 148.0h2v2h-2zM504.7 134.4h2v2h-2zM508.7 131.8h2v2h-2zM491.3 139.6h2v2h-2zM493.5 141.3h2v2h-2zM500.5 134.0h2v2h-2zM487.9 139.4h2v2h-2zM507.0 133.2h2v2h-2zM489.7 141.8h2v2h-2zM483.3 145.7h2v2h-2zM503.9 134.5h2v2h-2zM503.0 136.2h2v2h-2zM486.4 150.3h2v2h-2zM488.5 136.9h2v2h-2zM477.2 153.6h2v2h-2zM499.0 134.0h2v2h-2zM468.8 161.7h2v2h-2zM486.7 148.0h2v2h-2zM482.5 150.2h2v2h-2zM492.4 146.2h2v2h-2zM494.2 135.4h2v2h-2zM495.0 136.9h2v2h-2zM483.9 147.7h2v2h-2zM505.4 134.0h2v2h-2zM493.8 139.7h2v2h-2zM482.1 145.8h2v2h-2zM480.5 154.3h2v2h-2zM493.7 140.0h2v2h-2zM493.0 143.8h2v2h-2zM503.6 133.0h2v2h-2zM477.1 152.2h2v2h-2zM478.6 150.0h2v2h-2zM500.6 128.7h2v2h-2zM490.8 144.0h2v2h-2zM498.3 137.6h2v2h-2zM486.4 141.4h2v2h-2zM495.7 136.6h2v2h-2zM495.5 132.2h2v2h-2zM503.0 135.5h2v2h-2zM492.5 144.2h2v2h-2zM494.7 135.7h2v2h-2zM490.7 140.5h2v2h-2zM503.4 135.2h2v2h-2zM480.6 147.8h2v2h-2zM509.0 129.6h2v2h-2zM479.6 152.9h2v2h-2zM485.2 143.6h2v2h-2zM479.6 145.0h2v2h-2zM518.0 126.8h2v2h-2zM484.7 144.6h2v2h-2zM499.0 133.8h2v2h-2zM486.4 152.3h2v2h-2zM507.0 128.7h2v2h-2zM480.2 146.8h2v2h-2zM490.6 147.5h2v2h-2zM482.0 153.0h2v2h-2zM489.1 146.1h2v2h-2zM490.0 145.8h2v2h-2zM503.1 135.3h2v2h-2zM491.3 147.3h2v2h-2zM507.9 127.8h2v2h-2zM503.9 134.4h2v2h-2zM488.2 141.7h2v2h-2zM513.3 130.0h2v2h-2zM496.1 131.3h2v2h-2zM509.8 130.7h2v2h-2zM499.5 138.2h2v2h-2zM492.6 138.7h2v2h-2zM513.5 127.2h2v2h-2zM488.0 138.0h2v2h-2zM491.4 146.5h2v2h-2zM511.7 126.5h2v2h-2zM488.4 146.6h2v2h-2zM492.7 142.3h2v2h-2zM489.0 146.6h2v2h-2zM515.5 125.6h2v2h-2zM498.2 134.7h2v2h-2zM469.5 157.0h2v2h-2zM503.4 136.1h2v2h-2zM513.6 129.2h2v2h-2zM497.2 132.8h2v2h-2zM481.7 154.3h2v2h-2zM477.4 153.1h2v2h-2zM489.2 147.3h2v2h-2zM518.5 128.0h2v2h-2zM504.7 130.8h2v2h-2zM492.3 140.0h2v2h-2zM509.0 132.8h2v2h-2zM492.4 137.4h2v2h-2zM501.1 134.7h2v2h-2zM499.1 139.5h2v2h-2zM502.9 131.2h2v2h-2zM506.5 129.2h2v2h-2zM504.3 133.0h2v2h-2zM491.2 142.1h2v2h-2zM493.5 136.4h2v2h-2zM500.8 130.9h2v2h-2zM479.2 147.2h2v2h-2zM481.0 152.4h2v2h-2zM499.6 129.6h2v2h-2zM495.1 141.3h2v2h-2zM492.5 139.8h2v2h-2zM486.3 138.8h2v2h-2zM506.1 128.8h2v2h-2zM487.5 149.7h2v2h-2zM499.1 131.7h2v2h-2zM478.4 146.8h2v2h-2zM493.1 143.5h2v2h-2zM478.9 149.5h2v2h-2zM487.1 149.4h2v2h-2zM489.1 137.9h2v2h-2zM478.7 149.8h2v2h-2zM509.6 127.3h2v2h-2zM501.1 135.3h2v2h-2zM499.5 135.9h2v2h-2zM487.9 137.7h2v2h-2zM481.4 153.2h2v2h-2zM488.1 147.9h2v2h-2zM485.8 145.8h2v2h-2zM487.7 147.2h2v2h-2zM509.6 129.3h2v2h-2zM485.8 146.0h2v2h-2zM513.5 128.7h2v2h-2zM504.1 133.8h2v2h-2zM479.9 153.4h2v2h-2zM488.3 145.4h2v2h-2zM477.9 151.7h2v2h-2zM475.1 156.0h2v2h-2zM483.9 148.5h2v2h-2zM486.5 139.2h2v2h-2zM494.4 146.5h2v2h-2zM484.3 143.9h2v2h-2zM487.4 148.2h2v2h-2zM509.5 131.5h2v2h-2zM513.1 125.9h2v2h-2zM512.5 124.9h2v2h-2zM490.0 136.7h2v2h-2zM477.8 154.3h2v2h-2zM493.6 138.7h2v2h-2zM505.6 127.9h2v2h-2zM497.5 141.0h2v2h-2zM501.3 135.3h2v2h-2zM489.2 145.3h2v2h-2zM502.1 129.0h2v2h-2zM479.3 148.2h2v2h-2zM496.1 142.4h2v2h-2zM491.0 136.9h2v2h-2zM477.9 151.1h2v2h-2zM482.2 146.3h2v2h-2zM476.8 150.2h2v2h-2zM494.6 136.1h2v2h-2zM481.7 147.4h2v2h-2zM509.2 127.8h2v2h-2zM496.7 134.3h2v2h-2zM477.9 151.5h2v2h-2zM486.9 150.3h2v2h-2zM492.0 133.5h2v2h-2zM498.1 133.3h2v2h-2zM484.4 143.6h2v2h-2zM495.2 135.8h2v2h-2zM497.3 139.2h2v2h-2zM489.7 141.1h2v2h-2zM495.5 143.9h2v2h-2zM491.3 135.2h2v2h-2zM494.6 143.1h2v2h-2zM486.3 138.2h2v2h-2zM498.6 134.6h2v2h-2zM512.1 127.4h2v2h-2zM476.8 153.1h2v2h-2zM483.9 147.4h2v2h-2zM471.1 160.9h2v2h-2zM491.7 138.4h2v2h-2zM509.1 128.7h2v2h-2zM473.8 154.4h2v2h-2zM482.2 144.6h2v2h-2zM503.5 134.1h2v2h-2zM477.4 149.4h2v2h-2zM470.9 157.8h2v2h-2zM488.1 145.7h2v2h-2zM492.3 137.6h2v2h-2zM499.2 132.9h2v2h-2zM486.4 149.9h2v2h-2zM498.5 133.9h2v2h-2zM475.4 155.4h2v2h-2zM492.2 140.5h2v2h-2zM478.4 149.7h2v2h-2zM489.0 144.3h2v2h-2zM505.9 128.4h2v2h-2zM499.5 138.2h2v2h-2zM490.2 143.9h2v2h-2zM494.4 134.8h2v2h-2zM498.1 139.8h2v2h-2zM457.2 150.2h2v2h-2zM464.4 150.2h2v2h-2zM455.3 155.4h2v2h-2zM461.1 165.2h2v2h-2zM463.7 167.1h2v2h-2zM465.0 170.4h2v2h-2zM463.1 172.3h2v2h-2zM467.0 161.3h2v2h-2zM481.9 161.9h2v2h-2zM475.4 149.6h2v2h-2zM500.0 125.9h2v2h-2zM512.9 121.1h2v2h-2zM507.5 145.0h2v2h-2zM500.6 145.6h2v2h-2zM500.0 149.1h2v2h-2zM495.2 153.2h2v2h-2zM489.0 155.9h2v2h-2zM484.6 118.7h2v2h-2zM485.7 126.2h2v2h-2zM499.4 125.1h2v2h-2zM444.4 158.5h2v2h-2zM452.8 155.1h2v2h-2zM457.3 150.1h2v2h-2zM465.3 150.1h2v2h-2zM460.7 163.7h2v2h-2zM465.3 169.4h2v2h-2zM498.2 162.6h2v2h-2z"/>
<line x1="439.60" y1="170.50" x2="524.90" y2="128.20" stroke="#e8606a" stroke-width="0.8" stroke-opacity="0.85"/>
<rect x="439.60" y="117.60" width="85.30" height="67.80" fill="none" stroke="#9a9a9a" stroke-width="1.1"/>
<path d="M439.60 185.40v1.2M438.40 185.40h1.2M446.71 185.40v1.2M438.40 179.75h1.2M453.82 185.40v1.2M438.40 174.10h1.2M460.93 185.40v1.2M438.40 168.45h1.2M468.03 185.40v1.2M438.40 162.80h1.2M475.14 185.40v1.2M438.40 157.15h1.2M482.25 185.40v1.2M438.40 151.50h1.2M489.36 185.40v1.2M438.40 145.85h1.2M496.47 185.40v1.2M438.40 140.20h1.2M503.57 185.40v1.2M438.40 134.55h1.2M510.68 185.40v1.2M438.40 128.90h1.2M517.79 185.40v1.2M438.40 123.25h1.2M524.90 185.40v1.2M438.40 117.60h1.2" stroke="#999" stroke-width="0.5" fill="none"/>
<text x="442.80" y="123.80" font-size="5.1" fill="#111" font-weight="bold" textLength="18.00" lengthAdjust="spacingAndGlyphs" stroke="#111" stroke-width="0.35">House F</text>
<text x="465.80" y="180.60" font-size="6.3" fill="#303030" stroke="#303030" stroke-width="0.22" textLength="49.00" lengthAdjust="spacingAndGlyphs">Q = 120.1 kJ/m<tspan font-size="3.91" dy="-2.4">3</tspan><tspan dy="2.4">K</tspan></text>
<text x="478.50" y="173.40" font-size="5.3" fill="#1e1e1e" stroke="#1e1e1e" stroke-width="0.28" font-weight="bold" textLength="25.50" lengthAdjust="spacingAndGlyphs">R<tspan font-size="3.18" dy="-1.8">2</tspan><tspan dy="1.8"> = 0.8571</tspan></text>
<text x="0" y="0" font-size="6.3" fill="#6e6e6e" text-anchor="middle" transform="translate(7.27,240.50) rotate(-90)" textLength="42" lengthAdjust="spacingAndGlyphs">Indoor AH [g/kg]</text>
<text x="61.00" y="292.10" font-size="5.8" fill="#6e6e6e" text-anchor="middle" textLength="45.50" lengthAdjust="spacingAndGlyphs">Outdoor AH [g/kg]</text>
<text x="19.60" y="277.00" font-size="4.8" fill="#383838" text-anchor="end" textLength="4.40" lengthAdjust="spacingAndGlyphs" stroke="#383838" stroke-width="0.15">11</text>
<text x="21.80" y="283.00" font-size="4.8" fill="#383838" text-anchor="middle" textLength="4.40" lengthAdjust="spacingAndGlyphs" stroke="#383838" stroke-width="0.15">11</text>
<text x="19.60" y="265.70" font-size="4.8" fill="#383838" text-anchor="end" textLength="4.40" lengthAdjust="spacingAndGlyphs" stroke="#383838" stroke-width="0.15">13</text>
<text x="35.90" y="283.00" font-size="4.8" fill="#383838" text-anchor="middle" textLength="4.40" lengthAdjust="spacingAndGlyphs" stroke="#383838" stroke-width="0.15">13</text>
<text x="19.60" y="254.40" font-size="4.8" fill="#383838" text-anchor="end" textLength="4.40" lengthAdjust="spacingAndGlyphs" stroke="#383838" stroke-width="0.15">15</text>
<text x="50.00" y="283.00" font-size="4.8" fill="#383838" text-anchor="middle" textLength="4.40" lengthAdjust="spacingAndGlyphs" stroke="#383838" stroke-width="0.15">15</text>
<text x="19.60" y="243.10" font-size="4.8" fill="#383838" text-anchor="end" textLength="4.40" lengthAdjust="spacingAndGlyphs" stroke="#383838" stroke-width="0.15">17</text>
<text x="64.10" y="283.00" font-size="4.8" fill="#383838" text-anchor="middle" textLength="4.40" lengthAdjust="spacingAndGlyphs" stroke="#383838" stroke-width="0.15">17</text>
<text x="19.60" y="231.80" font-size="4.8" fill="#383838" text-anchor="end" textLength="4.40" lengthAdjust="spacingAndGlyphs" stroke="#383838" stroke-width="0.15">19</text>
<text x="78.20" y="283.00" font-size="4.8" fill="#383838" text-anchor="middle" textLength="4.40" lengthAdjust="spacingAndGlyphs" stroke="#383838" stroke-width="0.15">19</text>
<text x="19.60" y="220.50" font-size="4.8" fill="#383838" text-anchor="end" textLength="4.40" lengthAdjust="spacingAndGlyphs" stroke="#383838" stroke-width="0.15">21</text>
<text x="92.30" y="283.00" font-size="4.8" fill="#383838" text-anchor="middle" textLength="4.40" lengthAdjust="spacingAndGlyphs" stroke="#383838" stroke-width="0.15">21</text>
<text x="19.60" y="209.20" font-size="4.8" fill="#383838" text-anchor="end" textLength="4.40" lengthAdjust="spacingAndGlyphs" stroke="#383838" stroke-width="0.15">23</text>
<text x="106.40" y="283.00" font-size="4.8" fill="#383838" text-anchor="middle" textLength="4.40" lengthAdjust="spacingAndGlyphs" stroke="#383838" stroke-width="0.15">23</text>
<line x1="21.80" y1="276.10" x2="106.40" y2="208.30" stroke="#bdbdbd" stroke-width="0.7"/>
<path fill="#0d0d86" d="M98.5 224.0h2v2h-2zM79.5 235.1h2v2h-2zM60.6 239.9h2v2h-2zM81.0 231.0h2v2h-2zM75.4 230.1h2v2h-2zM71.1 239.6h2v2h-2zM59.7 240.2h2v2h-2zM68.3 238.6h2v2h-2zM76.1 234.1h2v2h-2zM65.9 235.1h2v2h-2zM84.9 226.2h2v2h-2zM73.3 223.9h2v2h-2zM96.8 226.2h2v2h-2zM70.8 233.4h2v2h-2zM94.2 226.4h2v2h-2zM74.5 230.6h2v2h-2zM87.6 224.7h2v2h-2zM83.2 229.1h2v2h-2zM81.9 223.6h2v2h-2zM79.1 232.7h2v2h-2zM89.1 223.4h2v2h-2zM70.6 234.8h2v2h-2zM81.1 228.5h2v2h-2zM79.6 230.5h2v2h-2zM64.9 237.7h2v2h-2zM66.8 235.9h2v2h-2zM77.7 224.9h2v2h-2zM83.2 224.0h2v2h-2zM76.5 222.9h2v2h-2zM82.9 225.9h2v2h-2zM73.7 234.4h2v2h-2zM94.1 223.6h2v2h-2zM59.0 240.0h2v2h-2zM65.6 231.0h2v2h-2zM75.7 236.6h2v2h-2zM83.6 229.0h2v2h-2zM93.8 223.6h2v2h-2zM83.1 223.2h2v2h-2zM61.2 238.2h2v2h-2zM71.2 231.7h2v2h-2zM87.3 228.0h2v2h-2zM59.0 237.3h2v2h-2zM78.4 222.8h2v2h-2zM61.7 238.0h2v2h-2zM77.0 223.8h2v2h-2zM78.6 224.7h2v2h-2zM72.0 226.8h2v2h-2zM86.8 228.9h2v2h-2zM70.4 236.0h2v2h-2zM86.7 225.2h2v2h-2zM77.8 230.0h2v2h-2zM90.6 227.8h2v2h-2zM70.0 232.0h2v2h-2zM75.9 228.1h2v2h-2zM83.8 227.6h2v2h-2zM74.4 227.4h2v2h-2zM79.6 225.3h2v2h-2zM77.4 226.2h2v2h-2zM74.3 235.0h2v2h-2zM57.2 244.1h2v2h-2zM71.8 228.8h2v2h-2zM69.9 237.2h2v2h-2zM79.9 231.1h2v2h-2zM98.4 223.7h2v2h-2zM67.2 236.4h2v2h-2zM66.7 235.6h2v2h-2zM72.5 231.7h2v2h-2zM82.9 229.3h2v2h-2zM74.5 230.5h2v2h-2zM76.6 230.1h2v2h-2zM71.9 230.1h2v2h-2zM57.9 241.4h2v2h-2zM88.8 231.8h2v2h-2zM78.6 220.5h2v2h-2zM80.5 225.0h2v2h-2zM65.7 239.8h2v2h-2zM81.7 233.2h2v2h-2zM98.1 223.6h2v2h-2zM77.9 224.9h2v2h-2zM60.7 239.6h2v2h-2zM64.2 232.8h2v2h-2zM81.7 224.9h2v2h-2zM67.0 229.7h2v2h-2zM75.8 222.3h2v2h-2zM73.0 232.6h2v2h-2zM57.0 234.5h2v2h-2zM73.9 235.7h2v2h-2zM75.5 231.2h2v2h-2zM57.3 238.1h2v2h-2zM78.1 225.2h2v2h-2zM68.4 231.9h2v2h-2zM93.3 223.8h2v2h-2zM81.0 229.8h2v2h-2zM66.0 232.7h2v2h-2zM70.3 231.3h2v2h-2zM66.6 240.1h2v2h-2zM71.1 228.4h2v2h-2zM82.6 223.4h2v2h-2zM65.1 232.2h2v2h-2zM63.3 238.0h2v2h-2zM77.9 228.4h2v2h-2zM67.2 233.8h2v2h-2zM77.2 228.9h2v2h-2zM78.7 224.4h2v2h-2zM67.2 236.3h2v2h-2zM82.8 231.1h2v2h-2zM59.3 240.9h2v2h-2zM73.7 234.7h2v2h-2zM86.1 227.9h2v2h-2zM76.8 230.6h2v2h-2zM77.7 230.5h2v2h-2zM79.7 228.9h2v2h-2zM77.3 225.5h2v2h-2zM66.2 237.2h2v2h-2zM92.5 223.3h2v2h-2zM68.8 238.0h2v2h-2zM79.4 228.1h2v2h-2zM76.3 223.7h2v2h-2zM71.2 229.7h2v2h-2zM75.0 233.7h2v2h-2zM89.4 225.3h2v2h-2zM79.9 227.7h2v2h-2zM71.8 236.5h2v2h-2zM66.5 237.7h2v2h-2zM66.7 238.6h2v2h-2zM61.8 240.3h2v2h-2zM72.5 233.7h2v2h-2zM77.5 230.5h2v2h-2zM69.1 229.7h2v2h-2zM68.6 237.2h2v2h-2zM71.7 236.1h2v2h-2zM67.6 231.4h2v2h-2zM92.5 226.0h2v2h-2zM79.3 233.5h2v2h-2zM66.5 240.8h2v2h-2zM63.6 241.9h2v2h-2zM75.0 225.3h2v2h-2zM77.6 232.0h2v2h-2zM82.7 226.9h2v2h-2zM82.8 230.8h2v2h-2zM86.1 229.8h2v2h-2zM76.3 227.4h2v2h-2zM68.7 234.9h2v2h-2zM66.8 234.2h2v2h-2zM69.0 233.3h2v2h-2zM81.4 229.5h2v2h-2zM58.9 239.3h2v2h-2zM81.4 225.3h2v2h-2zM92.5 228.0h2v2h-2zM76.8 232.0h2v2h-2zM72.8 228.8h2v2h-2zM76.2 225.4h2v2h-2zM86.2 225.1h2v2h-2zM70.3 234.6h2v2h-2zM64.1 235.0h2v2h-2zM63.8 241.0h2v2h-2zM83.7 223.3h2v2h-2zM63.8 230.6h2v2h-2zM64.9 239.4h2v2h-2zM63.7 241.8h2v2h-2zM52.8 239.4h2v2h-2zM65.1 233.4h2v2h-2zM79.0 231.9h2v2h-2zM90.5 226.2h2v2h-2zM67.5 227.7h2v2h-2zM59.1 239.0h2v2h-2zM85.8 227.9h2v2h-2zM82.8 229.0h2v2h-2zM66.9 238.6h2v2h-2zM60.9 239.5h2v2h-2zM67.5 230.9h2v2h-2zM65.2 237.2h2v2h-2zM70.3 237.6h2v2h-2zM66.3 241.7h2v2h-2zM72.4 235.1h2v2h-2zM60.5 237.9h2v2h-2zM69.6 233.1h2v2h-2zM69.7 238.0h2v2h-2zM81.9 226.1h2v2h-2zM86.4 228.4h2v2h-2zM81.0 225.6h2v2h-2zM73.4 228.8h2v2h-2zM65.7 230.7h2v2h-2zM73.7 228.7h2v2h-2zM77.0 231.7h2v2h-2zM88.4 227.7h2v2h-2zM75.1 229.1h2v2h-2zM66.8 234.1h2v2h-2zM85.8 228.0h2v2h-2zM85.9 228.0h2v2h-2zM80.8 225.4h2v2h-2zM65.1 235.3h2v2h-2zM90.2 226.1h2v2h-2zM73.3 230.3h2v2h-2zM91.7 224.8h2v2h-2zM75.0 227.3h2v2h-2zM83.6 225.9h2v2h-2zM64.1 236.7h2v2h-2zM65.0 240.3h2v2h-2zM70.0 233.8h2v2h-2zM64.6 237.4h2v2h-2zM67.5 236.8h2v2h-2zM78.5 230.1h2v2h-2zM72.0 228.9h2v2h-2zM86.3 228.1h2v2h-2zM73.6 235.7h2v2h-2zM66.8 231.0h2v2h-2zM79.2 227.9h2v2h-2zM65.4 240.0h2v2h-2zM64.4 232.7h2v2h-2zM68.9 236.8h2v2h-2zM64.5 237.5h2v2h-2zM70.7 238.4h2v2h-2zM81.5 229.6h2v2h-2zM84.0 229.8h2v2h-2zM91.3 225.1h2v2h-2zM79.0 233.8h2v2h-2zM70.2 228.3h2v2h-2zM76.7 224.0h2v2h-2zM70.5 231.3h2v2h-2zM68.4 239.2h2v2h-2zM68.3 233.3h2v2h-2zM98.1 223.1h2v2h-2zM83.5 224.6h2v2h-2zM73.9 236.9h2v2h-2zM68.2 231.7h2v2h-2zM81.5 223.8h2v2h-2zM84.4 222.4h2v2h-2zM61.5 238.1h2v2h-2zM65.5 235.2h2v2h-2zM64.8 236.3h2v2h-2zM67.0 239.3h2v2h-2zM77.5 234.6h2v2h-2zM70.5 229.5h2v2h-2zM77.4 229.4h2v2h-2zM71.8 234.9h2v2h-2zM69.1 233.1h2v2h-2zM73.2 230.4h2v2h-2zM74.2 227.7h2v2h-2zM84.4 227.4h2v2h-2zM89.3 224.7h2v2h-2zM60.4 240.8h2v2h-2zM72.1 235.5h2v2h-2zM82.4 224.7h2v2h-2zM90.4 226.8h2v2h-2zM82.0 226.0h2v2h-2zM66.9 235.5h2v2h-2zM55.8 243.9h2v2h-2zM87.5 227.5h2v2h-2zM63.3 239.3h2v2h-2zM76.2 235.6h2v2h-2zM74.6 238.5h2v2h-2zM59.3 240.2h2v2h-2zM69.9 237.4h2v2h-2zM74.6 235.9h2v2h-2zM83.8 228.0h2v2h-2zM65.8 237.4h2v2h-2zM66.3 238.1h2v2h-2zM73.9 226.1h2v2h-2zM70.7 230.5h2v2h-2zM78.2 233.5h2v2h-2zM76.6 222.7h2v2h-2zM101.2 222.7h2v2h-2zM87.3 225.2h2v2h-2zM97.0 223.3h2v2h-2zM85.8 229.6h2v2h-2zM77.0 230.1h2v2h-2zM91.0 226.3h2v2h-2zM75.6 234.9h2v2h-2zM72.1 232.1h2v2h-2zM90.9 223.8h2v2h-2zM77.5 226.3h2v2h-2zM87.3 228.8h2v2h-2zM87.2 221.9h2v2h-2zM79.7 223.7h2v2h-2zM60.9 241.7h2v2h-2zM80.2 233.4h2v2h-2zM58.7 242.6h2v2h-2zM79.9 232.6h2v2h-2zM67.2 234.9h2v2h-2zM57.1 240.7h2v2h-2zM80.5 229.9h2v2h-2zM70.7 230.4h2v2h-2zM74.5 239.5h2v2h-2zM70.7 234.2h2v2h-2zM53.6 241.6h2v2h-2zM58.9 242.9h2v2h-2zM69.4 230.6h2v2h-2zM76.8 234.5h2v2h-2zM60.6 236.6h2v2h-2zM72.3 233.0h2v2h-2zM76.8 228.8h2v2h-2zM66.0 240.5h2v2h-2zM71.7 238.1h2v2h-2zM71.7 235.1h2v2h-2zM79.8 226.3h2v2h-2zM94.8 224.0h2v2h-2zM54.7 245.5h2v2h-2zM82.2 229.7h2v2h-2zM78.6 224.7h2v2h-2zM79.2 222.2h2v2h-2zM92.4 224.3h2v2h-2zM60.3 236.3h2v2h-2zM79.3 229.4h2v2h-2zM82.7 227.5h2v2h-2zM88.2 225.8h2v2h-2zM77.3 224.9h2v2h-2zM68.1 229.9h2v2h-2zM62.8 237.6h2v2h-2zM83.2 231.6h2v2h-2zM74.7 229.3h2v2h-2zM69.5 232.0h2v2h-2zM86.5 226.1h2v2h-2zM84.4 229.2h2v2h-2zM76.7 224.6h2v2h-2zM85.5 225.4h2v2h-2zM69.2 230.1h2v2h-2zM73.3 226.8h2v2h-2zM64.9 238.5h2v2h-2zM72.7 231.7h2v2h-2zM70.3 238.2h2v2h-2zM84.5 229.3h2v2h-2zM69.9 230.6h2v2h-2zM93.4 223.0h2v2h-2zM70.5 229.4h2v2h-2zM67.1 235.1h2v2h-2zM87.0 228.2h2v2h-2zM83.2 222.3h2v2h-2zM52.3 247.3h2v2h-2zM82.4 226.8h2v2h-2zM72.9 235.4h2v2h-2zM70.3 233.1h2v2h-2zM74.0 232.2h2v2h-2zM75.9 234.0h2v2h-2zM74.2 231.0h2v2h-2zM65.9 237.0h2v2h-2zM79.2 230.0h2v2h-2zM72.9 225.9h2v2h-2zM76.2 226.2h2v2h-2zM77.4 231.2h2v2h-2zM82.8 224.0h2v2h-2zM67.9 238.6h2v2h-2zM78.3 227.5h2v2h-2zM66.4 237.2h2v2h-2zM59.2 237.6h2v2h-2zM84.3 228.2h2v2h-2zM74.1 228.7h2v2h-2zM71.4 228.8h2v2h-2zM66.8 233.3h2v2h-2zM57.9 242.0h2v2h-2zM94.7 223.7h2v2h-2zM74.8 235.7h2v2h-2zM83.0 230.0h2v2h-2zM51.2 247.5h2v2h-2zM75.7 236.1h2v2h-2zM64.7 234.5h2v2h-2zM63.8 236.1h2v2h-2zM79.9 224.2h2v2h-2zM58.8 239.3h2v2h-2zM68.9 236.9h2v2h-2zM88.8 226.4h2v2h-2zM69.1 233.3h2v2h-2zM73.5 235.5h2v2h-2zM70.8 237.6h2v2h-2zM69.6 239.2h2v2h-2zM76.2 231.8h2v2h-2zM66.1 239.8h2v2h-2zM59.0 236.1h2v2h-2zM60.0 234.9h2v2h-2zM70.8 237.7h2v2h-2zM79.2 224.1h2v2h-2zM87.3 225.8h2v2h-2zM64.7 230.2h2v2h-2zM66.1 227.5h2v2h-2zM78.8 218.9h2v2h-2zM67.9 227.0h2v2h-2zM39.6 236.3h2v2h-2zM46.1 236.3h2v2h-2zM42.9 240.9h2v2h-2zM42.9 244.1h2v2h-2zM47.4 244.1h2v2h-2zM48.7 246.7h2v2h-2zM52.0 245.4h2v2h-2zM52.0 248.0h2v2h-2zM44.8 250.6h2v2h-2zM50.7 251.3h2v2h-2zM55.2 250.0h2v2h-2zM59.1 247.4h2v2h-2zM63.0 249.3h2v2h-2zM61.7 229.2h2v2h-2zM65.6 226.0h2v2h-2zM75.1 215.2h2v2h-2zM75.1 217.9h2v2h-2zM94.9 215.9h2v2h-2zM73.1 221.3h2v2h-2zM89.5 231.6h2v2h-2zM26.4 237.4h2v2h-2zM35.9 234.4h2v2h-2zM40.0 240.1h2v2h-2zM42.7 243.5h2v2h-2zM45.0 246.9h2v2h-2zM74.5 215.5h2v2h-2zM79.5 251.0h2v2h-2zM93.9 215.5h2v2h-2z"/>
<line x1="21.80" y1="261.00" x2="106.40" y2="219.60" stroke="#e8606a" stroke-width="0.8" stroke-opacity="0.85"/>
<rect x="21.80" y="208.30" width="84.60" height="67.80" fill="none" stroke="#9a9a9a" stroke-width="1.1"/>
<path d="M21.80 276.10v1.2M20.60 276.10h1.2M28.85 276.10v1.2M20.60 270.45h1.2M35.90 276.10v1.2M20.60 264.80h1.2M42.95 276.10v1.2M20.60 259.15h1.2M50.00 276.10v1.2M20.60 253.50h1.2M57.05 276.10v1.2M20.60 247.85h1.2M64.10 276.10v1.2M20.60 242.20h1.2M71.15 276.10v1.2M20.60 236.55h1.2M78.20 276.10v1.2M20.60 230.90h1.2M85.25 276.10v1.2M20.60 225.25h1.2M92.30 276.10v1.2M20.60 219.60h1.2M99.35 276.10v1.2M20.60 213.95h1.2M106.40 276.10v1.2M20.60 208.30h1.2" stroke="#999" stroke-width="0.5" fill="none"/>
<text x="24.80" y="214.50" font-size="5.1" fill="#111" font-weight="bold" textLength="21.20" lengthAdjust="spacingAndGlyphs" stroke="#111" stroke-width="0.35">House M</text>
<text x="49.70" y="262.70" font-size="6.3" fill="#303030" stroke="#303030" stroke-width="0.22" textLength="49.70" lengthAdjust="spacingAndGlyphs">Q = 119.8 kJ/m<tspan font-size="3.91" dy="-2.4">3</tspan><tspan dy="2.4">K</tspan></text>
<text x="58.60" y="269.10" font-size="5.3" fill="#1e1e1e" stroke="#1e1e1e" stroke-width="0.28" font-weight="bold" textLength="25.90" lengthAdjust="spacingAndGlyphs">R<tspan font-size="3.18" dy="-1.8">2</tspan><tspan dy="1.8"> = 0.7702</tspan></text>
<text x="0" y="0" font-size="6.3" fill="#6e6e6e" text-anchor="middle" transform="translate(114.87,241.90) rotate(-90)" textLength="41.6" lengthAdjust="spacingAndGlyphs">Indoor AH [g/kg]</text>
<text x="167.80" y="292.50" font-size="5.8" fill="#6e6e6e" text-anchor="middle" textLength="45.50" lengthAdjust="spacingAndGlyphs">Outdoor AH [g/kg]</text>
<text x="124.00" y="277.70" font-size="4.8" fill="#383838" text-anchor="end" textLength="4.40" lengthAdjust="spacingAndGlyphs" stroke="#383838" stroke-width="0.15">11</text>
<text x="126.20" y="283.70" font-size="4.8" fill="#383838" text-anchor="middle" textLength="4.40" lengthAdjust="spacingAndGlyphs" stroke="#383838" stroke-width="0.15">11</text>
<text x="124.00" y="266.48" font-size="4.8" fill="#383838" text-anchor="end" textLength="4.40" lengthAdjust="spacingAndGlyphs" stroke="#383838" stroke-width="0.15">13</text>
<text x="140.37" y="283.70" font-size="4.8" fill="#383838" text-anchor="middle" textLength="4.40" lengthAdjust="spacingAndGlyphs" stroke="#383838" stroke-width="0.15">13</text>
<text x="124.00" y="255.27" font-size="4.8" fill="#383838" text-anchor="end" textLength="4.40" lengthAdjust="spacingAndGlyphs" stroke="#383838" stroke-width="0.15">15</text>
<text x="154.53" y="283.70" font-size="4.8" fill="#383838" text-anchor="middle" textLength="4.40" lengthAdjust="spacingAndGlyphs" stroke="#383838" stroke-width="0.15">15</text>
<text x="124.00" y="244.05" font-size="4.8" fill="#383838" text-anchor="end" textLength="4.40" lengthAdjust="spacingAndGlyphs" stroke="#383838" stroke-width="0.15">17</text>
<text x="168.70" y="283.70" font-size="4.8" fill="#383838" text-anchor="middle" textLength="4.40" lengthAdjust="spacingAndGlyphs" stroke="#383838" stroke-width="0.15">17</text>
<text x="124.00" y="232.83" font-size="4.8" fill="#383838" text-anchor="end" textLength="4.40" lengthAdjust="spacingAndGlyphs" stroke="#383838" stroke-width="0.15">19</text>
<text x="182.87" y="283.70" font-size="4.8" fill="#383838" text-anchor="middle" textLength="4.40" lengthAdjust="spacingAndGlyphs" stroke="#383838" stroke-width="0.15">19</text>
<text x="124.00" y="221.62" font-size="4.8" fill="#383838" text-anchor="end" textLength="4.40" lengthAdjust="spacingAndGlyphs" stroke="#383838" stroke-width="0.15">21</text>
<text x="197.03" y="283.70" font-size="4.8" fill="#383838" text-anchor="middle" textLength="4.40" lengthAdjust="spacingAndGlyphs" stroke="#383838" stroke-width="0.15">21</text>
<text x="124.00" y="210.40" font-size="4.8" fill="#383838" text-anchor="end" textLength="4.40" lengthAdjust="spacingAndGlyphs" stroke="#383838" stroke-width="0.15">23</text>
<text x="211.20" y="283.70" font-size="4.8" fill="#383838" text-anchor="middle" textLength="4.40" lengthAdjust="spacingAndGlyphs" stroke="#383838" stroke-width="0.15">23</text>
<line x1="126.20" y1="276.80" x2="211.20" y2="209.50" stroke="#bdbdbd" stroke-width="0.7"/>
<path fill="#0d0d86" d="M178.5 235.7h2v2h-2zM186.9 231.4h2v2h-2zM196.3 225.9h2v2h-2zM180.8 232.3h2v2h-2zM188.3 232.1h2v2h-2zM181.2 236.5h2v2h-2zM197.1 224.6h2v2h-2zM180.5 233.3h2v2h-2zM166.8 245.6h2v2h-2zM170.4 245.7h2v2h-2zM199.4 225.6h2v2h-2zM181.0 232.8h2v2h-2zM195.8 223.9h2v2h-2zM172.3 245.7h2v2h-2zM199.6 223.7h2v2h-2zM175.6 241.1h2v2h-2zM169.9 249.0h2v2h-2zM201.8 223.5h2v2h-2zM187.2 235.2h2v2h-2zM184.6 232.0h2v2h-2zM177.4 236.9h2v2h-2zM166.2 247.5h2v2h-2zM165.6 248.3h2v2h-2zM198.5 226.5h2v2h-2zM166.6 251.0h2v2h-2zM193.9 227.5h2v2h-2zM162.4 250.8h2v2h-2zM173.7 246.0h2v2h-2zM179.7 243.2h2v2h-2zM186.1 229.8h2v2h-2zM188.7 231.2h2v2h-2zM183.7 235.4h2v2h-2zM173.9 243.7h2v2h-2zM184.0 236.4h2v2h-2zM176.7 240.8h2v2h-2zM177.9 240.6h2v2h-2zM181.5 234.2h2v2h-2zM191.8 229.8h2v2h-2zM168.7 243.0h2v2h-2zM178.7 240.7h2v2h-2zM187.2 230.9h2v2h-2zM166.7 241.7h2v2h-2zM183.0 229.7h2v2h-2zM176.7 236.5h2v2h-2zM173.3 241.1h2v2h-2zM178.4 238.7h2v2h-2zM189.3 232.4h2v2h-2zM179.2 238.6h2v2h-2zM175.1 238.9h2v2h-2zM182.8 232.6h2v2h-2zM153.5 255.9h2v2h-2zM163.6 248.1h2v2h-2zM173.9 242.6h2v2h-2zM170.6 246.5h2v2h-2zM176.6 239.2h2v2h-2zM165.6 244.6h2v2h-2zM183.5 234.6h2v2h-2zM182.1 235.6h2v2h-2zM167.0 251.8h2v2h-2zM174.6 242.4h2v2h-2zM162.0 251.2h2v2h-2zM162.8 255.2h2v2h-2zM182.8 237.8h2v2h-2zM173.3 239.8h2v2h-2zM161.9 244.8h2v2h-2zM180.4 238.7h2v2h-2zM176.8 238.7h2v2h-2zM172.6 245.2h2v2h-2zM188.5 226.9h2v2h-2zM174.1 240.4h2v2h-2zM165.5 248.6h2v2h-2zM177.5 235.2h2v2h-2zM187.3 231.7h2v2h-2zM173.6 241.6h2v2h-2zM184.5 233.8h2v2h-2zM181.8 240.8h2v2h-2zM177.5 237.2h2v2h-2zM201.8 224.2h2v2h-2zM178.8 240.9h2v2h-2zM179.2 238.3h2v2h-2zM191.4 226.3h2v2h-2zM201.2 225.2h2v2h-2zM171.7 239.0h2v2h-2zM192.1 224.5h2v2h-2zM158.2 253.5h2v2h-2zM184.9 239.2h2v2h-2zM173.6 245.7h2v2h-2zM159.8 253.8h2v2h-2zM171.3 249.7h2v2h-2zM184.8 234.4h2v2h-2zM167.5 243.3h2v2h-2zM190.1 228.4h2v2h-2zM195.7 227.1h2v2h-2zM169.6 245.1h2v2h-2zM191.7 228.5h2v2h-2zM175.7 237.8h2v2h-2zM178.3 237.8h2v2h-2zM172.7 245.8h2v2h-2zM165.0 251.9h2v2h-2zM162.8 252.6h2v2h-2zM187.9 231.3h2v2h-2zM181.5 238.5h2v2h-2zM159.0 251.1h2v2h-2zM166.7 245.3h2v2h-2zM188.5 228.2h2v2h-2zM179.0 243.2h2v2h-2zM177.8 237.3h2v2h-2zM171.2 237.3h2v2h-2zM178.3 237.1h2v2h-2zM181.4 236.5h2v2h-2zM172.7 245.5h2v2h-2zM161.8 250.3h2v2h-2zM186.8 232.6h2v2h-2zM174.9 236.6h2v2h-2zM167.5 246.6h2v2h-2zM178.6 235.1h2v2h-2zM165.4 251.9h2v2h-2zM169.1 247.8h2v2h-2zM171.8 241.4h2v2h-2zM176.4 241.9h2v2h-2zM191.9 227.6h2v2h-2zM188.6 227.6h2v2h-2zM188.5 231.1h2v2h-2zM169.3 241.3h2v2h-2zM180.5 238.0h2v2h-2zM193.6 228.1h2v2h-2zM184.4 231.3h2v2h-2zM191.5 227.0h2v2h-2zM172.2 238.7h2v2h-2zM195.7 231.5h2v2h-2zM158.4 252.0h2v2h-2zM172.3 238.3h2v2h-2zM166.4 245.9h2v2h-2zM179.1 239.0h2v2h-2zM166.6 249.5h2v2h-2zM175.7 240.8h2v2h-2zM169.3 247.1h2v2h-2zM175.0 242.8h2v2h-2zM182.5 234.4h2v2h-2zM189.6 229.5h2v2h-2zM166.1 250.8h2v2h-2zM169.2 239.6h2v2h-2zM180.8 238.3h2v2h-2zM193.8 229.2h2v2h-2zM195.2 226.7h2v2h-2zM185.8 232.9h2v2h-2zM165.1 246.3h2v2h-2zM176.2 242.4h2v2h-2zM177.0 237.6h2v2h-2zM176.3 244.3h2v2h-2zM182.4 241.0h2v2h-2zM183.6 237.6h2v2h-2zM172.6 238.8h2v2h-2zM162.9 244.4h2v2h-2zM185.3 232.0h2v2h-2zM185.9 228.9h2v2h-2zM166.0 249.1h2v2h-2zM171.9 247.8h2v2h-2zM195.6 225.3h2v2h-2zM197.1 227.1h2v2h-2zM167.8 246.0h2v2h-2zM184.9 231.1h2v2h-2zM179.1 236.4h2v2h-2zM170.5 246.0h2v2h-2zM205.3 222.6h2v2h-2zM161.4 251.3h2v2h-2zM183.5 234.5h2v2h-2zM197.1 226.9h2v2h-2zM165.2 250.5h2v2h-2zM168.7 248.6h2v2h-2zM166.7 247.8h2v2h-2zM183.1 234.6h2v2h-2zM159.0 254.6h2v2h-2zM185.3 238.4h2v2h-2zM165.4 250.9h2v2h-2zM167.4 250.3h2v2h-2zM194.6 227.6h2v2h-2zM172.5 244.3h2v2h-2zM182.0 234.2h2v2h-2zM176.5 238.2h2v2h-2zM196.8 226.2h2v2h-2zM156.3 254.5h2v2h-2zM160.2 253.3h2v2h-2zM176.4 239.4h2v2h-2zM157.1 254.6h2v2h-2zM184.8 237.8h2v2h-2zM179.7 235.2h2v2h-2zM177.5 241.1h2v2h-2zM177.6 240.3h2v2h-2zM173.5 246.1h2v2h-2zM179.8 238.3h2v2h-2zM195.3 227.1h2v2h-2zM169.3 242.1h2v2h-2zM187.0 237.7h2v2h-2zM189.0 233.2h2v2h-2zM176.4 234.5h2v2h-2zM172.4 247.7h2v2h-2zM166.9 240.8h2v2h-2zM187.6 235.8h2v2h-2zM185.2 234.0h2v2h-2zM185.7 233.4h2v2h-2zM188.4 232.0h2v2h-2zM161.7 247.7h2v2h-2zM176.9 246.2h2v2h-2zM173.2 240.0h2v2h-2zM164.3 246.8h2v2h-2zM194.9 229.4h2v2h-2zM155.0 251.5h2v2h-2zM183.3 238.8h2v2h-2zM170.6 246.2h2v2h-2zM174.4 234.1h2v2h-2zM175.3 238.1h2v2h-2zM164.1 251.7h2v2h-2zM176.0 237.1h2v2h-2zM193.5 228.8h2v2h-2zM189.8 230.6h2v2h-2zM177.3 241.6h2v2h-2zM185.0 235.6h2v2h-2zM176.9 234.2h2v2h-2zM184.7 238.9h2v2h-2zM181.4 240.8h2v2h-2zM196.7 228.4h2v2h-2zM179.3 238.6h2v2h-2zM171.9 244.9h2v2h-2zM168.8 242.9h2v2h-2zM173.9 243.6h2v2h-2zM195.7 228.0h2v2h-2zM168.6 247.3h2v2h-2zM169.3 246.0h2v2h-2zM172.4 242.6h2v2h-2zM188.4 231.3h2v2h-2zM169.7 249.4h2v2h-2zM182.2 238.3h2v2h-2zM164.1 253.0h2v2h-2zM181.5 233.1h2v2h-2zM169.8 243.5h2v2h-2zM172.6 240.4h2v2h-2zM177.8 239.6h2v2h-2zM196.6 225.5h2v2h-2zM182.5 233.8h2v2h-2zM189.1 230.7h2v2h-2zM179.9 235.5h2v2h-2zM180.8 236.7h2v2h-2zM164.6 249.0h2v2h-2zM182.6 233.4h2v2h-2zM195.9 226.8h2v2h-2zM203.9 224.2h2v2h-2zM171.8 239.9h2v2h-2zM172.1 242.8h2v2h-2zM200.2 224.2h2v2h-2zM184.6 232.3h2v2h-2zM185.9 231.1h2v2h-2zM195.3 228.7h2v2h-2zM176.4 239.7h2v2h-2zM185.8 234.9h2v2h-2zM195.3 225.7h2v2h-2zM196.0 224.0h2v2h-2zM177.0 242.3h2v2h-2zM186.2 230.6h2v2h-2zM180.4 237.5h2v2h-2zM164.9 249.3h2v2h-2zM172.2 242.4h2v2h-2zM162.2 249.1h2v2h-2zM173.7 241.0h2v2h-2zM179.0 233.5h2v2h-2zM173.7 244.0h2v2h-2zM157.5 253.5h2v2h-2zM184.6 233.7h2v2h-2zM195.7 227.7h2v2h-2zM175.4 238.3h2v2h-2zM169.3 245.7h2v2h-2zM181.8 239.0h2v2h-2zM179.2 236.3h2v2h-2zM194.5 230.0h2v2h-2zM179.2 239.5h2v2h-2zM195.6 225.3h2v2h-2zM166.4 244.9h2v2h-2zM175.9 242.7h2v2h-2zM178.2 241.6h2v2h-2zM177.2 240.4h2v2h-2zM175.9 241.6h2v2h-2zM186.3 237.8h2v2h-2zM173.6 240.3h2v2h-2zM195.8 228.2h2v2h-2zM187.6 230.8h2v2h-2zM160.2 254.1h2v2h-2zM179.2 240.2h2v2h-2zM178.1 238.3h2v2h-2zM199.0 224.3h2v2h-2zM176.0 235.8h2v2h-2zM160.2 251.6h2v2h-2zM192.8 226.4h2v2h-2zM174.4 245.3h2v2h-2zM177.8 238.7h2v2h-2zM166.7 251.6h2v2h-2zM174.6 244.3h2v2h-2zM178.2 238.6h2v2h-2zM171.0 245.7h2v2h-2zM181.8 241.5h2v2h-2zM165.4 248.3h2v2h-2zM171.3 246.7h2v2h-2zM174.6 239.3h2v2h-2zM164.2 247.5h2v2h-2zM165.6 249.0h2v2h-2zM173.7 244.4h2v2h-2zM171.3 246.3h2v2h-2zM159.5 251.5h2v2h-2zM170.1 244.2h2v2h-2zM168.5 249.1h2v2h-2zM172.4 244.4h2v2h-2zM170.1 247.5h2v2h-2zM192.7 229.6h2v2h-2zM190.3 233.1h2v2h-2zM201.3 223.5h2v2h-2zM184.4 241.5h2v2h-2zM168.4 248.2h2v2h-2zM168.3 245.5h2v2h-2zM197.9 229.2h2v2h-2zM164.3 251.6h2v2h-2zM182.4 235.1h2v2h-2zM198.7 226.1h2v2h-2zM188.8 231.0h2v2h-2zM174.3 246.8h2v2h-2zM180.8 232.5h2v2h-2zM172.4 241.5h2v2h-2zM186.4 235.0h2v2h-2zM175.5 247.7h2v2h-2zM185.9 231.7h2v2h-2zM175.1 243.1h2v2h-2zM168.8 243.7h2v2h-2zM155.3 255.6h2v2h-2zM187.1 232.8h2v2h-2zM175.6 246.7h2v2h-2zM177.9 240.7h2v2h-2zM168.5 246.7h2v2h-2zM185.6 233.7h2v2h-2zM175.4 234.0h2v2h-2zM182.1 231.4h2v2h-2zM197.2 226.2h2v2h-2zM200.2 223.8h2v2h-2zM172.9 242.6h2v2h-2zM171.5 246.2h2v2h-2zM200.4 221.3h2v2h-2zM178.7 239.8h2v2h-2zM163.8 255.2h2v2h-2zM194.1 226.9h2v2h-2zM197.2 226.3h2v2h-2zM183.3 237.6h2v2h-2zM171.8 247.8h2v2h-2zM182.6 231.3h2v2h-2zM163.0 250.6h2v2h-2zM169.8 241.9h2v2h-2zM182.0 232.3h2v2h-2zM183.6 237.4h2v2h-2zM185.2 232.4h2v2h-2zM171.6 244.4h2v2h-2zM171.0 246.6h2v2h-2zM168.9 249.4h2v2h-2zM193.0 227.3h2v2h-2zM167.8 248.0h2v2h-2zM183.4 239.6h2v2h-2zM183.4 237.9h2v2h-2zM192.9 226.4h2v2h-2zM196.3 225.7h2v2h-2zM177.2 241.1h2v2h-2zM184.8 236.9h2v2h-2zM174.9 243.9h2v2h-2zM188.9 228.9h2v2h-2zM192.6 229.4h2v2h-2zM176.9 233.2h2v2h-2zM177.9 238.6h2v2h-2zM189.1 228.5h2v2h-2zM179.4 234.8h2v2h-2zM171.1 243.0h2v2h-2zM172.5 240.8h2v2h-2zM167.1 245.4h2v2h-2zM195.5 226.8h2v2h-2zM171.0 240.2h2v2h-2zM179.4 238.6h2v2h-2zM163.7 254.0h2v2h-2zM177.0 235.2h2v2h-2zM172.8 236.2h2v2h-2zM186.5 229.0h2v2h-2zM201.9 225.2h2v2h-2zM192.3 228.4h2v2h-2zM183.8 234.4h2v2h-2zM185.8 229.6h2v2h-2zM191.8 228.3h2v2h-2zM158.4 256.2h2v2h-2zM178.5 235.7h2v2h-2zM197.6 227.0h2v2h-2zM169.8 252.0h2v2h-2zM163.7 248.0h2v2h-2zM176.3 240.7h2v2h-2zM191.3 229.4h2v2h-2zM156.6 253.6h2v2h-2zM194.1 227.4h2v2h-2zM175.0 241.4h2v2h-2zM188.6 229.5h2v2h-2zM194.8 230.9h2v2h-2zM180.5 243.2h2v2h-2zM191.1 224.2h2v2h-2zM182.4 236.0h2v2h-2zM168.4 240.9h2v2h-2zM174.8 239.6h2v2h-2zM167.2 245.7h2v2h-2zM158.4 255.7h2v2h-2zM187.3 230.9h2v2h-2zM180.9 237.9h2v2h-2zM182.5 234.5h2v2h-2zM161.5 252.1h2v2h-2zM162.9 250.1h2v2h-2zM159.8 254.4h2v2h-2zM163.0 249.2h2v2h-2zM179.5 236.1h2v2h-2zM167.2 251.5h2v2h-2zM183.0 231.0h2v2h-2zM184.1 231.6h2v2h-2zM181.7 234.2h2v2h-2zM177.7 234.3h2v2h-2zM165.2 250.6h2v2h-2zM189.7 232.6h2v2h-2zM187.8 231.1h2v2h-2zM178.3 245.0h2v2h-2zM185.8 235.7h2v2h-2zM186.6 235.1h2v2h-2zM166.5 246.8h2v2h-2zM170.0 250.3h2v2h-2zM174.4 240.9h2v2h-2zM191.6 232.1h2v2h-2zM187.6 232.0h2v2h-2zM187.4 233.6h2v2h-2zM178.2 239.9h2v2h-2zM190.1 230.3h2v2h-2zM165.1 247.2h2v2h-2zM162.5 244.5h2v2h-2zM177.3 243.3h2v2h-2zM188.6 234.2h2v2h-2zM183.2 231.4h2v2h-2zM183.9 235.1h2v2h-2zM174.9 242.3h2v2h-2zM196.8 225.8h2v2h-2zM184.2 238.1h2v2h-2zM181.0 236.0h2v2h-2zM176.5 243.1h2v2h-2zM180.7 228.3h2v2h-2zM184.4 228.4h2v2h-2zM171.1 237.3h2v2h-2zM175.4 234.3h2v2h-2zM171.9 234.8h2v2h-2zM186.0 226.9h2v2h-2zM177.7 231.2h2v2h-2zM192.1 224.2h2v2h-2zM189.0 225.8h2v2h-2zM157.0 249.8h2v2h-2zM151.8 252.4h2v2h-2zM155.7 255.0h2v2h-2zM153.1 256.3h2v2h-2zM147.9 257.6h2v2h-2zM150.5 260.2h2v2h-2zM155.0 260.8h2v2h-2zM157.0 260.2h2v2h-2zM159.6 260.8h2v2h-2zM162.2 260.8h2v2h-2zM151.8 263.4h2v2h-2zM149.2 266.7h2v2h-2zM160.9 265.4h2v2h-2zM144.6 253.0h2v2h-2zM150.5 246.5h2v2h-2zM170.6 231.0h2v2h-2zM168.0 239.4h2v2h-2zM191.7 220.6h2v2h-2zM194.5 222.0h2v2h-2zM193.8 236.3h2v2h-2zM194.5 239.7h2v2h-2zM187.6 243.1h2v2h-2zM186.3 245.2h2v2h-2zM182.2 248.6h2v2h-2zM178.1 245.2h2v2h-2zM130.7 254.7h2v2h-2zM142.0 243.4h2v2h-2zM144.3 249.0h2v2h-2zM147.7 253.6h2v2h-2zM152.3 259.3h2v2h-2zM154.5 261.5h2v2h-2zM170.5 230.9h2v2h-2zM185.2 255.9h2v2h-2zM190.9 219.5h2v2h-2zM200.0 220.6h2v2h-2z"/>
<line x1="126.20" y1="262.50" x2="211.20" y2="220.00" stroke="#e8606a" stroke-width="0.8" stroke-opacity="0.85"/>
<rect x="126.20" y="209.50" width="85.00" height="67.30" fill="none" stroke="#9a9a9a" stroke-width="1.1"/>
<path d="M126.20 276.80v1.2M125.00 276.80h1.2M133.28 276.80v1.2M125.00 271.19h1.2M140.37 276.80v1.2M125.00 265.58h1.2M147.45 276.80v1.2M125.00 259.98h1.2M154.53 276.80v1.2M125.00 254.37h1.2M161.62 276.80v1.2M125.00 248.76h1.2M168.70 276.80v1.2M125.00 243.15h1.2M175.78 276.80v1.2M125.00 237.54h1.2M182.87 276.80v1.2M125.00 231.93h1.2M189.95 276.80v1.2M125.00 226.32h1.2M197.03 276.80v1.2M125.00 220.72h1.2M204.12 276.80v1.2M125.00 215.11h1.2M211.20 276.80v1.2M125.00 209.50h1.2" stroke="#999" stroke-width="0.5" fill="none"/>
<text x="129.80" y="215.70" font-size="5.1" fill="#111" font-weight="bold" textLength="19.40" lengthAdjust="spacingAndGlyphs" stroke="#111" stroke-width="0.35">House O</text>
<text x="130.70" y="225.60" font-size="6.3" fill="#303030" stroke="#303030" stroke-width="0.22" textLength="50.30" lengthAdjust="spacingAndGlyphs">Q = 119.8 kJ/m<tspan font-size="3.91" dy="-2.4">3</tspan><tspan dy="2.4">K</tspan></text>
<text x="163.50" y="269.60" font-size="5.3" fill="#1e1e1e" stroke="#1e1e1e" stroke-width="0.28" font-weight="bold" textLength="25.80" lengthAdjust="spacingAndGlyphs">R<tspan font-size="3.18" dy="-1.8">2</tspan><tspan dy="1.8"> = 0.8344</tspan></text>
<text x="0" y="0" font-size="6.3" fill="#6e6e6e" text-anchor="middle" transform="translate(219.37,241.30) rotate(-90)" textLength="41" lengthAdjust="spacingAndGlyphs">Indoor AH [g/kg]</text>
<text x="271.90" y="291.60" font-size="5.8" fill="#6e6e6e" text-anchor="middle" textLength="45.50" lengthAdjust="spacingAndGlyphs">Outdoor AH [g/kg]</text>
<text x="229.20" y="277.00" font-size="4.8" fill="#383838" text-anchor="end" textLength="4.40" lengthAdjust="spacingAndGlyphs" stroke="#383838" stroke-width="0.15">11</text>
<text x="231.40" y="283.00" font-size="4.8" fill="#383838" text-anchor="middle" textLength="4.40" lengthAdjust="spacingAndGlyphs" stroke="#383838" stroke-width="0.15">11</text>
<text x="229.20" y="265.70" font-size="4.8" fill="#383838" text-anchor="end" textLength="4.40" lengthAdjust="spacingAndGlyphs" stroke="#383838" stroke-width="0.15">13</text>
<text x="245.55" y="283.00" font-size="4.8" fill="#383838" text-anchor="middle" textLength="4.40" lengthAdjust="spacingAndGlyphs" stroke="#383838" stroke-width="0.15">13</text>
<text x="229.20" y="254.40" font-size="4.8" fill="#383838" text-anchor="end" textLength="4.40" lengthAdjust="spacingAndGlyphs" stroke="#383838" stroke-width="0.15">15</text>
<text x="259.70" y="283.00" font-size="4.8" fill="#383838" text-anchor="middle" textLength="4.40" lengthAdjust="spacingAndGlyphs" stroke="#383838" stroke-width="0.15">15</text>
<text x="229.20" y="243.10" font-size="4.8" fill="#383838" text-anchor="end" textLength="4.40" lengthAdjust="spacingAndGlyphs" stroke="#383838" stroke-width="0.15">17</text>
<text x="273.85" y="283.00" font-size="4.8" fill="#383838" text-anchor="middle" textLength="4.40" lengthAdjust="spacingAndGlyphs" stroke="#383838" stroke-width="0.15">17</text>
<text x="229.20" y="231.80" font-size="4.8" fill="#383838" text-anchor="end" textLength="4.40" lengthAdjust="spacingAndGlyphs" stroke="#383838" stroke-width="0.15">19</text>
<text x="288.00" y="283.00" font-size="4.8" fill="#383838" text-anchor="middle" textLength="4.40" lengthAdjust="spacingAndGlyphs" stroke="#383838" stroke-width="0.15">19</text>
<text x="229.20" y="220.50" font-size="4.8" fill="#383838" text-anchor="end" textLength="4.40" lengthAdjust="spacingAndGlyphs" stroke="#383838" stroke-width="0.15">21</text>
<text x="302.15" y="283.00" font-size="4.8" fill="#383838" text-anchor="middle" textLength="4.40" lengthAdjust="spacingAndGlyphs" stroke="#383838" stroke-width="0.15">21</text>
<text x="229.20" y="209.20" font-size="4.8" fill="#383838" text-anchor="end" textLength="4.40" lengthAdjust="spacingAndGlyphs" stroke="#383838" stroke-width="0.15">23</text>
<text x="316.30" y="283.00" font-size="4.8" fill="#383838" text-anchor="middle" textLength="4.40" lengthAdjust="spacingAndGlyphs" stroke="#383838" stroke-width="0.15">23</text>
<line x1="231.40" y1="276.10" x2="316.30" y2="208.30" stroke="#bdbdbd" stroke-width="0.7"/>
<path fill="#0d0d86" d="M274.7 232.3h2v2h-2zM295.8 221.4h2v2h-2zM265.8 238.1h2v2h-2zM284.6 234.3h2v2h-2zM279.4 238.1h2v2h-2zM281.3 239.5h2v2h-2zM291.2 229.8h2v2h-2zM277.9 230.8h2v2h-2zM271.3 242.7h2v2h-2zM291.1 224.7h2v2h-2zM271.2 238.8h2v2h-2zM272.8 231.9h2v2h-2zM282.0 234.5h2v2h-2zM275.1 237.4h2v2h-2zM293.0 221.9h2v2h-2zM268.0 239.2h2v2h-2zM298.6 223.9h2v2h-2zM288.8 234.5h2v2h-2zM270.5 235.8h2v2h-2zM289.7 237.0h2v2h-2zM308.9 217.5h2v2h-2zM273.8 233.9h2v2h-2zM293.6 231.1h2v2h-2zM281.8 233.5h2v2h-2zM288.0 224.5h2v2h-2zM298.7 224.3h2v2h-2zM294.5 226.1h2v2h-2zM286.4 233.1h2v2h-2zM279.9 229.2h2v2h-2zM291.6 226.0h2v2h-2zM279.8 229.6h2v2h-2zM295.5 223.2h2v2h-2zM292.4 232.0h2v2h-2zM303.5 220.5h2v2h-2zM286.5 230.4h2v2h-2zM284.0 228.8h2v2h-2zM261.3 247.4h2v2h-2zM289.3 229.3h2v2h-2zM283.3 226.2h2v2h-2zM293.7 231.3h2v2h-2zM292.5 233.4h2v2h-2zM278.4 242.0h2v2h-2zM289.4 233.4h2v2h-2zM281.3 234.9h2v2h-2zM291.8 224.2h2v2h-2zM275.0 234.8h2v2h-2zM299.3 222.4h2v2h-2zM289.5 232.0h2v2h-2zM290.0 227.0h2v2h-2zM278.6 230.4h2v2h-2zM297.4 221.7h2v2h-2zM272.7 239.2h2v2h-2zM288.6 229.0h2v2h-2zM270.3 244.6h2v2h-2zM267.3 246.2h2v2h-2zM299.9 221.6h2v2h-2zM273.4 232.5h2v2h-2zM287.9 231.6h2v2h-2zM296.1 221.4h2v2h-2zM289.3 224.1h2v2h-2zM273.1 241.8h2v2h-2zM298.9 222.2h2v2h-2zM281.6 234.7h2v2h-2zM274.6 240.6h2v2h-2zM269.1 240.7h2v2h-2zM289.4 229.5h2v2h-2zM266.2 240.1h2v2h-2zM287.3 225.6h2v2h-2zM277.0 241.6h2v2h-2zM287.6 225.7h2v2h-2zM297.9 225.4h2v2h-2zM295.5 225.2h2v2h-2zM278.6 237.6h2v2h-2zM286.8 229.8h2v2h-2zM305.7 220.2h2v2h-2zM294.1 228.7h2v2h-2zM296.3 225.8h2v2h-2zM298.5 225.0h2v2h-2zM272.5 238.1h2v2h-2zM273.9 239.6h2v2h-2zM279.8 227.4h2v2h-2zM278.7 240.3h2v2h-2zM279.7 224.9h2v2h-2zM296.8 224.3h2v2h-2zM287.4 224.2h2v2h-2zM300.1 224.8h2v2h-2zM263.0 243.1h2v2h-2zM294.3 221.8h2v2h-2zM277.3 233.1h2v2h-2zM307.7 221.1h2v2h-2zM287.0 232.0h2v2h-2zM301.8 220.0h2v2h-2zM274.9 239.4h2v2h-2zM284.5 235.2h2v2h-2zM275.1 241.3h2v2h-2zM285.8 231.0h2v2h-2zM305.2 220.2h2v2h-2zM284.5 224.3h2v2h-2zM290.6 230.0h2v2h-2zM276.3 231.4h2v2h-2zM281.4 235.7h2v2h-2zM286.1 230.1h2v2h-2zM278.8 228.6h2v2h-2zM279.4 225.1h2v2h-2zM293.2 227.1h2v2h-2zM274.1 237.3h2v2h-2zM277.5 232.2h2v2h-2zM291.7 227.9h2v2h-2zM268.8 245.4h2v2h-2zM279.8 237.0h2v2h-2zM282.8 231.8h2v2h-2zM282.0 227.5h2v2h-2zM279.7 237.6h2v2h-2zM271.3 238.0h2v2h-2zM281.4 237.1h2v2h-2zM285.7 228.1h2v2h-2zM280.7 234.7h2v2h-2zM292.2 230.2h2v2h-2zM287.8 235.9h2v2h-2zM298.4 221.9h2v2h-2zM279.3 234.8h2v2h-2zM284.2 237.2h2v2h-2zM285.3 226.3h2v2h-2zM281.5 236.4h2v2h-2zM295.4 227.2h2v2h-2zM285.9 226.8h2v2h-2zM282.4 239.4h2v2h-2zM281.0 235.9h2v2h-2zM298.3 221.0h2v2h-2zM276.5 231.9h2v2h-2zM286.1 227.4h2v2h-2zM277.6 235.2h2v2h-2zM278.0 229.2h2v2h-2zM268.4 239.7h2v2h-2zM289.9 227.4h2v2h-2zM302.1 220.2h2v2h-2zM276.4 229.2h2v2h-2zM298.7 230.7h2v2h-2zM291.4 225.1h2v2h-2zM294.5 219.9h2v2h-2zM278.8 231.7h2v2h-2zM278.9 233.8h2v2h-2zM300.3 224.8h2v2h-2zM291.1 233.2h2v2h-2zM288.2 223.0h2v2h-2zM287.4 226.5h2v2h-2zM289.1 230.9h2v2h-2zM290.5 228.2h2v2h-2zM275.2 240.8h2v2h-2zM263.3 246.8h2v2h-2zM295.1 225.6h2v2h-2zM271.2 238.3h2v2h-2zM286.6 225.9h2v2h-2zM287.2 230.6h2v2h-2zM293.4 225.3h2v2h-2zM269.9 243.8h2v2h-2zM283.2 228.3h2v2h-2zM288.5 223.4h2v2h-2zM305.2 220.2h2v2h-2zM292.5 231.9h2v2h-2zM286.9 226.4h2v2h-2zM281.6 235.9h2v2h-2zM285.6 233.3h2v2h-2zM304.9 219.9h2v2h-2zM288.1 227.8h2v2h-2zM296.7 224.6h2v2h-2zM280.5 229.1h2v2h-2zM295.0 226.2h2v2h-2zM289.1 232.4h2v2h-2zM273.6 232.9h2v2h-2zM267.3 242.8h2v2h-2zM292.0 230.7h2v2h-2zM277.0 241.5h2v2h-2zM301.7 222.4h2v2h-2zM288.2 232.6h2v2h-2zM303.9 219.6h2v2h-2zM275.5 240.7h2v2h-2zM263.5 247.5h2v2h-2zM263.9 245.0h2v2h-2zM291.7 230.6h2v2h-2zM291.0 227.0h2v2h-2zM279.8 231.6h2v2h-2zM279.8 232.8h2v2h-2zM286.0 231.2h2v2h-2zM286.0 229.5h2v2h-2zM275.6 234.5h2v2h-2zM289.5 226.9h2v2h-2zM297.5 222.6h2v2h-2zM291.4 225.4h2v2h-2zM277.0 240.2h2v2h-2zM282.5 232.0h2v2h-2zM290.9 224.5h2v2h-2zM287.7 229.1h2v2h-2zM292.4 220.3h2v2h-2zM287.8 225.5h2v2h-2zM286.4 231.8h2v2h-2zM300.9 225.8h2v2h-2zM281.7 240.8h2v2h-2zM298.7 230.0h2v2h-2zM279.7 234.7h2v2h-2zM271.5 235.7h2v2h-2zM296.3 223.1h2v2h-2zM299.1 224.7h2v2h-2zM280.6 229.2h2v2h-2zM265.8 244.4h2v2h-2zM287.3 232.9h2v2h-2zM273.2 236.6h2v2h-2zM287.0 229.6h2v2h-2zM285.3 232.6h2v2h-2zM277.7 233.5h2v2h-2zM288.1 232.0h2v2h-2zM294.5 223.5h2v2h-2zM264.9 242.5h2v2h-2zM287.1 234.9h2v2h-2zM275.6 234.9h2v2h-2zM283.4 238.2h2v2h-2zM282.7 230.1h2v2h-2zM297.7 224.0h2v2h-2zM294.4 221.0h2v2h-2zM294.1 229.1h2v2h-2zM267.8 245.8h2v2h-2zM290.4 224.4h2v2h-2zM278.7 231.9h2v2h-2zM292.1 225.2h2v2h-2zM279.9 229.2h2v2h-2zM273.9 234.2h2v2h-2zM301.3 223.5h2v2h-2zM295.1 227.3h2v2h-2zM280.6 231.4h2v2h-2zM289.8 227.2h2v2h-2zM299.1 224.9h2v2h-2zM277.2 231.2h2v2h-2zM291.7 224.8h2v2h-2zM291.8 223.2h2v2h-2zM281.2 226.0h2v2h-2zM280.6 226.5h2v2h-2zM272.3 232.0h2v2h-2zM297.8 224.1h2v2h-2zM272.7 233.7h2v2h-2zM280.1 241.3h2v2h-2zM288.8 232.8h2v2h-2zM273.7 233.0h2v2h-2zM279.7 230.5h2v2h-2zM287.1 231.3h2v2h-2zM268.3 245.6h2v2h-2zM300.4 224.1h2v2h-2zM289.6 227.2h2v2h-2zM275.1 240.2h2v2h-2zM293.2 225.3h2v2h-2zM288.2 236.2h2v2h-2zM288.8 223.2h2v2h-2zM289.4 228.0h2v2h-2zM274.2 242.6h2v2h-2zM282.3 234.2h2v2h-2zM283.5 224.6h2v2h-2zM298.3 222.6h2v2h-2zM286.6 229.2h2v2h-2zM273.6 232.6h2v2h-2zM288.4 229.3h2v2h-2zM284.0 236.1h2v2h-2zM273.7 237.8h2v2h-2zM287.7 233.4h2v2h-2zM277.9 235.4h2v2h-2zM277.5 240.9h2v2h-2zM280.1 228.8h2v2h-2zM291.3 230.9h2v2h-2zM295.0 230.2h2v2h-2zM275.1 238.2h2v2h-2zM299.1 222.9h2v2h-2zM281.4 230.1h2v2h-2zM295.3 221.3h2v2h-2zM288.5 228.3h2v2h-2zM276.5 235.7h2v2h-2zM283.9 224.8h2v2h-2zM282.3 229.1h2v2h-2zM298.6 224.9h2v2h-2zM290.3 228.8h2v2h-2zM275.1 234.1h2v2h-2zM284.7 229.1h2v2h-2zM281.0 233.8h2v2h-2zM284.3 228.7h2v2h-2zM268.2 240.7h2v2h-2zM281.5 234.8h2v2h-2zM291.0 232.9h2v2h-2zM279.7 234.7h2v2h-2zM296.4 225.4h2v2h-2zM270.9 241.3h2v2h-2zM295.1 228.4h2v2h-2zM286.0 226.4h2v2h-2zM298.5 221.4h2v2h-2zM290.1 232.9h2v2h-2zM296.7 225.3h2v2h-2zM277.6 237.0h2v2h-2zM302.3 220.1h2v2h-2zM282.8 225.7h2v2h-2zM295.8 225.7h2v2h-2zM279.7 231.9h2v2h-2zM271.0 237.6h2v2h-2zM280.0 238.3h2v2h-2zM294.5 224.6h2v2h-2zM278.2 233.4h2v2h-2zM282.9 229.6h2v2h-2zM285.9 234.1h2v2h-2zM298.8 223.0h2v2h-2zM277.6 241.3h2v2h-2zM298.0 226.1h2v2h-2zM281.0 233.5h2v2h-2zM290.1 231.4h2v2h-2zM286.7 229.2h2v2h-2zM297.7 221.7h2v2h-2zM261.6 246.8h2v2h-2zM271.2 239.9h2v2h-2zM278.4 233.8h2v2h-2zM288.8 222.9h2v2h-2zM280.1 240.0h2v2h-2zM271.1 236.3h2v2h-2zM295.3 222.3h2v2h-2zM289.4 231.9h2v2h-2zM286.3 232.9h2v2h-2zM278.0 241.0h2v2h-2zM296.5 223.7h2v2h-2zM290.5 223.0h2v2h-2zM282.7 237.3h2v2h-2zM273.2 235.4h2v2h-2zM276.0 240.9h2v2h-2zM260.6 248.7h2v2h-2zM282.3 241.6h2v2h-2zM291.8 225.3h2v2h-2zM276.0 238.1h2v2h-2zM279.3 235.4h2v2h-2zM276.2 231.7h2v2h-2zM283.5 229.7h2v2h-2zM285.9 232.5h2v2h-2zM286.4 225.3h2v2h-2zM272.3 239.7h2v2h-2zM291.9 231.5h2v2h-2zM277.7 240.6h2v2h-2zM273.1 235.7h2v2h-2zM302.0 221.4h2v2h-2zM291.3 232.9h2v2h-2zM278.0 232.2h2v2h-2zM281.2 231.3h2v2h-2zM297.0 222.3h2v2h-2zM297.0 223.1h2v2h-2zM287.8 231.5h2v2h-2zM268.8 237.9h2v2h-2zM304.2 220.0h2v2h-2zM286.4 229.3h2v2h-2zM294.8 221.8h2v2h-2zM281.9 237.5h2v2h-2zM294.1 223.7h2v2h-2zM263.9 246.1h2v2h-2zM291.5 233.0h2v2h-2zM284.5 225.7h2v2h-2zM299.8 224.9h2v2h-2zM299.7 225.3h2v2h-2zM281.6 239.2h2v2h-2zM275.0 233.6h2v2h-2zM279.7 242.7h2v2h-2zM283.6 235.6h2v2h-2zM266.9 247.1h2v2h-2zM278.8 231.6h2v2h-2zM261.3 246.9h2v2h-2zM264.3 246.8h2v2h-2zM278.3 234.5h2v2h-2zM290.0 223.4h2v2h-2zM281.0 228.0h2v2h-2zM281.3 230.2h2v2h-2zM285.1 228.3h2v2h-2zM301.2 224.9h2v2h-2zM298.5 222.8h2v2h-2zM281.6 237.8h2v2h-2zM272.8 238.9h2v2h-2zM285.5 229.4h2v2h-2zM298.5 224.7h2v2h-2zM294.5 226.1h2v2h-2zM283.1 237.0h2v2h-2zM286.9 226.4h2v2h-2zM280.4 238.4h2v2h-2zM265.7 241.4h2v2h-2zM271.5 246.2h2v2h-2zM272.1 238.2h2v2h-2zM273.0 234.6h2v2h-2zM280.2 231.2h2v2h-2zM280.9 231.1h2v2h-2zM285.5 229.4h2v2h-2zM287.0 226.6h2v2h-2zM271.4 239.4h2v2h-2zM304.6 219.0h2v2h-2zM277.7 237.3h2v2h-2zM291.0 222.4h2v2h-2zM292.2 230.3h2v2h-2zM285.8 235.9h2v2h-2zM277.7 235.0h2v2h-2zM272.8 237.0h2v2h-2zM263.5 250.0h2v2h-2zM273.5 242.4h2v2h-2zM285.7 233.0h2v2h-2zM271.5 240.0h2v2h-2zM283.9 235.0h2v2h-2zM281.0 229.1h2v2h-2zM287.3 236.8h2v2h-2zM301.3 221.5h2v2h-2zM269.2 239.1h2v2h-2zM273.9 231.4h2v2h-2zM281.9 238.6h2v2h-2zM279.3 236.3h2v2h-2zM266.8 239.5h2v2h-2zM273.4 239.7h2v2h-2zM299.7 223.0h2v2h-2zM295.3 230.0h2v2h-2zM281.6 235.5h2v2h-2zM282.6 228.2h2v2h-2zM280.1 229.5h2v2h-2zM276.6 232.9h2v2h-2zM285.9 233.3h2v2h-2zM283.1 238.5h2v2h-2zM278.2 237.1h2v2h-2zM280.7 229.3h2v2h-2zM295.0 224.8h2v2h-2zM286.8 231.7h2v2h-2zM290.0 224.5h2v2h-2zM282.8 236.6h2v2h-2zM267.5 243.1h2v2h-2zM290.1 226.0h2v2h-2zM275.6 233.0h2v2h-2zM288.4 230.4h2v2h-2zM282.0 231.4h2v2h-2zM301.9 219.6h2v2h-2zM275.3 234.8h2v2h-2zM273.1 237.9h2v2h-2zM291.3 228.6h2v2h-2zM270.6 234.7h2v2h-2zM287.1 227.3h2v2h-2zM298.7 221.3h2v2h-2zM274.3 237.1h2v2h-2zM273.3 237.8h2v2h-2zM290.8 225.7h2v2h-2zM280.5 237.0h2v2h-2zM287.2 230.7h2v2h-2zM270.6 237.5h2v2h-2zM267.3 240.9h2v2h-2zM296.0 229.1h2v2h-2zM295.2 224.9h2v2h-2zM284.4 229.9h2v2h-2zM292.6 225.7h2v2h-2zM294.0 230.8h2v2h-2zM289.3 227.6h2v2h-2zM290.8 224.3h2v2h-2zM303.0 222.5h2v2h-2zM276.8 231.1h2v2h-2zM281.9 239.7h2v2h-2zM276.2 235.3h2v2h-2zM293.3 227.0h2v2h-2zM290.3 229.1h2v2h-2zM264.6 243.1h2v2h-2zM281.8 234.0h2v2h-2zM299.5 225.9h2v2h-2zM285.0 227.2h2v2h-2zM290.4 229.9h2v2h-2zM297.0 222.8h2v2h-2zM289.7 229.8h2v2h-2zM306.4 220.1h2v2h-2zM288.4 225.4h2v2h-2zM295.6 227.7h2v2h-2zM272.9 241.4h2v2h-2zM292.7 231.7h2v2h-2zM280.7 238.5h2v2h-2zM271.1 234.8h2v2h-2zM277.4 237.8h2v2h-2zM293.9 229.3h2v2h-2zM285.8 227.3h2v2h-2zM287.0 223.7h2v2h-2zM279.4 231.7h2v2h-2zM293.9 224.3h2v2h-2zM296.1 224.0h2v2h-2zM294.4 221.6h2v2h-2zM278.4 236.8h2v2h-2zM288.1 231.3h2v2h-2zM279.3 234.7h2v2h-2zM297.7 226.6h2v2h-2zM274.6 230.5h2v2h-2zM296.0 224.4h2v2h-2zM282.4 238.9h2v2h-2zM280.5 231.8h2v2h-2zM292.2 230.5h2v2h-2zM292.0 230.9h2v2h-2zM284.7 235.6h2v2h-2zM279.9 233.0h2v2h-2zM298.5 226.4h2v2h-2zM286.3 234.9h2v2h-2zM266.6 244.7h2v2h-2zM281.4 240.9h2v2h-2zM291.1 231.1h2v2h-2zM288.7 226.3h2v2h-2zM276.3 238.0h2v2h-2zM270.3 237.5h2v2h-2zM275.2 232.7h2v2h-2zM287.0 224.9h2v2h-2zM287.3 230.2h2v2h-2zM290.5 231.0h2v2h-2zM294.7 221.5h2v2h-2zM276.1 235.9h2v2h-2zM301.4 221.4h2v2h-2zM279.6 233.6h2v2h-2zM293.5 228.9h2v2h-2zM291.5 228.3h2v2h-2zM275.0 238.5h2v2h-2zM278.1 237.7h2v2h-2zM295.0 222.7h2v2h-2zM285.2 235.4h2v2h-2zM279.4 227.5h2v2h-2zM284.6 236.7h2v2h-2zM286.8 232.2h2v2h-2zM289.7 225.2h2v2h-2zM281.2 227.1h2v2h-2zM289.2 231.1h2v2h-2zM292.7 227.6h2v2h-2zM284.7 225.3h2v2h-2zM288.0 225.7h2v2h-2zM284.0 232.9h2v2h-2zM275.2 239.7h2v2h-2zM291.3 226.5h2v2h-2zM280.5 230.5h2v2h-2zM280.9 229.9h2v2h-2zM281.3 235.8h2v2h-2zM270.9 240.1h2v2h-2zM287.8 230.4h2v2h-2zM306.4 218.7h2v2h-2zM278.1 235.3h2v2h-2zM281.2 233.0h2v2h-2zM265.0 242.9h2v2h-2zM295.3 225.1h2v2h-2zM274.0 232.6h2v2h-2zM296.5 232.6h2v2h-2zM287.3 229.5h2v2h-2zM297.8 225.8h2v2h-2zM265.0 246.7h2v2h-2zM292.8 230.0h2v2h-2zM276.0 237.0h2v2h-2zM276.7 228.1h2v2h-2zM295.7 216.5h2v2h-2zM275.0 228.5h2v2h-2zM288.8 220.5h2v2h-2zM272.7 231.2h2v2h-2zM288.8 219.5h2v2h-2zM288.8 220.5h2v2h-2zM278.0 227.1h2v2h-2zM279.5 225.5h2v2h-2zM256.1 238.3h2v2h-2zM249.6 239.6h2v2h-2zM261.3 245.4h2v2h-2zM260.7 248.0h2v2h-2zM259.4 250.0h2v2h-2zM252.9 251.9h2v2h-2zM256.1 254.5h2v2h-2zM257.4 255.8h2v2h-2zM253.5 255.2h2v2h-2zM262.0 253.9h2v2h-2zM258.7 259.1h2v2h-2zM260.0 257.1h2v2h-2zM273.0 250.0h2v2h-2zM273.7 251.3h2v2h-2zM284.1 240.9h2v2h-2zM287.3 242.8h2v2h-2zM304.2 209.7h2v2h-2zM297.4 213.1h2v2h-2zM292.6 215.9h2v2h-2zM299.5 232.2h2v2h-2zM298.8 235.6h2v2h-2zM292.6 239.1h2v2h-2zM291.3 241.1h2v2h-2zM287.2 243.2h2v2h-2zM282.4 243.2h2v2h-2zM289.2 239.7h2v2h-2zM235.7 246.2h2v2h-2zM243.6 246.9h2v2h-2zM256.2 238.9h2v2h-2zM252.8 252.5h2v2h-2zM256.2 259.4h2v2h-2zM290.4 251.5h2v2h-2z"/>
<line x1="231.40" y1="260.50" x2="316.30" y2="219.80" stroke="#e8606a" stroke-width="0.8" stroke-opacity="0.85"/>
<rect x="231.40" y="208.30" width="84.90" height="67.80" fill="none" stroke="#9a9a9a" stroke-width="1.1"/>
<path d="M231.40 276.10v1.2M230.20 276.10h1.2M238.47 276.10v1.2M230.20 270.45h1.2M245.55 276.10v1.2M230.20 264.80h1.2M252.62 276.10v1.2M230.20 259.15h1.2M259.70 276.10v1.2M230.20 253.50h1.2M266.78 276.10v1.2M230.20 247.85h1.2M273.85 276.10v1.2M230.20 242.20h1.2M280.93 276.10v1.2M230.20 236.55h1.2M288.00 276.10v1.2M230.20 230.90h1.2M295.07 276.10v1.2M230.20 225.25h1.2M302.15 276.10v1.2M230.20 219.60h1.2M309.23 276.10v1.2M230.20 213.95h1.2M316.30 276.10v1.2M230.20 208.30h1.2" stroke="#999" stroke-width="0.5" fill="none"/>
<text x="235.10" y="214.50" font-size="5.1" fill="#111" font-weight="bold" textLength="17.80" lengthAdjust="spacingAndGlyphs" stroke="#111" stroke-width="0.35">House E</text>
<text x="237.00" y="223.50" font-size="6.3" fill="#303030" stroke="#303030" stroke-width="0.22" textLength="49.60" lengthAdjust="spacingAndGlyphs">Q = 118.6 kJ/m<tspan font-size="3.91" dy="-2.4">3</tspan><tspan dy="2.4">K</tspan></text>
<text x="269.70" y="263.90" font-size="5.3" fill="#1e1e1e" stroke="#1e1e1e" stroke-width="0.28" font-weight="bold" textLength="25.90" lengthAdjust="spacingAndGlyphs">R<tspan font-size="3.18" dy="-1.8">2</tspan><tspan dy="1.8"> = 0.8445</tspan></text>
<line x1="20.7" y1="11.8" x2="524.5" y2="11.8" stroke="#dcdcdc" stroke-width="1.4"/>
<path d="M523.6,10.2 L527.4,11.8 L523.6,13.4 Z" fill="#a0a0a0"/>
<text x="470.3" y="9.2" font-size="6.9" fill="#8c8c8c" textLength="46.7" lengthAdjust="spacingAndGlyphs">Lower Q-value</text>
<line x1="538.8" y1="13.9" x2="538.8" y2="295" stroke="#e2e2e2" stroke-width="1.4"/>
<path d="M537.2,295.2 L538.8,298.6 L540.4,295.2 Z" fill="#a0a0a0"/>
<text x="0" y="0" font-size="6.5" fill="#8c8c8c" transform="translate(541.0,247.7) rotate(90)" textLength="46.4" lengthAdjust="spacingAndGlyphs">Lower Q-value</text>
</svg>
</body></html>
